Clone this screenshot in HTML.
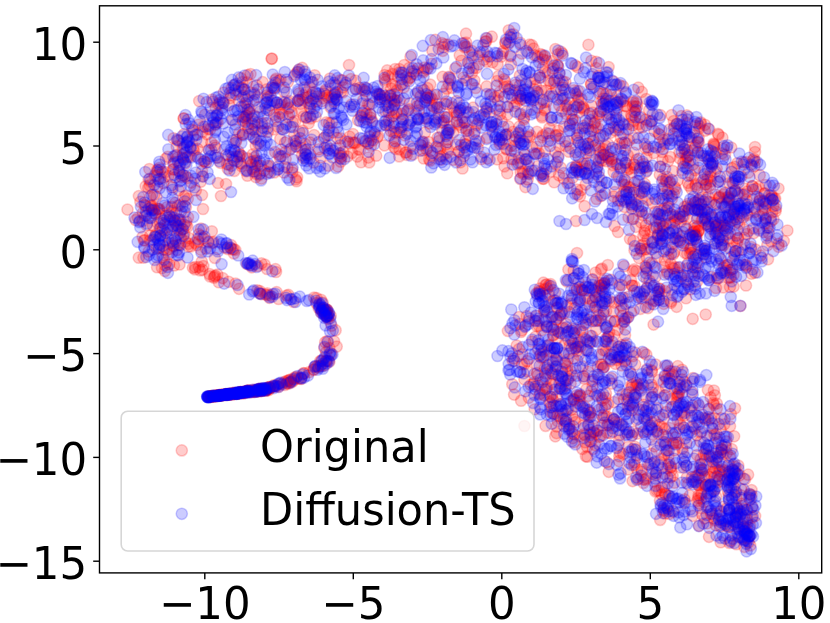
<!DOCTYPE html>
<html><head><meta charset="utf-8"><title>t-SNE</title><style>
html,body{margin:0;padding:0;background:#fff;overflow:hidden}
svg{display:block}
text{font-family:"DejaVu Sans","Liberation Sans",sans-serif;font-size:43.5px;fill:#000}
</style></head><body>
<svg width="830" height="623" viewBox="0 0 830 623">
<rect width="830" height="623" fill="#fff"/>
<g fill="#f00" fill-opacity=".2" stroke="#f00" stroke-opacity=".2" stroke-width="1.5"><circle cx="396.5" cy="111.9" r="5.6"/><circle cx="646.4" cy="278.5" r="5.6"/><circle cx="713.5" cy="143.6" r="5.6"/><circle cx="150.2" cy="235.6" r="5.6"/><circle cx="771.5" cy="195.2" r="5.6"/><circle cx="694.8" cy="170.1" r="5.6"/><circle cx="167.3" cy="207.0" r="5.6"/><circle cx="332.0" cy="122.5" r="5.6"/><circle cx="144.6" cy="205.0" r="5.6"/><circle cx="169.4" cy="249.1" r="5.6"/><circle cx="708.3" cy="196.8" r="5.6"/><circle cx="731.6" cy="449.1" r="5.6"/><circle cx="395.6" cy="148.9" r="5.6"/><circle cx="402.4" cy="119.2" r="5.6"/><circle cx="746.8" cy="213.6" r="5.6"/><circle cx="145.0" cy="215.7" r="5.6"/><circle cx="715.0" cy="489.3" r="5.6"/><circle cx="280.5" cy="79.5" r="5.6"/><circle cx="613.7" cy="127.0" r="5.6"/><circle cx="637.1" cy="106.6" r="5.6"/><circle cx="292.7" cy="122.3" r="5.6"/><circle cx="646.3" cy="268.2" r="5.6"/><circle cx="270.2" cy="166.2" r="5.6"/><circle cx="165.8" cy="158.8" r="5.6"/><circle cx="674.4" cy="126.6" r="5.6"/><circle cx="729.3" cy="542.9" r="5.6"/><circle cx="641.4" cy="469.6" r="5.6"/><circle cx="729.1" cy="227.2" r="5.6"/><circle cx="713.9" cy="390.5" r="5.6"/><circle cx="662.4" cy="194.2" r="5.6"/><circle cx="585.7" cy="286.5" r="5.6"/><circle cx="649.4" cy="280.5" r="5.6"/><circle cx="542.8" cy="67.7" r="5.6"/><circle cx="614.0" cy="302.6" r="5.6"/><circle cx="658.3" cy="233.7" r="5.6"/><circle cx="567.9" cy="359.4" r="5.6"/><circle cx="198.3" cy="124.9" r="5.6"/><circle cx="668.9" cy="206.4" r="5.6"/><circle cx="617.3" cy="96.4" r="5.6"/><circle cx="252.0" cy="168.8" r="5.6"/><circle cx="313.6" cy="162.5" r="5.6"/><circle cx="719.6" cy="196.5" r="5.6"/><circle cx="602.0" cy="354.4" r="5.6"/><circle cx="517.0" cy="164.3" r="5.6"/><circle cx="574.2" cy="419.6" r="5.6"/><circle cx="305.4" cy="97.8" r="5.6"/><circle cx="659.2" cy="291.3" r="5.6"/><circle cx="625.7" cy="162.6" r="5.6"/><circle cx="599.4" cy="295.8" r="5.6"/><circle cx="513.9" cy="159.4" r="5.6"/><circle cx="688.1" cy="484.1" r="5.6"/><circle cx="456.1" cy="144.5" r="5.6"/><circle cx="318.8" cy="149.3" r="5.6"/><circle cx="390.8" cy="131.0" r="5.6"/><circle cx="674.6" cy="388.3" r="5.6"/><circle cx="576.9" cy="288.4" r="5.6"/><circle cx="691.4" cy="137.6" r="5.6"/><circle cx="643.4" cy="432.2" r="5.6"/><circle cx="557.4" cy="65.0" r="5.6"/><circle cx="665.0" cy="429.0" r="5.6"/><circle cx="492.3" cy="125.1" r="5.6"/><circle cx="687.4" cy="150.2" r="5.6"/><circle cx="629.9" cy="199.8" r="5.6"/><circle cx="589.7" cy="342.1" r="5.6"/><circle cx="602.3" cy="425.5" r="5.6"/><circle cx="193.0" cy="148.5" r="5.6"/><circle cx="668.2" cy="161.1" r="5.6"/><circle cx="578.5" cy="281.7" r="5.6"/><circle cx="664.5" cy="474.1" r="5.6"/><circle cx="169.4" cy="213.3" r="5.6"/><circle cx="760.0" cy="200.1" r="5.6"/><circle cx="475.6" cy="88.0" r="5.6"/><circle cx="565.4" cy="363.7" r="5.6"/><circle cx="283.8" cy="172.5" r="5.6"/><circle cx="445.9" cy="144.5" r="5.6"/><circle cx="578.0" cy="343.0" r="5.6"/><circle cx="605.9" cy="393.4" r="5.6"/><circle cx="651.7" cy="370.3" r="5.6"/><circle cx="254.7" cy="125.4" r="5.6"/><circle cx="137.9" cy="217.8" r="5.6"/><circle cx="205.0" cy="114.7" r="5.6"/><circle cx="515.1" cy="85.2" r="5.6"/><circle cx="552.0" cy="382.2" r="5.6"/><circle cx="143.4" cy="257.7" r="5.6"/><circle cx="503.2" cy="51.2" r="5.6"/><circle cx="672.7" cy="443.0" r="5.6"/><circle cx="536.7" cy="326.1" r="5.6"/><circle cx="555.9" cy="136.1" r="5.6"/><circle cx="305.6" cy="153.6" r="5.6"/><circle cx="702.1" cy="514.5" r="5.6"/><circle cx="384.7" cy="75.0" r="5.6"/><circle cx="598.5" cy="128.3" r="5.6"/><circle cx="728.5" cy="527.2" r="5.6"/><circle cx="521.8" cy="53.6" r="5.6"/><circle cx="572.1" cy="375.3" r="5.6"/><circle cx="636.7" cy="159.6" r="5.6"/><circle cx="591.0" cy="437.1" r="5.6"/><circle cx="701.8" cy="220.2" r="5.6"/><circle cx="647.0" cy="408.6" r="5.6"/><circle cx="651.0" cy="304.1" r="5.6"/><circle cx="393.9" cy="147.0" r="5.6"/><circle cx="686.4" cy="219.1" r="5.6"/><circle cx="510.1" cy="89.5" r="5.6"/><circle cx="571.7" cy="298.2" r="5.6"/><circle cx="546.4" cy="133.2" r="5.6"/><circle cx="670.9" cy="301.2" r="5.6"/><circle cx="579.9" cy="196.3" r="5.6"/><circle cx="519.1" cy="317.1" r="5.6"/><circle cx="771.1" cy="221.3" r="5.6"/><circle cx="634.3" cy="286.1" r="5.6"/><circle cx="607.8" cy="265.0" r="5.6"/><circle cx="189.6" cy="141.7" r="5.6"/><circle cx="399.4" cy="149.4" r="5.6"/><circle cx="437.5" cy="137.8" r="5.6"/><circle cx="399.3" cy="69.0" r="5.6"/><circle cx="193.8" cy="150.4" r="5.6"/><circle cx="735.2" cy="180.5" r="5.6"/><circle cx="539.8" cy="292.0" r="5.6"/><circle cx="447.7" cy="139.6" r="5.6"/><circle cx="709.7" cy="455.4" r="5.6"/><circle cx="560.6" cy="167.5" r="5.6"/><circle cx="714.5" cy="418.3" r="5.6"/><circle cx="593.6" cy="418.6" r="5.6"/><circle cx="644.7" cy="143.9" r="5.6"/><circle cx="521.9" cy="99.1" r="5.6"/><circle cx="240.5" cy="154.9" r="5.6"/><circle cx="771.1" cy="241.5" r="5.6"/><circle cx="655.5" cy="277.1" r="5.6"/><circle cx="368.3" cy="157.6" r="5.6"/><circle cx="734.7" cy="166.9" r="5.6"/><circle cx="168.4" cy="254.5" r="5.6"/><circle cx="680.8" cy="221.5" r="5.6"/><circle cx="673.2" cy="215.0" r="5.6"/><circle cx="557.3" cy="307.4" r="5.6"/><circle cx="228.5" cy="164.5" r="5.6"/><circle cx="603.5" cy="103.7" r="5.6"/><circle cx="423.4" cy="70.7" r="5.6"/><circle cx="731.8" cy="168.2" r="5.6"/><circle cx="590.2" cy="412.8" r="5.6"/><circle cx="662.6" cy="159.7" r="5.6"/><circle cx="701.3" cy="492.6" r="5.6"/><circle cx="699.5" cy="209.9" r="5.6"/><circle cx="535.9" cy="85.6" r="5.6"/><circle cx="544.7" cy="151.6" r="5.6"/><circle cx="226.2" cy="154.8" r="5.6"/><circle cx="647.1" cy="369.1" r="5.6"/><circle cx="621.2" cy="200.9" r="5.6"/><circle cx="316.4" cy="101.2" r="5.6"/><circle cx="533.6" cy="48.6" r="5.6"/><circle cx="254.1" cy="157.6" r="5.6"/><circle cx="343.4" cy="152.2" r="5.6"/><circle cx="608.7" cy="158.2" r="5.6"/><circle cx="694.9" cy="228.2" r="5.6"/><circle cx="604.0" cy="283.9" r="5.6"/><circle cx="576.3" cy="127.9" r="5.6"/><circle cx="705.2" cy="459.8" r="5.6"/><circle cx="504.9" cy="81.0" r="5.6"/><circle cx="300.0" cy="141.8" r="5.6"/><circle cx="677.6" cy="272.7" r="5.6"/><circle cx="566.8" cy="281.4" r="5.6"/><circle cx="631.8" cy="204.9" r="5.6"/><circle cx="735.2" cy="190.1" r="5.6"/><circle cx="580.8" cy="107.7" r="5.6"/><circle cx="325.7" cy="89.8" r="5.6"/><circle cx="612.0" cy="354.8" r="5.6"/><circle cx="635.1" cy="352.5" r="5.6"/><circle cx="616.0" cy="119.4" r="5.6"/><circle cx="640.3" cy="308.9" r="5.6"/><circle cx="312.8" cy="82.2" r="5.6"/><circle cx="557.6" cy="78.0" r="5.6"/><circle cx="312.7" cy="92.7" r="5.6"/><circle cx="473.4" cy="68.0" r="5.6"/><circle cx="564.2" cy="126.6" r="5.6"/><circle cx="734.7" cy="191.5" r="5.6"/><circle cx="614.7" cy="192.2" r="5.6"/><circle cx="692.5" cy="232.6" r="5.6"/><circle cx="703.7" cy="454.4" r="5.6"/><circle cx="183.0" cy="229.3" r="5.6"/><circle cx="623.7" cy="101.1" r="5.6"/><circle cx="645.4" cy="167.5" r="5.6"/><circle cx="743.5" cy="162.4" r="5.6"/><circle cx="146.7" cy="225.2" r="5.6"/><circle cx="628.7" cy="187.3" r="5.6"/><circle cx="407.1" cy="111.3" r="5.6"/><circle cx="725.0" cy="154.8" r="5.6"/><circle cx="662.8" cy="226.7" r="5.6"/><circle cx="617.9" cy="356.9" r="5.6"/><circle cx="300.7" cy="103.9" r="5.6"/><circle cx="236.2" cy="139.9" r="5.6"/><circle cx="583.8" cy="108.3" r="5.6"/><circle cx="746.7" cy="234.1" r="5.6"/><circle cx="504.5" cy="166.4" r="5.6"/><circle cx="523.9" cy="119.6" r="5.6"/><circle cx="729.8" cy="248.3" r="5.6"/><circle cx="603.5" cy="313.9" r="5.6"/><circle cx="246.9" cy="99.7" r="5.6"/><circle cx="595.1" cy="445.1" r="5.6"/><circle cx="540.7" cy="354.1" r="5.6"/><circle cx="563.3" cy="327.5" r="5.6"/><circle cx="747.2" cy="522.9" r="5.6"/><circle cx="512.8" cy="360.9" r="5.6"/><circle cx="708.9" cy="201.8" r="5.6"/><circle cx="671.1" cy="470.7" r="5.6"/><circle cx="542.4" cy="356.9" r="5.6"/><circle cx="634.5" cy="462.2" r="5.6"/><circle cx="673.3" cy="511.8" r="5.6"/><circle cx="652.2" cy="203.0" r="5.6"/><circle cx="214.9" cy="257.9" r="5.6"/><circle cx="340.6" cy="80.0" r="5.6"/><circle cx="175.3" cy="202.9" r="5.6"/><circle cx="741.4" cy="176.4" r="5.6"/><circle cx="645.5" cy="479.7" r="5.6"/><circle cx="145.7" cy="186.3" r="5.6"/><circle cx="631.1" cy="312.4" r="5.6"/><circle cx="664.9" cy="493.3" r="5.6"/><circle cx="677.6" cy="419.8" r="5.6"/><circle cx="595.2" cy="296.5" r="5.6"/><circle cx="559.2" cy="332.7" r="5.6"/><circle cx="713.8" cy="467.6" r="5.6"/><circle cx="667.6" cy="207.4" r="5.6"/><circle cx="534.8" cy="55.3" r="5.6"/><circle cx="394.1" cy="101.4" r="5.6"/><circle cx="505.6" cy="43.3" r="5.6"/><circle cx="595.2" cy="321.0" r="5.6"/><circle cx="291.8" cy="112.4" r="5.6"/><circle cx="775.2" cy="198.4" r="5.6"/><circle cx="593.8" cy="431.9" r="5.6"/><circle cx="418.7" cy="110.4" r="5.6"/><circle cx="503.9" cy="79.3" r="5.6"/><circle cx="479.2" cy="141.3" r="5.6"/><circle cx="603.6" cy="84.0" r="5.6"/><circle cx="753.8" cy="233.1" r="5.6"/><circle cx="638.9" cy="211.2" r="5.6"/><circle cx="751.2" cy="247.0" r="5.6"/><circle cx="606.6" cy="416.3" r="5.6"/><circle cx="188.6" cy="243.8" r="5.6"/><circle cx="598.4" cy="75.9" r="5.6"/><circle cx="682.0" cy="369.8" r="5.6"/><circle cx="671.0" cy="407.7" r="5.6"/><circle cx="190.8" cy="246.4" r="5.6"/><circle cx="755.7" cy="249.6" r="5.6"/><circle cx="748.3" cy="172.7" r="5.6"/><circle cx="648.4" cy="150.0" r="5.6"/><circle cx="735.0" cy="208.8" r="5.6"/><circle cx="738.5" cy="528.1" r="5.6"/><circle cx="366.5" cy="113.9" r="5.6"/><circle cx="620.0" cy="452.8" r="5.6"/><circle cx="752.5" cy="186.2" r="5.6"/><circle cx="657.3" cy="408.0" r="5.6"/><circle cx="544.4" cy="309.9" r="5.6"/><circle cx="349.5" cy="136.6" r="5.6"/><circle cx="601.2" cy="320.6" r="5.6"/><circle cx="627.8" cy="155.3" r="5.6"/><circle cx="715.9" cy="525.4" r="5.6"/><circle cx="520.7" cy="172.3" r="5.6"/><circle cx="292.0" cy="169.2" r="5.6"/><circle cx="258.7" cy="107.3" r="5.6"/><circle cx="625.0" cy="335.2" r="5.6"/><circle cx="591.3" cy="441.3" r="5.6"/><circle cx="306.2" cy="117.7" r="5.6"/><circle cx="506.0" cy="148.9" r="5.6"/><circle cx="366.9" cy="119.4" r="5.6"/><circle cx="275.1" cy="152.1" r="5.6"/><circle cx="679.1" cy="241.5" r="5.6"/><circle cx="656.2" cy="472.7" r="5.6"/><circle cx="438.6" cy="141.2" r="5.6"/><circle cx="685.1" cy="153.2" r="5.6"/><circle cx="679.3" cy="140.4" r="5.6"/><circle cx="750.1" cy="525.9" r="5.6"/><circle cx="542.3" cy="137.1" r="5.6"/><circle cx="224.4" cy="247.4" r="5.6"/><circle cx="177.4" cy="157.8" r="5.6"/><circle cx="595.4" cy="306.3" r="5.6"/><circle cx="596.7" cy="430.4" r="5.6"/><circle cx="295.2" cy="121.2" r="5.6"/><circle cx="698.6" cy="495.3" r="5.6"/><circle cx="326.7" cy="145.8" r="5.6"/><circle cx="676.6" cy="306.8" r="5.6"/><circle cx="138.9" cy="196.1" r="5.6"/><circle cx="721.4" cy="418.3" r="5.6"/><circle cx="710.9" cy="181.2" r="5.6"/><circle cx="553.0" cy="374.3" r="5.6"/><circle cx="410.4" cy="146.9" r="5.6"/><circle cx="681.3" cy="116.2" r="5.6"/><circle cx="672.9" cy="374.8" r="5.6"/><circle cx="197.0" cy="245.1" r="5.6"/><circle cx="674.7" cy="187.0" r="5.6"/><circle cx="426.5" cy="149.4" r="5.6"/><circle cx="302.4" cy="99.6" r="5.6"/><circle cx="699.9" cy="470.3" r="5.6"/><circle cx="463.7" cy="156.2" r="5.6"/><circle cx="388.8" cy="120.5" r="5.6"/><circle cx="603.9" cy="280.5" r="5.6"/><circle cx="754.0" cy="158.8" r="5.6"/><circle cx="724.9" cy="470.8" r="5.6"/><circle cx="684.7" cy="145.6" r="5.6"/><circle cx="569.4" cy="424.7" r="5.6"/><circle cx="599.1" cy="285.8" r="5.6"/><circle cx="171.9" cy="211.1" r="5.6"/><circle cx="502.2" cy="53.5" r="5.6"/><circle cx="159.2" cy="247.9" r="5.6"/><circle cx="326.5" cy="122.3" r="5.6"/><circle cx="613.6" cy="311.9" r="5.6"/><circle cx="636.0" cy="226.8" r="5.6"/><circle cx="663.4" cy="267.0" r="5.6"/><circle cx="360.0" cy="149.9" r="5.6"/><circle cx="741.7" cy="503.8" r="5.6"/><circle cx="608.6" cy="67.1" r="5.6"/><circle cx="369.2" cy="162.4" r="5.6"/><circle cx="716.0" cy="513.6" r="5.6"/><circle cx="634.9" cy="446.8" r="5.6"/><circle cx="541.0" cy="357.6" r="5.6"/><circle cx="670.9" cy="263.7" r="5.6"/><circle cx="687.7" cy="156.5" r="5.6"/><circle cx="744.1" cy="229.4" r="5.6"/><circle cx="727.7" cy="199.9" r="5.6"/><circle cx="747.2" cy="191.7" r="5.6"/><circle cx="624.7" cy="361.6" r="5.6"/><circle cx="533.4" cy="384.0" r="5.6"/><circle cx="540.6" cy="296.3" r="5.6"/><circle cx="208.2" cy="129.0" r="5.6"/><circle cx="591.0" cy="84.5" r="5.6"/><circle cx="632.4" cy="218.9" r="5.6"/><circle cx="185.9" cy="207.2" r="5.6"/><circle cx="661.7" cy="458.9" r="5.6"/><circle cx="624.2" cy="322.1" r="5.6"/><circle cx="468.7" cy="135.1" r="5.6"/><circle cx="636.6" cy="382.8" r="5.6"/><circle cx="571.2" cy="409.9" r="5.6"/><circle cx="694.0" cy="231.9" r="5.6"/><circle cx="557.9" cy="135.1" r="5.6"/><circle cx="521.1" cy="332.0" r="5.6"/><circle cx="650.8" cy="463.1" r="5.6"/><circle cx="774.2" cy="199.0" r="5.6"/><circle cx="747.5" cy="509.9" r="5.6"/><circle cx="409.6" cy="103.4" r="5.6"/><circle cx="722.4" cy="137.7" r="5.6"/><circle cx="678.4" cy="395.3" r="5.6"/><circle cx="550.5" cy="171.7" r="5.6"/><circle cx="579.4" cy="112.4" r="5.6"/><circle cx="765.1" cy="207.1" r="5.6"/><circle cx="394.5" cy="143.0" r="5.6"/><circle cx="746.6" cy="266.6" r="5.6"/><circle cx="590.8" cy="433.2" r="5.6"/><circle cx="638.3" cy="87.7" r="5.6"/><circle cx="598.7" cy="162.2" r="5.6"/><circle cx="713.3" cy="403.1" r="5.6"/><circle cx="567.2" cy="366.3" r="5.6"/><circle cx="754.4" cy="166.3" r="5.6"/><circle cx="643.4" cy="482.9" r="5.6"/><circle cx="278.3" cy="104.5" r="5.6"/><circle cx="730.3" cy="540.7" r="5.6"/><circle cx="575.5" cy="422.2" r="5.6"/><circle cx="200.9" cy="235.9" r="5.6"/><circle cx="135.6" cy="220.1" r="5.6"/><circle cx="703.0" cy="249.2" r="5.6"/><circle cx="713.3" cy="471.9" r="5.6"/><circle cx="254.0" cy="138.2" r="5.6"/><circle cx="713.8" cy="144.6" r="5.6"/><circle cx="772.1" cy="212.2" r="5.6"/><circle cx="477.8" cy="148.3" r="5.6"/><circle cx="164.1" cy="177.4" r="5.6"/><circle cx="543.0" cy="135.3" r="5.6"/><circle cx="592.9" cy="449.0" r="5.6"/><circle cx="389.7" cy="95.6" r="5.6"/><circle cx="280.1" cy="113.2" r="5.6"/><circle cx="526.7" cy="316.2" r="5.6"/><circle cx="725.4" cy="479.8" r="5.6"/><circle cx="748.1" cy="474.7" r="5.6"/><circle cx="585.9" cy="456.3" r="5.6"/><circle cx="178.2" cy="230.0" r="5.6"/><circle cx="738.0" cy="250.2" r="5.6"/><circle cx="669.3" cy="462.7" r="5.6"/><circle cx="530.6" cy="135.4" r="5.6"/><circle cx="173.8" cy="246.3" r="5.6"/><circle cx="155.1" cy="236.1" r="5.6"/><circle cx="645.4" cy="266.2" r="5.6"/><circle cx="646.7" cy="417.6" r="5.6"/><circle cx="247.5" cy="75.2" r="5.6"/><circle cx="479.1" cy="116.8" r="5.6"/><circle cx="588.6" cy="424.6" r="5.6"/><circle cx="580.6" cy="346.5" r="5.6"/><circle cx="249.0" cy="112.6" r="5.6"/><circle cx="663.4" cy="226.4" r="5.6"/><circle cx="323.2" cy="98.1" r="5.6"/><circle cx="530.7" cy="384.9" r="5.6"/><circle cx="294.1" cy="135.4" r="5.6"/><circle cx="705.6" cy="224.7" r="5.6"/><circle cx="605.2" cy="145.5" r="5.6"/><circle cx="254.7" cy="171.5" r="5.6"/><circle cx="199.2" cy="101.1" r="5.6"/><circle cx="448.8" cy="83.9" r="5.6"/><circle cx="548.8" cy="80.7" r="5.6"/><circle cx="382.0" cy="97.1" r="5.6"/><circle cx="634.2" cy="465.0" r="5.6"/><circle cx="699.9" cy="197.9" r="5.6"/><circle cx="754.7" cy="212.0" r="5.6"/><circle cx="729.1" cy="474.3" r="5.6"/><circle cx="543.6" cy="173.8" r="5.6"/><circle cx="537.5" cy="107.6" r="5.6"/><circle cx="442.2" cy="130.1" r="5.6"/><circle cx="527.1" cy="136.8" r="5.6"/><circle cx="582.5" cy="290.0" r="5.6"/><circle cx="554.2" cy="182.2" r="5.6"/><circle cx="720.2" cy="526.5" r="5.6"/><circle cx="423.4" cy="72.2" r="5.6"/><circle cx="688.5" cy="210.0" r="5.6"/><circle cx="662.7" cy="231.1" r="5.6"/><circle cx="726.0" cy="525.3" r="5.6"/><circle cx="572.3" cy="415.8" r="5.6"/><circle cx="150.3" cy="196.8" r="5.6"/><circle cx="574.7" cy="349.0" r="5.6"/><circle cx="683.0" cy="453.1" r="5.6"/><circle cx="371.0" cy="145.7" r="5.6"/><circle cx="217.8" cy="157.5" r="5.6"/><circle cx="278.1" cy="126.8" r="5.6"/><circle cx="600.9" cy="269.6" r="5.6"/><circle cx="259.2" cy="174.9" r="5.6"/><circle cx="697.8" cy="217.1" r="5.6"/><circle cx="609.3" cy="425.7" r="5.6"/><circle cx="755.1" cy="516.0" r="5.6"/><circle cx="679.0" cy="392.8" r="5.6"/><circle cx="474.7" cy="131.7" r="5.6"/><circle cx="537.0" cy="131.8" r="5.6"/><circle cx="641.8" cy="91.9" r="5.6"/><circle cx="571.0" cy="371.1" r="5.6"/><circle cx="604.8" cy="155.0" r="5.6"/><circle cx="436.4" cy="103.6" r="5.6"/><circle cx="347.5" cy="156.5" r="5.6"/><circle cx="240.3" cy="162.8" r="5.6"/><circle cx="185.2" cy="163.4" r="5.6"/><circle cx="772.2" cy="196.9" r="5.6"/><circle cx="453.1" cy="159.8" r="5.6"/><circle cx="622.4" cy="142.9" r="5.6"/><circle cx="370.0" cy="114.2" r="5.6"/><circle cx="328.5" cy="165.7" r="5.6"/><circle cx="511.6" cy="98.1" r="5.6"/><circle cx="573.2" cy="358.5" r="5.6"/><circle cx="651.6" cy="219.4" r="5.6"/><circle cx="661.0" cy="294.1" r="5.6"/><circle cx="233.0" cy="159.4" r="5.6"/><circle cx="273.3" cy="88.0" r="5.6"/><circle cx="250.5" cy="74.1" r="5.6"/><circle cx="684.7" cy="226.2" r="5.6"/><circle cx="672.0" cy="198.8" r="5.6"/><circle cx="643.4" cy="479.6" r="5.6"/><circle cx="626.7" cy="143.5" r="5.6"/><circle cx="702.6" cy="194.6" r="5.6"/><circle cx="519.8" cy="114.7" r="5.6"/><circle cx="672.6" cy="476.0" r="5.6"/><circle cx="726.1" cy="447.4" r="5.6"/><circle cx="719.3" cy="212.0" r="5.6"/><circle cx="680.4" cy="240.3" r="5.6"/><circle cx="689.9" cy="495.6" r="5.6"/><circle cx="686.0" cy="298.2" r="5.6"/><circle cx="652.0" cy="263.4" r="5.6"/><circle cx="643.6" cy="187.1" r="5.6"/><circle cx="285.5" cy="151.9" r="5.6"/><circle cx="711.4" cy="202.5" r="5.6"/><circle cx="631.5" cy="435.7" r="5.6"/><circle cx="724.7" cy="206.4" r="5.6"/><circle cx="710.5" cy="435.3" r="5.6"/><circle cx="446.8" cy="104.5" r="5.6"/><circle cx="550.6" cy="284.2" r="5.6"/><circle cx="582.7" cy="366.4" r="5.6"/><circle cx="716.1" cy="496.6" r="5.6"/><circle cx="582.3" cy="290.3" r="5.6"/><circle cx="633.4" cy="240.8" r="5.6"/><circle cx="698.3" cy="498.0" r="5.6"/><circle cx="668.5" cy="138.5" r="5.6"/><circle cx="647.1" cy="420.5" r="5.6"/><circle cx="657.7" cy="235.1" r="5.6"/><circle cx="715.5" cy="171.5" r="5.6"/><circle cx="747.3" cy="215.1" r="5.6"/><circle cx="767.3" cy="245.2" r="5.6"/><circle cx="355.6" cy="142.7" r="5.6"/><circle cx="566.6" cy="426.0" r="5.6"/><circle cx="710.6" cy="492.7" r="5.6"/><circle cx="578.0" cy="97.2" r="5.6"/><circle cx="241.8" cy="87.6" r="5.6"/><circle cx="703.8" cy="502.0" r="5.6"/><circle cx="555.4" cy="49.2" r="5.6"/><circle cx="573.3" cy="399.1" r="5.6"/><circle cx="570.6" cy="383.4" r="5.6"/><circle cx="526.3" cy="111.7" r="5.6"/><circle cx="529.4" cy="174.1" r="5.6"/><circle cx="541.1" cy="172.6" r="5.6"/><circle cx="184.2" cy="234.1" r="5.6"/><circle cx="671.5" cy="376.4" r="5.6"/><circle cx="560.7" cy="404.4" r="5.6"/><circle cx="714.8" cy="395.3" r="5.6"/><circle cx="588.1" cy="371.8" r="5.6"/><circle cx="671.0" cy="399.0" r="5.6"/><circle cx="562.4" cy="53.7" r="5.6"/><circle cx="672.7" cy="268.2" r="5.6"/><circle cx="553.3" cy="68.6" r="5.6"/><circle cx="700.0" cy="464.7" r="5.6"/><circle cx="677.1" cy="394.1" r="5.6"/><circle cx="653.9" cy="481.6" r="5.6"/><circle cx="150.7" cy="205.6" r="5.6"/><circle cx="559.0" cy="175.3" r="5.6"/><circle cx="602.8" cy="155.0" r="5.6"/><circle cx="598.9" cy="116.4" r="5.6"/><circle cx="585.8" cy="149.0" r="5.6"/><circle cx="692.1" cy="477.2" r="5.6"/><circle cx="682.4" cy="448.5" r="5.6"/><circle cx="625.7" cy="185.2" r="5.6"/><circle cx="586.4" cy="168.9" r="5.6"/><circle cx="673.4" cy="254.0" r="5.6"/><circle cx="715.3" cy="231.9" r="5.6"/><circle cx="684.4" cy="381.9" r="5.6"/><circle cx="717.8" cy="482.4" r="5.6"/><circle cx="622.6" cy="394.2" r="5.6"/><circle cx="692.9" cy="426.7" r="5.6"/><circle cx="718.6" cy="134.9" r="5.6"/><circle cx="674.9" cy="267.0" r="5.6"/><circle cx="702.7" cy="218.4" r="5.6"/><circle cx="674.4" cy="482.7" r="5.6"/><circle cx="364.5" cy="111.2" r="5.6"/><circle cx="601.4" cy="285.3" r="5.6"/><circle cx="720.6" cy="429.3" r="5.6"/><circle cx="683.5" cy="243.2" r="5.6"/><circle cx="600.4" cy="288.4" r="5.6"/><circle cx="669.5" cy="513.9" r="5.6"/><circle cx="519.9" cy="85.3" r="5.6"/><circle cx="605.4" cy="397.5" r="5.6"/><circle cx="576.7" cy="290.0" r="5.6"/><circle cx="539.8" cy="77.3" r="5.6"/><circle cx="204.7" cy="161.3" r="5.6"/><circle cx="487.4" cy="158.6" r="5.6"/><circle cx="247.0" cy="104.1" r="5.6"/><circle cx="637.5" cy="433.6" r="5.6"/><circle cx="698.3" cy="273.1" r="5.6"/><circle cx="701.3" cy="182.6" r="5.6"/><circle cx="405.1" cy="135.5" r="5.6"/><circle cx="722.4" cy="222.7" r="5.6"/><circle cx="174.0" cy="265.5" r="5.6"/><circle cx="168.4" cy="226.5" r="5.6"/><circle cx="627.0" cy="432.5" r="5.6"/><circle cx="693.0" cy="164.6" r="5.6"/><circle cx="575.3" cy="65.4" r="5.6"/><circle cx="342.7" cy="92.5" r="5.6"/><circle cx="255.8" cy="177.1" r="5.6"/><circle cx="743.0" cy="217.5" r="5.6"/><circle cx="771.7" cy="198.1" r="5.6"/><circle cx="358.3" cy="149.4" r="5.6"/><circle cx="635.3" cy="449.2" r="5.6"/><circle cx="161.2" cy="218.9" r="5.6"/><circle cx="576.5" cy="346.8" r="5.6"/><circle cx="559.8" cy="416.1" r="5.6"/><circle cx="591.4" cy="60.8" r="5.6"/><circle cx="364.3" cy="141.1" r="5.6"/><circle cx="701.1" cy="155.5" r="5.6"/><circle cx="310.8" cy="103.9" r="5.6"/><circle cx="541.7" cy="330.1" r="5.6"/><circle cx="626.2" cy="129.5" r="5.6"/><circle cx="682.1" cy="379.3" r="5.6"/><circle cx="592.6" cy="300.6" r="5.6"/><circle cx="764.8" cy="193.3" r="5.6"/><circle cx="534.5" cy="382.0" r="5.6"/><circle cx="455.2" cy="68.4" r="5.6"/><circle cx="573.7" cy="442.4" r="5.6"/><circle cx="296.6" cy="181.2" r="5.6"/><circle cx="654.9" cy="421.1" r="5.6"/><circle cx="341.4" cy="156.2" r="5.6"/><circle cx="667.1" cy="271.5" r="5.6"/><circle cx="497.9" cy="100.6" r="5.6"/><circle cx="591.2" cy="84.1" r="5.6"/><circle cx="603.0" cy="417.8" r="5.6"/><circle cx="519.9" cy="75.6" r="5.6"/><circle cx="406.4" cy="152.4" r="5.6"/><circle cx="577.8" cy="194.6" r="5.6"/><circle cx="583.2" cy="376.2" r="5.6"/><circle cx="736.3" cy="505.9" r="5.6"/><circle cx="427.5" cy="88.2" r="5.6"/><circle cx="698.8" cy="142.4" r="5.6"/><circle cx="251.9" cy="164.7" r="5.6"/><circle cx="451.7" cy="87.9" r="5.6"/><circle cx="592.6" cy="279.0" r="5.6"/><circle cx="665.9" cy="387.3" r="5.6"/><circle cx="592.8" cy="141.3" r="5.6"/><circle cx="576.7" cy="351.1" r="5.6"/><circle cx="462.4" cy="122.1" r="5.6"/><circle cx="522.7" cy="171.5" r="5.6"/><circle cx="561.2" cy="51.9" r="5.6"/><circle cx="743.6" cy="526.9" r="5.6"/><circle cx="665.9" cy="412.2" r="5.6"/><circle cx="695.9" cy="145.6" r="5.6"/><circle cx="732.8" cy="220.5" r="5.6"/><circle cx="491.8" cy="36.7" r="5.6"/><circle cx="545.9" cy="379.2" r="5.6"/><circle cx="562.7" cy="95.6" r="5.6"/><circle cx="765.7" cy="218.2" r="5.6"/><circle cx="648.2" cy="429.5" r="5.6"/><circle cx="618.7" cy="423.1" r="5.6"/><circle cx="659.8" cy="214.8" r="5.6"/><circle cx="697.5" cy="475.5" r="5.6"/><circle cx="583.8" cy="109.8" r="5.6"/><circle cx="765.8" cy="185.1" r="5.6"/><circle cx="248.2" cy="128.3" r="5.6"/><circle cx="581.4" cy="99.1" r="5.6"/><circle cx="674.3" cy="450.4" r="5.6"/><circle cx="153.7" cy="208.9" r="5.6"/><circle cx="713.6" cy="518.5" r="5.6"/><circle cx="486.8" cy="61.7" r="5.6"/><circle cx="249.4" cy="109.2" r="5.6"/><circle cx="644.7" cy="233.1" r="5.6"/><circle cx="656.8" cy="490.6" r="5.6"/><circle cx="698.7" cy="231.1" r="5.6"/><circle cx="639.0" cy="258.1" r="5.6"/><circle cx="530.1" cy="82.6" r="5.6"/><circle cx="700.6" cy="204.8" r="5.6"/><circle cx="595.9" cy="127.5" r="5.6"/><circle cx="730.8" cy="414.0" r="5.6"/><circle cx="584.9" cy="416.0" r="5.6"/><circle cx="552.0" cy="120.4" r="5.6"/><circle cx="280.6" cy="104.5" r="5.6"/><circle cx="409.2" cy="109.1" r="5.6"/><circle cx="578.4" cy="100.2" r="5.6"/><circle cx="644.7" cy="291.6" r="5.6"/><circle cx="619.6" cy="435.1" r="5.6"/><circle cx="145.5" cy="205.9" r="5.6"/><circle cx="600.9" cy="435.9" r="5.6"/><circle cx="526.9" cy="361.1" r="5.6"/><circle cx="738.0" cy="238.4" r="5.6"/><circle cx="727.8" cy="491.3" r="5.6"/><circle cx="310.9" cy="118.4" r="5.6"/><circle cx="627.3" cy="169.9" r="5.6"/><circle cx="511.5" cy="159.0" r="5.6"/><circle cx="684.1" cy="502.7" r="5.6"/><circle cx="737.9" cy="238.2" r="5.6"/><circle cx="391.6" cy="98.7" r="5.6"/><circle cx="200.7" cy="181.7" r="5.6"/><circle cx="720.0" cy="511.7" r="5.6"/><circle cx="391.7" cy="116.6" r="5.6"/><circle cx="649.1" cy="464.7" r="5.6"/><circle cx="715.5" cy="194.6" r="5.6"/><circle cx="365.4" cy="91.3" r="5.6"/><circle cx="725.4" cy="225.6" r="5.6"/><circle cx="396.5" cy="113.3" r="5.6"/><circle cx="442.6" cy="155.6" r="5.6"/><circle cx="424.4" cy="67.7" r="5.6"/><circle cx="461.5" cy="60.8" r="5.6"/><circle cx="717.8" cy="456.8" r="5.6"/><circle cx="561.9" cy="389.1" r="5.6"/><circle cx="223.4" cy="103.1" r="5.6"/><circle cx="601.1" cy="364.5" r="5.6"/><circle cx="738.3" cy="465.6" r="5.6"/><circle cx="374.8" cy="134.1" r="5.6"/><circle cx="151.3" cy="207.2" r="5.6"/><circle cx="716.7" cy="168.6" r="5.6"/><circle cx="280.0" cy="158.2" r="5.6"/><circle cx="234.4" cy="170.9" r="5.6"/><circle cx="643.7" cy="404.8" r="5.6"/><circle cx="200.2" cy="270.4" r="5.6"/><circle cx="536.9" cy="373.2" r="5.6"/><circle cx="734.5" cy="255.7" r="5.6"/><circle cx="730.5" cy="526.8" r="5.6"/><circle cx="586.1" cy="324.1" r="5.6"/><circle cx="646.8" cy="249.1" r="5.6"/><circle cx="681.6" cy="412.1" r="5.6"/><circle cx="334.1" cy="101.6" r="5.6"/><circle cx="401.4" cy="132.2" r="5.6"/><circle cx="573.7" cy="270.5" r="5.6"/><circle cx="736.6" cy="498.5" r="5.6"/><circle cx="763.5" cy="232.1" r="5.6"/><circle cx="622.2" cy="424.6" r="5.6"/><circle cx="354.2" cy="142.9" r="5.6"/><circle cx="728.2" cy="277.8" r="5.6"/><circle cx="417.9" cy="68.3" r="5.6"/><circle cx="157.2" cy="169.9" r="5.6"/><circle cx="203.4" cy="126.6" r="5.6"/><circle cx="714.3" cy="477.3" r="5.6"/><circle cx="179.8" cy="205.1" r="5.6"/><circle cx="745.1" cy="479.2" r="5.6"/><circle cx="698.2" cy="200.4" r="5.6"/><circle cx="159.2" cy="210.7" r="5.6"/><circle cx="677.7" cy="396.5" r="5.6"/><circle cx="624.4" cy="206.8" r="5.6"/><circle cx="707.4" cy="158.7" r="5.6"/><circle cx="558.0" cy="54.3" r="5.6"/><circle cx="334.8" cy="94.9" r="5.6"/><circle cx="758.7" cy="186.9" r="5.6"/><circle cx="667.1" cy="273.4" r="5.6"/><circle cx="690.1" cy="253.1" r="5.6"/><circle cx="388.2" cy="76.2" r="5.6"/><circle cx="579.5" cy="133.0" r="5.6"/><circle cx="703.9" cy="470.2" r="5.6"/><circle cx="623.4" cy="116.1" r="5.6"/><circle cx="565.4" cy="82.2" r="5.6"/><circle cx="681.4" cy="276.2" r="5.6"/><circle cx="487.0" cy="137.8" r="5.6"/><circle cx="603.1" cy="93.0" r="5.6"/><circle cx="368.0" cy="104.1" r="5.6"/><circle cx="701.4" cy="494.5" r="5.6"/><circle cx="778.5" cy="188.5" r="5.6"/><circle cx="177.1" cy="235.1" r="5.6"/><circle cx="727.1" cy="264.8" r="5.6"/><circle cx="592.5" cy="386.4" r="5.6"/><circle cx="778.6" cy="243.8" r="5.6"/><circle cx="394.2" cy="138.4" r="5.6"/><circle cx="598.9" cy="176.5" r="5.6"/><circle cx="562.5" cy="369.0" r="5.6"/><circle cx="142.4" cy="221.1" r="5.6"/><circle cx="718.0" cy="181.8" r="5.6"/><circle cx="567.6" cy="183.4" r="5.6"/><circle cx="301.1" cy="147.9" r="5.6"/><circle cx="712.4" cy="217.5" r="5.6"/><circle cx="238.5" cy="151.7" r="5.6"/><circle cx="512.3" cy="384.3" r="5.6"/><circle cx="565.2" cy="421.6" r="5.6"/><circle cx="709.0" cy="536.8" r="5.6"/><circle cx="563.7" cy="381.6" r="5.6"/><circle cx="298.6" cy="69.9" r="5.6"/><circle cx="667.9" cy="505.7" r="5.6"/><circle cx="154.6" cy="175.6" r="5.6"/><circle cx="672.7" cy="216.9" r="5.6"/><circle cx="607.3" cy="425.1" r="5.6"/><circle cx="668.4" cy="257.0" r="5.6"/><circle cx="629.2" cy="140.4" r="5.6"/><circle cx="242.7" cy="134.2" r="5.6"/><circle cx="698.3" cy="230.8" r="5.6"/><circle cx="545.6" cy="425.9" r="5.6"/><circle cx="550.7" cy="83.5" r="5.6"/><circle cx="568.0" cy="409.2" r="5.6"/><circle cx="722.0" cy="224.1" r="5.6"/><circle cx="618.7" cy="176.9" r="5.6"/><circle cx="728.1" cy="218.4" r="5.6"/><circle cx="215.5" cy="147.5" r="5.6"/><circle cx="710.2" cy="511.0" r="5.6"/><circle cx="369.5" cy="136.4" r="5.6"/><circle cx="501.5" cy="56.6" r="5.6"/><circle cx="528.3" cy="165.9" r="5.6"/><circle cx="169.2" cy="264.3" r="5.6"/><circle cx="531.8" cy="45.2" r="5.6"/><circle cx="219.8" cy="102.8" r="5.6"/><circle cx="424.2" cy="118.1" r="5.6"/><circle cx="399.2" cy="156.4" r="5.6"/><circle cx="231.8" cy="87.9" r="5.6"/><circle cx="432.1" cy="105.7" r="5.6"/><circle cx="735.6" cy="491.9" r="5.6"/><circle cx="285.7" cy="158.8" r="5.6"/><circle cx="552.3" cy="326.6" r="5.6"/><circle cx="650.2" cy="299.4" r="5.6"/><circle cx="582.3" cy="448.9" r="5.6"/><circle cx="159.8" cy="222.0" r="5.6"/><circle cx="685.9" cy="280.5" r="5.6"/><circle cx="574.4" cy="106.1" r="5.6"/><circle cx="625.8" cy="167.6" r="5.6"/><circle cx="644.3" cy="243.4" r="5.6"/><circle cx="351.9" cy="152.9" r="5.6"/><circle cx="538.8" cy="153.3" r="5.6"/><circle cx="563.6" cy="178.6" r="5.6"/><circle cx="601.1" cy="101.6" r="5.6"/><circle cx="507.4" cy="106.5" r="5.6"/><circle cx="725.9" cy="270.6" r="5.6"/><circle cx="164.5" cy="231.5" r="5.6"/><circle cx="156.5" cy="248.6" r="5.6"/><circle cx="695.0" cy="178.3" r="5.6"/><circle cx="556.5" cy="433.1" r="5.6"/><circle cx="584.0" cy="378.5" r="5.6"/><circle cx="592.7" cy="290.0" r="5.6"/><circle cx="714.8" cy="520.4" r="5.6"/><circle cx="706.9" cy="180.1" r="5.6"/><circle cx="591.9" cy="336.0" r="5.6"/><circle cx="664.4" cy="208.4" r="5.6"/><circle cx="202.1" cy="141.8" r="5.6"/><circle cx="525.4" cy="187.1" r="5.6"/><circle cx="696.8" cy="435.3" r="5.6"/><circle cx="175.1" cy="221.4" r="5.6"/><circle cx="662.1" cy="200.7" r="5.6"/><circle cx="597.8" cy="366.6" r="5.6"/><circle cx="568.9" cy="151.7" r="5.6"/><circle cx="396.4" cy="100.8" r="5.6"/><circle cx="194.8" cy="242.8" r="5.6"/><circle cx="341.0" cy="91.7" r="5.6"/><circle cx="700.4" cy="441.6" r="5.6"/><circle cx="443.4" cy="47.2" r="5.6"/><circle cx="697.8" cy="152.8" r="5.6"/><circle cx="719.1" cy="197.6" r="5.6"/><circle cx="266.7" cy="89.3" r="5.6"/><circle cx="778.6" cy="246.8" r="5.6"/><circle cx="729.3" cy="198.7" r="5.6"/><circle cx="534.7" cy="409.3" r="5.6"/><circle cx="188.9" cy="238.1" r="5.6"/><circle cx="653.5" cy="300.8" r="5.6"/><circle cx="498.5" cy="95.8" r="5.6"/><circle cx="615.3" cy="363.8" r="5.6"/><circle cx="585.0" cy="442.2" r="5.6"/><circle cx="560.6" cy="380.0" r="5.6"/><circle cx="262.7" cy="82.2" r="5.6"/><circle cx="675.7" cy="437.4" r="5.6"/><circle cx="626.4" cy="394.6" r="5.6"/><circle cx="634.3" cy="112.1" r="5.6"/><circle cx="744.7" cy="194.4" r="5.6"/><circle cx="694.3" cy="225.9" r="5.6"/><circle cx="775.9" cy="208.5" r="5.6"/><circle cx="441.0" cy="159.6" r="5.6"/><circle cx="629.8" cy="187.1" r="5.6"/><circle cx="391.1" cy="88.7" r="5.6"/><circle cx="302.0" cy="155.4" r="5.6"/><circle cx="643.6" cy="164.0" r="5.6"/><circle cx="628.2" cy="469.4" r="5.6"/><circle cx="546.5" cy="284.4" r="5.6"/><circle cx="472.0" cy="51.0" r="5.6"/><circle cx="246.9" cy="115.8" r="5.6"/><circle cx="633.4" cy="101.3" r="5.6"/><circle cx="241.3" cy="163.7" r="5.6"/><circle cx="700.6" cy="507.9" r="5.6"/><circle cx="173.6" cy="138.3" r="5.6"/><circle cx="426.8" cy="69.2" r="5.6"/><circle cx="607.9" cy="343.8" r="5.6"/><circle cx="699.1" cy="525.8" r="5.6"/><circle cx="669.6" cy="371.0" r="5.6"/><circle cx="548.1" cy="345.2" r="5.6"/><circle cx="579.6" cy="395.6" r="5.6"/><circle cx="707.9" cy="390.0" r="5.6"/><circle cx="242.8" cy="134.3" r="5.6"/><circle cx="611.2" cy="378.2" r="5.6"/><circle cx="304.4" cy="87.3" r="5.6"/><circle cx="752.1" cy="517.7" r="5.6"/><circle cx="596.6" cy="199.0" r="5.6"/><circle cx="710.6" cy="474.3" r="5.6"/><circle cx="697.1" cy="262.8" r="5.6"/><circle cx="699.4" cy="126.3" r="5.6"/><circle cx="223.7" cy="92.7" r="5.6"/><circle cx="719.5" cy="197.8" r="5.6"/><circle cx="220.4" cy="162.8" r="5.6"/><circle cx="574.8" cy="308.1" r="5.6"/><circle cx="638.9" cy="194.1" r="5.6"/><circle cx="739.2" cy="193.3" r="5.6"/><circle cx="337.2" cy="138.1" r="5.6"/><circle cx="385.3" cy="81.9" r="5.6"/><circle cx="558.0" cy="156.5" r="5.6"/><circle cx="314.6" cy="75.3" r="5.6"/><circle cx="610.5" cy="132.8" r="5.6"/><circle cx="239.0" cy="100.7" r="5.6"/><circle cx="683.7" cy="216.5" r="5.6"/><circle cx="664.3" cy="395.6" r="5.6"/><circle cx="165.3" cy="172.1" r="5.6"/><circle cx="573.9" cy="400.4" r="5.6"/><circle cx="601.4" cy="285.5" r="5.6"/><circle cx="619.1" cy="346.6" r="5.6"/><circle cx="181.5" cy="177.1" r="5.6"/><circle cx="573.9" cy="343.5" r="5.6"/><circle cx="598.7" cy="150.4" r="5.6"/><circle cx="330.0" cy="78.5" r="5.6"/><circle cx="429.1" cy="159.4" r="5.6"/><circle cx="653.9" cy="227.7" r="5.6"/><circle cx="437.6" cy="147.9" r="5.6"/><circle cx="695.2" cy="202.4" r="5.6"/><circle cx="587.4" cy="456.7" r="5.6"/><circle cx="596.2" cy="68.1" r="5.6"/><circle cx="444.8" cy="103.6" r="5.6"/><circle cx="639.2" cy="388.1" r="5.6"/><circle cx="714.6" cy="146.4" r="5.6"/><circle cx="532.1" cy="341.7" r="5.6"/><circle cx="611.5" cy="345.9" r="5.6"/><circle cx="621.8" cy="285.1" r="5.6"/><circle cx="660.4" cy="115.2" r="5.6"/><circle cx="556.3" cy="366.1" r="5.6"/><circle cx="456.6" cy="101.2" r="5.6"/><circle cx="150.0" cy="240.4" r="5.6"/><circle cx="588.2" cy="143.9" r="5.6"/><circle cx="176.7" cy="146.4" r="5.6"/><circle cx="476.7" cy="125.3" r="5.6"/><circle cx="175.1" cy="222.9" r="5.6"/><circle cx="729.5" cy="238.4" r="5.6"/><circle cx="156.3" cy="196.9" r="5.6"/><circle cx="751.4" cy="273.7" r="5.6"/><circle cx="603.5" cy="367.2" r="5.6"/><circle cx="687.2" cy="123.0" r="5.6"/><circle cx="585.0" cy="435.4" r="5.6"/><circle cx="695.6" cy="476.4" r="5.6"/><circle cx="583.8" cy="317.5" r="5.6"/><circle cx="640.3" cy="191.1" r="5.6"/><circle cx="508.8" cy="30.3" r="5.6"/><circle cx="444.6" cy="44.3" r="5.6"/><circle cx="421.6" cy="145.3" r="5.6"/><circle cx="457.1" cy="122.7" r="5.6"/><circle cx="217.6" cy="122.5" r="5.6"/><circle cx="640.5" cy="296.3" r="5.6"/><circle cx="193.6" cy="130.6" r="5.6"/><circle cx="764.9" cy="223.4" r="5.6"/><circle cx="628.7" cy="296.7" r="5.6"/><circle cx="552.2" cy="316.4" r="5.6"/><circle cx="177.0" cy="250.0" r="5.6"/><circle cx="227.0" cy="164.3" r="5.6"/><circle cx="646.4" cy="478.3" r="5.6"/><circle cx="728.7" cy="495.0" r="5.6"/><circle cx="414.2" cy="71.1" r="5.6"/><circle cx="295.6" cy="143.8" r="5.6"/><circle cx="644.6" cy="230.8" r="5.6"/><circle cx="561.9" cy="111.1" r="5.6"/><circle cx="554.7" cy="352.7" r="5.6"/><circle cx="529.6" cy="44.7" r="5.6"/><circle cx="549.2" cy="401.6" r="5.6"/><circle cx="472.0" cy="55.3" r="5.6"/><circle cx="613.6" cy="172.0" r="5.6"/><circle cx="701.1" cy="498.6" r="5.6"/><circle cx="660.1" cy="240.1" r="5.6"/><circle cx="434.5" cy="95.0" r="5.6"/><circle cx="546.7" cy="388.7" r="5.6"/><circle cx="544.8" cy="368.1" r="5.6"/><circle cx="703.5" cy="253.6" r="5.6"/><circle cx="159.1" cy="168.0" r="5.6"/><circle cx="760.6" cy="255.6" r="5.6"/><circle cx="632.8" cy="271.0" r="5.6"/><circle cx="584.7" cy="298.6" r="5.6"/><circle cx="619.0" cy="461.1" r="5.6"/><circle cx="722.9" cy="454.3" r="5.6"/><circle cx="619.4" cy="300.9" r="5.6"/><circle cx="682.2" cy="236.2" r="5.6"/><circle cx="634.4" cy="189.3" r="5.6"/><circle cx="702.2" cy="211.9" r="5.6"/><circle cx="233.6" cy="85.2" r="5.6"/><circle cx="521.1" cy="400.7" r="5.6"/><circle cx="576.1" cy="167.5" r="5.6"/><circle cx="568.3" cy="141.4" r="5.6"/><circle cx="545.2" cy="108.9" r="5.6"/><circle cx="697.8" cy="209.5" r="5.6"/><circle cx="734.5" cy="470.5" r="5.6"/><circle cx="634.0" cy="138.0" r="5.6"/><circle cx="202.4" cy="269.8" r="5.6"/><circle cx="579.8" cy="401.0" r="5.6"/><circle cx="663.3" cy="139.9" r="5.6"/><circle cx="754.7" cy="208.6" r="5.6"/><circle cx="555.6" cy="135.2" r="5.6"/><circle cx="395.6" cy="86.0" r="5.6"/><circle cx="701.2" cy="483.6" r="5.6"/><circle cx="301.3" cy="110.9" r="5.6"/><circle cx="373.1" cy="140.5" r="5.6"/><circle cx="735.5" cy="467.0" r="5.6"/><circle cx="647.6" cy="239.3" r="5.6"/><circle cx="423.0" cy="150.3" r="5.6"/><circle cx="388.8" cy="112.6" r="5.6"/><circle cx="608.9" cy="155.7" r="5.6"/><circle cx="723.9" cy="506.5" r="5.6"/><circle cx="255.0" cy="167.0" r="5.6"/><circle cx="431.7" cy="63.8" r="5.6"/><circle cx="716.5" cy="433.8" r="5.6"/><circle cx="468.5" cy="130.4" r="5.6"/><circle cx="724.9" cy="266.1" r="5.6"/><circle cx="664.2" cy="454.9" r="5.6"/><circle cx="611.3" cy="159.9" r="5.6"/><circle cx="183.7" cy="118.5" r="5.6"/><circle cx="528.9" cy="321.3" r="5.6"/><circle cx="527.7" cy="172.2" r="5.6"/><circle cx="484.0" cy="59.8" r="5.6"/><circle cx="182.5" cy="157.5" r="5.6"/><circle cx="660.5" cy="462.0" r="5.6"/><circle cx="619.8" cy="284.8" r="5.6"/><circle cx="661.3" cy="221.3" r="5.6"/><circle cx="682.4" cy="169.8" r="5.6"/><circle cx="650.4" cy="231.2" r="5.6"/><circle cx="690.9" cy="175.4" r="5.6"/><circle cx="618.3" cy="127.1" r="5.6"/><circle cx="158.7" cy="209.1" r="5.6"/><circle cx="295.0" cy="74.7" r="5.6"/><circle cx="659.8" cy="174.8" r="5.6"/><circle cx="673.4" cy="231.7" r="5.6"/><circle cx="684.0" cy="406.7" r="5.6"/><circle cx="759.2" cy="216.0" r="5.6"/><circle cx="575.9" cy="166.9" r="5.6"/><circle cx="587.1" cy="447.0" r="5.6"/><circle cx="666.1" cy="450.7" r="5.6"/><circle cx="314.1" cy="135.1" r="5.6"/><circle cx="246.8" cy="82.3" r="5.6"/><circle cx="211.8" cy="231.3" r="5.6"/><circle cx="711.8" cy="216.3" r="5.6"/><circle cx="514.1" cy="394.6" r="5.6"/><circle cx="290.3" cy="107.3" r="5.6"/><circle cx="428.0" cy="147.9" r="5.6"/><circle cx="666.5" cy="181.8" r="5.6"/><circle cx="176.5" cy="155.2" r="5.6"/><circle cx="198.6" cy="241.6" r="5.6"/><circle cx="720.0" cy="258.5" r="5.6"/><circle cx="670.5" cy="157.0" r="5.6"/><circle cx="718.0" cy="133.8" r="5.6"/><circle cx="294.0" cy="141.1" r="5.6"/><circle cx="338.0" cy="166.5" r="5.6"/><circle cx="659.0" cy="490.6" r="5.6"/><circle cx="254.3" cy="115.8" r="5.6"/><circle cx="579.8" cy="340.7" r="5.6"/><circle cx="309.6" cy="107.1" r="5.6"/><circle cx="592.4" cy="112.6" r="5.6"/><circle cx="632.9" cy="106.3" r="5.6"/><circle cx="535.2" cy="79.1" r="5.6"/><circle cx="497.5" cy="64.2" r="5.6"/><circle cx="628.0" cy="447.2" r="5.6"/><circle cx="635.4" cy="106.4" r="5.6"/><circle cx="152.9" cy="225.8" r="5.6"/><circle cx="669.4" cy="182.6" r="5.6"/><circle cx="501.7" cy="137.5" r="5.6"/><circle cx="399.6" cy="100.5" r="5.6"/><circle cx="600.2" cy="283.1" r="5.6"/><circle cx="138.8" cy="257.7" r="5.6"/><circle cx="316.4" cy="96.5" r="5.6"/><circle cx="733.8" cy="486.7" r="5.6"/><circle cx="486.3" cy="107.2" r="5.6"/><circle cx="156.2" cy="234.1" r="5.6"/><circle cx="572.9" cy="438.1" r="5.6"/><circle cx="714.4" cy="434.8" r="5.6"/><circle cx="572.0" cy="330.8" r="5.6"/><circle cx="214.6" cy="145.5" r="5.6"/><circle cx="485.4" cy="41.5" r="5.6"/><circle cx="694.3" cy="231.0" r="5.6"/><circle cx="617.3" cy="108.0" r="5.6"/><circle cx="669.9" cy="223.2" r="5.6"/><circle cx="720.4" cy="226.0" r="5.6"/><circle cx="731.2" cy="147.5" r="5.6"/><circle cx="658.6" cy="218.8" r="5.6"/><circle cx="397.2" cy="90.3" r="5.6"/><circle cx="677.8" cy="366.2" r="5.6"/><circle cx="659.1" cy="424.9" r="5.6"/><circle cx="763.4" cy="200.9" r="5.6"/><circle cx="674.1" cy="268.5" r="5.6"/><circle cx="683.7" cy="427.3" r="5.6"/><circle cx="283.9" cy="91.2" r="5.6"/><circle cx="504.5" cy="87.1" r="5.6"/><circle cx="335.3" cy="85.0" r="5.6"/><circle cx="651.9" cy="371.7" r="5.6"/><circle cx="731.1" cy="209.3" r="5.6"/><circle cx="699.2" cy="203.9" r="5.6"/><circle cx="596.2" cy="329.8" r="5.6"/><circle cx="764.3" cy="193.7" r="5.6"/><circle cx="179.2" cy="244.9" r="5.6"/><circle cx="183.8" cy="118.4" r="5.6"/><circle cx="464.7" cy="47.2" r="5.6"/><circle cx="688.1" cy="162.8" r="5.6"/><circle cx="278.9" cy="80.8" r="5.6"/><circle cx="235.9" cy="142.1" r="5.6"/><circle cx="691.2" cy="410.2" r="5.6"/><circle cx="640.7" cy="116.9" r="5.6"/><circle cx="661.7" cy="487.5" r="5.6"/><circle cx="687.4" cy="157.1" r="5.6"/><circle cx="764.9" cy="202.9" r="5.6"/><circle cx="565.7" cy="146.0" r="5.6"/><circle cx="685.0" cy="252.9" r="5.6"/><circle cx="310.4" cy="108.3" r="5.6"/><circle cx="663.7" cy="303.8" r="5.6"/><circle cx="700.7" cy="122.3" r="5.6"/><circle cx="256.6" cy="85.3" r="5.6"/><circle cx="729.3" cy="183.2" r="5.6"/><circle cx="618.2" cy="200.5" r="5.6"/><circle cx="600.9" cy="112.1" r="5.6"/><circle cx="297.1" cy="177.3" r="5.6"/><circle cx="159.7" cy="228.5" r="5.6"/><circle cx="658.9" cy="380.2" r="5.6"/><circle cx="399.5" cy="132.3" r="5.6"/><circle cx="574.2" cy="90.3" r="5.6"/><circle cx="432.4" cy="50.8" r="5.6"/><circle cx="280.3" cy="139.0" r="5.6"/><circle cx="142.8" cy="212.9" r="5.6"/><circle cx="287.4" cy="167.8" r="5.6"/><circle cx="707.6" cy="176.5" r="5.6"/><circle cx="668.5" cy="495.6" r="5.6"/><circle cx="323.6" cy="138.4" r="5.6"/><circle cx="679.9" cy="158.6" r="5.6"/><circle cx="335.4" cy="92.6" r="5.6"/><circle cx="369.4" cy="105.0" r="5.6"/><circle cx="720.5" cy="239.4" r="5.6"/><circle cx="448.6" cy="76.9" r="5.6"/><circle cx="152.8" cy="209.3" r="5.6"/><circle cx="453.1" cy="107.4" r="5.6"/><circle cx="622.7" cy="297.5" r="5.6"/><circle cx="689.1" cy="185.7" r="5.6"/><circle cx="617.6" cy="164.2" r="5.6"/><circle cx="376.2" cy="155.7" r="5.6"/><circle cx="594.3" cy="123.4" r="5.6"/><circle cx="329.1" cy="123.2" r="5.6"/><circle cx="673.7" cy="443.8" r="5.6"/><circle cx="676.9" cy="397.0" r="5.6"/><circle cx="633.9" cy="120.9" r="5.6"/><circle cx="460.5" cy="162.3" r="5.6"/><circle cx="409.9" cy="122.8" r="5.6"/><circle cx="705.4" cy="485.0" r="5.6"/><circle cx="600.8" cy="196.1" r="5.6"/><circle cx="172.7" cy="219.4" r="5.6"/><circle cx="450.4" cy="78.3" r="5.6"/><circle cx="361.0" cy="115.9" r="5.6"/><circle cx="568.4" cy="269.6" r="5.6"/><circle cx="432.2" cy="99.0" r="5.6"/><circle cx="427.4" cy="97.7" r="5.6"/><circle cx="678.0" cy="131.2" r="5.6"/><circle cx="561.0" cy="418.8" r="5.6"/><circle cx="299.2" cy="131.8" r="5.6"/><circle cx="547.8" cy="141.4" r="5.6"/><circle cx="492.4" cy="62.2" r="5.6"/><circle cx="182.9" cy="154.5" r="5.6"/><circle cx="299.1" cy="99.5" r="5.6"/><circle cx="672.9" cy="171.0" r="5.6"/><circle cx="706.2" cy="187.5" r="5.6"/><circle cx="658.3" cy="433.9" r="5.6"/><circle cx="605.4" cy="325.0" r="5.6"/><circle cx="732.4" cy="469.8" r="5.6"/><circle cx="247.4" cy="175.7" r="5.6"/><circle cx="511.0" cy="64.3" r="5.6"/><circle cx="266.4" cy="95.7" r="5.6"/><circle cx="749.9" cy="499.8" r="5.6"/><circle cx="578.9" cy="396.7" r="5.6"/><circle cx="438.7" cy="114.5" r="5.6"/><circle cx="614.8" cy="321.4" r="5.6"/><circle cx="568.5" cy="340.2" r="5.6"/><circle cx="688.1" cy="203.8" r="5.6"/><circle cx="676.4" cy="402.3" r="5.6"/><circle cx="599.3" cy="146.9" r="5.6"/><circle cx="379.7" cy="94.8" r="5.6"/><circle cx="285.0" cy="142.7" r="5.6"/><circle cx="359.4" cy="87.9" r="5.6"/><circle cx="723.4" cy="267.8" r="5.6"/><circle cx="561.2" cy="99.0" r="5.6"/><circle cx="214.8" cy="124.9" r="5.6"/><circle cx="232.2" cy="157.0" r="5.6"/><circle cx="466.2" cy="80.4" r="5.6"/><circle cx="203.4" cy="266.1" r="5.6"/><circle cx="704.9" cy="486.6" r="5.6"/><circle cx="665.4" cy="494.5" r="5.6"/><circle cx="211.3" cy="142.8" r="5.6"/><circle cx="783.8" cy="241.1" r="5.6"/><circle cx="580.6" cy="395.9" r="5.6"/><circle cx="632.8" cy="125.3" r="5.6"/><circle cx="647.0" cy="269.8" r="5.6"/><circle cx="299.1" cy="93.3" r="5.6"/><circle cx="659.0" cy="299.8" r="5.6"/><circle cx="592.2" cy="116.5" r="5.6"/><circle cx="230.2" cy="98.1" r="5.6"/><circle cx="144.7" cy="240.3" r="5.6"/><circle cx="247.3" cy="158.3" r="5.6"/><circle cx="754.9" cy="161.0" r="5.6"/><circle cx="646.8" cy="257.6" r="5.6"/><circle cx="698.9" cy="485.5" r="5.6"/><circle cx="654.3" cy="446.3" r="5.6"/><circle cx="628.5" cy="217.4" r="5.6"/><circle cx="625.6" cy="360.1" r="5.6"/><circle cx="418.0" cy="92.8" r="5.6"/><circle cx="619.4" cy="143.9" r="5.6"/><circle cx="588.3" cy="128.8" r="5.6"/><circle cx="706.2" cy="448.5" r="5.6"/><circle cx="574.8" cy="328.5" r="5.6"/><circle cx="572.8" cy="119.5" r="5.6"/><circle cx="431.4" cy="155.8" r="5.6"/><circle cx="572.6" cy="177.7" r="5.6"/><circle cx="624.4" cy="181.6" r="5.6"/><circle cx="556.2" cy="319.7" r="5.6"/><circle cx="362.1" cy="89.6" r="5.6"/><circle cx="630.8" cy="373.5" r="5.6"/><circle cx="514.9" cy="139.8" r="5.6"/><circle cx="213.5" cy="241.9" r="5.6"/><circle cx="683.4" cy="211.3" r="5.6"/><circle cx="627.3" cy="400.7" r="5.6"/><circle cx="665.3" cy="513.5" r="5.6"/><circle cx="254.3" cy="93.2" r="5.6"/><circle cx="713.1" cy="462.7" r="5.6"/><circle cx="669.7" cy="428.2" r="5.6"/><circle cx="666.9" cy="436.7" r="5.6"/><circle cx="243.9" cy="106.3" r="5.6"/><circle cx="636.2" cy="385.9" r="5.6"/><circle cx="447.9" cy="149.3" r="5.6"/><circle cx="556.5" cy="396.7" r="5.6"/><circle cx="626.3" cy="106.2" r="5.6"/><circle cx="448.3" cy="44.6" r="5.6"/><circle cx="606.7" cy="462.2" r="5.6"/><circle cx="173.1" cy="245.5" r="5.6"/><circle cx="429.5" cy="123.4" r="5.6"/><circle cx="565.8" cy="106.2" r="5.6"/><circle cx="686.2" cy="465.6" r="5.6"/><circle cx="633.5" cy="396.4" r="5.6"/><circle cx="335.7" cy="148.6" r="5.6"/><circle cx="671.6" cy="115.2" r="5.6"/><circle cx="666.4" cy="379.0" r="5.6"/><circle cx="737.0" cy="514.2" r="5.6"/><circle cx="477.4" cy="123.5" r="5.6"/><circle cx="349.1" cy="143.3" r="5.6"/><circle cx="168.7" cy="243.2" r="5.6"/><circle cx="643.4" cy="236.0" r="5.6"/><circle cx="576.1" cy="94.4" r="5.6"/><circle cx="398.9" cy="72.7" r="5.6"/><circle cx="281.6" cy="102.2" r="5.6"/><circle cx="664.5" cy="143.7" r="5.6"/><circle cx="681.2" cy="415.6" r="5.6"/><circle cx="561.1" cy="386.4" r="5.6"/><circle cx="572.4" cy="119.3" r="5.6"/><circle cx="159.3" cy="209.0" r="5.6"/><circle cx="528.8" cy="397.8" r="5.6"/><circle cx="562.9" cy="81.7" r="5.6"/><circle cx="539.6" cy="288.6" r="5.6"/><circle cx="577.3" cy="140.5" r="5.6"/><circle cx="295.8" cy="179.5" r="5.6"/><circle cx="703.8" cy="209.2" r="5.6"/><circle cx="692.7" cy="515.8" r="5.6"/><circle cx="481.3" cy="159.1" r="5.6"/><circle cx="718.0" cy="450.6" r="5.6"/><circle cx="680.4" cy="389.2" r="5.6"/><circle cx="519.1" cy="133.7" r="5.6"/><circle cx="171.6" cy="206.8" r="5.6"/><circle cx="628.1" cy="406.8" r="5.6"/><circle cx="676.7" cy="124.0" r="5.6"/><circle cx="642.5" cy="127.2" r="5.6"/><circle cx="606.1" cy="301.5" r="5.6"/><circle cx="591.5" cy="105.8" r="5.6"/><circle cx="751.4" cy="495.0" r="5.6"/><circle cx="718.4" cy="442.2" r="5.6"/><circle cx="368.3" cy="143.2" r="5.6"/><circle cx="705.7" cy="454.2" r="5.6"/><circle cx="678.6" cy="442.7" r="5.6"/><circle cx="610.7" cy="360.9" r="5.6"/><circle cx="499.4" cy="141.1" r="5.6"/><circle cx="547.7" cy="72.7" r="5.6"/><circle cx="230.9" cy="95.2" r="5.6"/><circle cx="678.1" cy="218.7" r="5.6"/><circle cx="459.8" cy="55.3" r="5.6"/><circle cx="604.1" cy="103.4" r="5.6"/><circle cx="610.4" cy="433.2" r="5.6"/><circle cx="274.4" cy="172.4" r="5.6"/><circle cx="538.1" cy="385.5" r="5.6"/><circle cx="497.1" cy="81.0" r="5.6"/><circle cx="606.1" cy="311.3" r="5.6"/><circle cx="212.7" cy="101.7" r="5.6"/><circle cx="728.4" cy="198.0" r="5.6"/><circle cx="674.2" cy="238.0" r="5.6"/><circle cx="617.2" cy="359.9" r="5.6"/><circle cx="646.3" cy="99.0" r="5.6"/><circle cx="466.0" cy="33.7" r="5.6"/><circle cx="599.6" cy="302.1" r="5.6"/><circle cx="154.2" cy="194.9" r="5.6"/><circle cx="590.5" cy="412.5" r="5.6"/><circle cx="513.7" cy="358.5" r="5.6"/><circle cx="156.4" cy="176.0" r="5.6"/><circle cx="620.8" cy="137.2" r="5.6"/><circle cx="601.9" cy="398.3" r="5.6"/><circle cx="511.2" cy="145.8" r="5.6"/><circle cx="252.9" cy="154.3" r="5.6"/><circle cx="723.9" cy="194.4" r="5.6"/><circle cx="653.8" cy="153.1" r="5.6"/><circle cx="588.8" cy="319.7" r="5.6"/><circle cx="565.2" cy="343.6" r="5.6"/><circle cx="513.4" cy="34.3" r="5.6"/><circle cx="278.6" cy="154.4" r="5.6"/><circle cx="709.2" cy="129.2" r="5.6"/><circle cx="514.8" cy="145.9" r="5.6"/><circle cx="594.9" cy="122.2" r="5.6"/><circle cx="663.9" cy="510.9" r="5.6"/><circle cx="557.2" cy="338.3" r="5.6"/><circle cx="197.4" cy="148.8" r="5.6"/><circle cx="404.3" cy="65.0" r="5.6"/><circle cx="403.8" cy="87.4" r="5.6"/><circle cx="604.2" cy="283.7" r="5.6"/><circle cx="621.4" cy="305.6" r="5.6"/><circle cx="232.6" cy="120.3" r="5.6"/><circle cx="646.3" cy="354.6" r="5.6"/><circle cx="648.0" cy="199.9" r="5.6"/><circle cx="593.3" cy="432.5" r="5.6"/><circle cx="168.4" cy="176.2" r="5.6"/><circle cx="612.4" cy="418.1" r="5.6"/><circle cx="683.3" cy="162.7" r="5.6"/><circle cx="645.0" cy="249.3" r="5.6"/><circle cx="684.4" cy="499.3" r="5.6"/><circle cx="179.5" cy="264.5" r="5.6"/><circle cx="424.9" cy="132.7" r="5.6"/><circle cx="261.4" cy="178.6" r="5.6"/><circle cx="626.1" cy="191.9" r="5.6"/><circle cx="195.1" cy="267.1" r="5.6"/><circle cx="632.3" cy="410.0" r="5.6"/><circle cx="719.3" cy="470.7" r="5.6"/><circle cx="327.7" cy="97.3" r="5.6"/><circle cx="198.7" cy="234.2" r="5.6"/><circle cx="410.2" cy="77.6" r="5.6"/><circle cx="652.9" cy="387.5" r="5.6"/><circle cx="574.0" cy="333.5" r="5.6"/><circle cx="733.2" cy="214.9" r="5.6"/><circle cx="553.8" cy="329.2" r="5.6"/><circle cx="717.4" cy="278.8" r="5.6"/><circle cx="157.3" cy="186.5" r="5.6"/><circle cx="508.1" cy="44.3" r="5.6"/><circle cx="324.3" cy="93.5" r="5.6"/><circle cx="710.4" cy="163.1" r="5.6"/><circle cx="734.5" cy="478.8" r="5.6"/><circle cx="716.0" cy="288.0" r="5.6"/><circle cx="710.6" cy="397.4" r="5.6"/><circle cx="716.7" cy="277.7" r="5.6"/><circle cx="458.6" cy="151.4" r="5.6"/><circle cx="721.4" cy="448.8" r="5.6"/><circle cx="366.3" cy="88.2" r="5.6"/><circle cx="678.3" cy="267.5" r="5.6"/><circle cx="667.3" cy="468.3" r="5.6"/><circle cx="720.8" cy="453.1" r="5.6"/><circle cx="520.4" cy="95.7" r="5.6"/><circle cx="382.4" cy="93.6" r="5.6"/><circle cx="577.1" cy="189.5" r="5.6"/><circle cx="624.1" cy="266.2" r="5.6"/><circle cx="157.5" cy="208.7" r="5.6"/><circle cx="614.1" cy="419.8" r="5.6"/><circle cx="250.6" cy="92.5" r="5.6"/><circle cx="556.8" cy="426.6" r="5.6"/><circle cx="472.0" cy="72.9" r="5.6"/><circle cx="623.0" cy="86.4" r="5.6"/><circle cx="729.7" cy="277.5" r="5.6"/><circle cx="368.2" cy="143.7" r="5.6"/><circle cx="641.7" cy="198.8" r="5.6"/><circle cx="320.6" cy="157.5" r="5.6"/><circle cx="215.6" cy="107.9" r="5.6"/><circle cx="395.2" cy="69.0" r="5.6"/><circle cx="440.5" cy="156.4" r="5.6"/><circle cx="216.1" cy="122.5" r="5.6"/><circle cx="626.0" cy="318.5" r="5.6"/><circle cx="723.0" cy="520.5" r="5.6"/><circle cx="555.3" cy="436.3" r="5.6"/><circle cx="189.4" cy="156.7" r="5.6"/><circle cx="262.8" cy="131.3" r="5.6"/><circle cx="734.4" cy="254.0" r="5.6"/><circle cx="555.1" cy="292.9" r="5.6"/><circle cx="486.8" cy="38.4" r="5.6"/><circle cx="768.0" cy="259.3" r="5.6"/><circle cx="490.9" cy="94.1" r="5.6"/><circle cx="203.0" cy="238.2" r="5.6"/><circle cx="742.5" cy="249.6" r="5.6"/><circle cx="645.9" cy="225.5" r="5.6"/><circle cx="163.4" cy="183.2" r="5.6"/><circle cx="545.0" cy="56.7" r="5.6"/><circle cx="542.7" cy="178.7" r="5.6"/><circle cx="177.6" cy="245.0" r="5.6"/><circle cx="532.2" cy="147.1" r="5.6"/><circle cx="698.6" cy="231.2" r="5.6"/><circle cx="660.1" cy="166.6" r="5.6"/><circle cx="393.8" cy="115.8" r="5.6"/><circle cx="460.6" cy="110.0" r="5.6"/><circle cx="735.5" cy="517.3" r="5.6"/><circle cx="275.3" cy="80.0" r="5.6"/><circle cx="705.6" cy="485.4" r="5.6"/><circle cx="466.1" cy="42.5" r="5.6"/><circle cx="622.0" cy="323.8" r="5.6"/><circle cx="361.0" cy="162.2" r="5.6"/><circle cx="303.5" cy="116.4" r="5.6"/><circle cx="505.3" cy="42.6" r="5.6"/><circle cx="659.4" cy="228.3" r="5.6"/><circle cx="442.0" cy="43.2" r="5.6"/><circle cx="459.0" cy="151.6" r="5.6"/><circle cx="604.9" cy="408.3" r="5.6"/><circle cx="513.0" cy="131.9" r="5.6"/><circle cx="752.6" cy="199.2" r="5.6"/><circle cx="508.3" cy="126.3" r="5.6"/><circle cx="654.5" cy="131.1" r="5.6"/><circle cx="608.4" cy="336.7" r="5.6"/><circle cx="541.9" cy="115.9" r="5.6"/><circle cx="358.1" cy="120.2" r="5.6"/><circle cx="595.6" cy="272.5" r="5.6"/><circle cx="162.7" cy="229.6" r="5.6"/><circle cx="634.7" cy="394.2" r="5.6"/><circle cx="623.4" cy="184.7" r="5.6"/><circle cx="579.0" cy="355.0" r="5.6"/><circle cx="177.8" cy="205.7" r="5.6"/><circle cx="542.4" cy="55.1" r="5.6"/><circle cx="267.8" cy="131.9" r="5.6"/><circle cx="549.6" cy="345.4" r="5.6"/><circle cx="592.9" cy="130.1" r="5.6"/><circle cx="507.2" cy="173.2" r="5.6"/><circle cx="722.6" cy="481.4" r="5.6"/><circle cx="641.2" cy="211.3" r="5.6"/><circle cx="701.5" cy="470.7" r="5.6"/><circle cx="521.8" cy="330.3" r="5.6"/><circle cx="207.1" cy="134.3" r="5.6"/><circle cx="666.0" cy="443.6" r="5.6"/><circle cx="548.9" cy="294.8" r="5.6"/><circle cx="543.4" cy="351.6" r="5.6"/><circle cx="393.8" cy="132.2" r="5.6"/><circle cx="551.7" cy="397.4" r="5.6"/><circle cx="706.5" cy="212.3" r="5.6"/><circle cx="556.5" cy="374.7" r="5.6"/><circle cx="544.4" cy="319.5" r="5.6"/><circle cx="775.6" cy="211.3" r="5.6"/><circle cx="630.9" cy="280.1" r="5.6"/><circle cx="705.6" cy="184.5" r="5.6"/><circle cx="292.4" cy="172.5" r="5.6"/><circle cx="565.9" cy="113.9" r="5.6"/><circle cx="689.2" cy="207.6" r="5.6"/><circle cx="787.4" cy="230.5" r="5.6"/><circle cx="372.2" cy="121.1" r="5.6"/><circle cx="550.1" cy="351.2" r="5.6"/><circle cx="634.3" cy="164.8" r="5.6"/><circle cx="668.5" cy="456.0" r="5.6"/><circle cx="641.8" cy="471.5" r="5.6"/><circle cx="465.7" cy="121.8" r="5.6"/><circle cx="430.2" cy="84.6" r="5.6"/><circle cx="538.2" cy="349.4" r="5.6"/><circle cx="413.3" cy="73.6" r="5.6"/><circle cx="603.3" cy="98.6" r="5.6"/><circle cx="696.6" cy="234.8" r="5.6"/><circle cx="730.0" cy="426.3" r="5.6"/><circle cx="713.9" cy="404.8" r="5.6"/><circle cx="554.0" cy="82.5" r="5.6"/><circle cx="311.2" cy="95.4" r="5.6"/><circle cx="377.2" cy="137.3" r="5.6"/><circle cx="600.3" cy="135.1" r="5.6"/><circle cx="326.9" cy="134.7" r="5.6"/><circle cx="705.6" cy="420.1" r="5.6"/><circle cx="602.1" cy="364.9" r="5.6"/><circle cx="737.7" cy="222.1" r="5.6"/><circle cx="645.6" cy="119.5" r="5.6"/><circle cx="603.2" cy="350.1" r="5.6"/><circle cx="273.7" cy="129.4" r="5.6"/><circle cx="589.8" cy="306.1" r="5.6"/><circle cx="524.4" cy="379.4" r="5.6"/><circle cx="538.3" cy="166.0" r="5.6"/><circle cx="478.5" cy="56.4" r="5.6"/><circle cx="342.9" cy="87.3" r="5.6"/><circle cx="588.9" cy="173.7" r="5.6"/><circle cx="546.2" cy="90.6" r="5.6"/><circle cx="699.0" cy="503.3" r="5.6"/><circle cx="633.8" cy="152.6" r="5.6"/><circle cx="699.0" cy="128.6" r="5.6"/><circle cx="143.9" cy="240.4" r="5.6"/><circle cx="548.1" cy="365.1" r="5.6"/><circle cx="636.6" cy="103.2" r="5.6"/><circle cx="536.4" cy="293.3" r="5.6"/><circle cx="459.2" cy="124.6" r="5.6"/><circle cx="587.9" cy="143.5" r="5.6"/><circle cx="499.7" cy="143.9" r="5.6"/><circle cx="716.7" cy="225.0" r="5.6"/><circle cx="466.5" cy="46.9" r="5.6"/><circle cx="378.9" cy="93.9" r="5.6"/><circle cx="651.2" cy="121.6" r="5.6"/><circle cx="446.6" cy="134.2" r="5.6"/><circle cx="357.3" cy="156.6" r="5.6"/><circle cx="537.9" cy="92.8" r="5.6"/><circle cx="228.8" cy="105.2" r="5.6"/><circle cx="555.6" cy="164.0" r="5.6"/><circle cx="706.8" cy="223.8" r="5.6"/><circle cx="447.2" cy="152.8" r="5.6"/><circle cx="705.5" cy="257.5" r="5.6"/><circle cx="726.8" cy="197.5" r="5.6"/><circle cx="598.5" cy="378.6" r="5.6"/><circle cx="637.2" cy="469.5" r="5.6"/><circle cx="256.3" cy="162.8" r="5.6"/><circle cx="505.9" cy="134.9" r="5.6"/><circle cx="550.6" cy="412.0" r="5.6"/><circle cx="302.7" cy="130.7" r="5.6"/><circle cx="644.7" cy="183.9" r="5.6"/><circle cx="739.6" cy="475.3" r="5.6"/><circle cx="241.4" cy="166.0" r="5.6"/><circle cx="255.8" cy="146.0" r="5.6"/><circle cx="409.6" cy="78.0" r="5.6"/><circle cx="546.3" cy="327.0" r="5.6"/><circle cx="671.9" cy="289.5" r="5.6"/><circle cx="378.2" cy="136.1" r="5.6"/><circle cx="270.0" cy="105.4" r="5.6"/><circle cx="597.0" cy="309.6" r="5.6"/><circle cx="185.4" cy="176.2" r="5.6"/><circle cx="675.2" cy="216.6" r="5.6"/><circle cx="651.7" cy="453.8" r="5.6"/><circle cx="632.6" cy="481.1" r="5.6"/><circle cx="166.0" cy="216.0" r="5.6"/><circle cx="744.4" cy="546.9" r="5.6"/><circle cx="544.1" cy="395.3" r="5.6"/><circle cx="677.6" cy="180.6" r="5.6"/><circle cx="695.0" cy="202.5" r="5.6"/><circle cx="500.2" cy="114.4" r="5.6"/><circle cx="752.3" cy="506.8" r="5.6"/><circle cx="387.2" cy="70.4" r="5.6"/><circle cx="543.1" cy="59.5" r="5.6"/><circle cx="410.5" cy="56.7" r="5.6"/><circle cx="447.4" cy="117.0" r="5.6"/><circle cx="169.3" cy="219.9" r="5.6"/><circle cx="540.4" cy="54.0" r="5.6"/><circle cx="166.3" cy="250.2" r="5.6"/><circle cx="326.5" cy="95.5" r="5.6"/><circle cx="648.0" cy="308.1" r="5.6"/><circle cx="694.8" cy="428.6" r="5.6"/><circle cx="201.8" cy="261.5" r="5.6"/><circle cx="241.0" cy="78.2" r="5.6"/><circle cx="148.6" cy="251.5" r="5.6"/><circle cx="267.9" cy="165.9" r="5.6"/><circle cx="746.1" cy="264.9" r="5.6"/><circle cx="608.0" cy="403.9" r="5.6"/><circle cx="578.6" cy="172.1" r="5.6"/><circle cx="426.7" cy="97.5" r="5.6"/><circle cx="486.2" cy="41.3" r="5.6"/><circle cx="753.0" cy="160.2" r="5.6"/><circle cx="686.9" cy="206.0" r="5.6"/><circle cx="195.6" cy="156.1" r="5.6"/><circle cx="507.4" cy="134.0" r="5.6"/><circle cx="716.1" cy="226.0" r="5.6"/><circle cx="564.0" cy="355.1" r="5.6"/><circle cx="544.4" cy="289.3" r="5.6"/><circle cx="340.7" cy="161.7" r="5.6"/><circle cx="663.7" cy="418.3" r="5.6"/><circle cx="245.8" cy="171.1" r="5.6"/><circle cx="142.6" cy="236.9" r="5.6"/><circle cx="718.6" cy="234.3" r="5.6"/><circle cx="558.1" cy="130.8" r="5.6"/><circle cx="686.8" cy="115.4" r="5.6"/><circle cx="288.1" cy="116.8" r="5.6"/><circle cx="434.1" cy="107.4" r="5.6"/><circle cx="377.5" cy="94.7" r="5.6"/><circle cx="553.3" cy="334.7" r="5.6"/><circle cx="202.5" cy="131.9" r="5.6"/><circle cx="519.4" cy="91.3" r="5.6"/><circle cx="422.3" cy="141.7" r="5.6"/><circle cx="549.0" cy="285.5" r="5.6"/><circle cx="727.2" cy="265.3" r="5.6"/><circle cx="248.0" cy="124.0" r="5.6"/><circle cx="723.4" cy="149.2" r="5.6"/><circle cx="182.8" cy="175.4" r="5.6"/><circle cx="507.0" cy="149.4" r="5.6"/><circle cx="165.0" cy="265.3" r="5.6"/><circle cx="173.0" cy="169.5" r="5.6"/><circle cx="604.1" cy="366.9" r="5.6"/><circle cx="456.6" cy="112.5" r="5.6"/><circle cx="162.6" cy="257.1" r="5.6"/><circle cx="166.7" cy="262.3" r="5.6"/><circle cx="615.2" cy="101.0" r="5.6"/><circle cx="632.2" cy="285.6" r="5.6"/><circle cx="172.4" cy="187.3" r="5.6"/><circle cx="612.4" cy="158.7" r="5.6"/><circle cx="205.9" cy="248.6" r="5.6"/><circle cx="628.3" cy="411.0" r="5.6"/><circle cx="261.8" cy="123.5" r="5.6"/><circle cx="698.6" cy="137.6" r="5.6"/><circle cx="590.0" cy="152.7" r="5.6"/><circle cx="691.4" cy="246.9" r="5.6"/><circle cx="204.0" cy="161.3" r="5.6"/><circle cx="466.7" cy="112.1" r="5.6"/><circle cx="345.2" cy="141.4" r="5.6"/><circle cx="573.9" cy="399.3" r="5.6"/><circle cx="692.4" cy="405.6" r="5.6"/><circle cx="698.7" cy="474.9" r="5.6"/><circle cx="645.1" cy="148.0" r="5.6"/><circle cx="695.7" cy="235.3" r="5.6"/><circle cx="604.2" cy="415.5" r="5.6"/><circle cx="487.8" cy="56.4" r="5.6"/><circle cx="716.3" cy="463.4" r="5.6"/><circle cx="730.2" cy="270.1" r="5.6"/><circle cx="184.1" cy="134.2" r="5.6"/><circle cx="735.0" cy="408.3" r="5.6"/><circle cx="732.6" cy="241.8" r="5.6"/><circle cx="185.5" cy="241.4" r="5.6"/><circle cx="662.9" cy="223.7" r="5.6"/><circle cx="388.0" cy="101.3" r="5.6"/><circle cx="569.8" cy="345.6" r="5.6"/><circle cx="275.8" cy="117.5" r="5.6"/><circle cx="545.2" cy="71.8" r="5.6"/><circle cx="631.2" cy="385.3" r="5.6"/><circle cx="254.6" cy="121.8" r="5.6"/><circle cx="356.2" cy="89.3" r="5.6"/><circle cx="536.6" cy="146.8" r="5.6"/><circle cx="715.4" cy="226.8" r="5.6"/><circle cx="691.4" cy="189.1" r="5.6"/><circle cx="729.8" cy="457.3" r="5.6"/><circle cx="657.4" cy="257.0" r="5.6"/><circle cx="636.4" cy="420.1" r="5.6"/><circle cx="238.5" cy="91.5" r="5.6"/><circle cx="449.9" cy="126.6" r="5.6"/><circle cx="386.8" cy="104.8" r="5.6"/><circle cx="582.5" cy="331.7" r="5.6"/><circle cx="617.7" cy="329.8" r="5.6"/><circle cx="497.1" cy="159.3" r="5.6"/><circle cx="473.0" cy="107.7" r="5.6"/><circle cx="584.1" cy="434.2" r="5.6"/><circle cx="687.9" cy="182.9" r="5.6"/><circle cx="428.7" cy="142.0" r="5.6"/><circle cx="308.7" cy="123.2" r="5.6"/><circle cx="446.9" cy="88.7" r="5.6"/><circle cx="593.0" cy="341.6" r="5.6"/><circle cx="585.7" cy="166.1" r="5.6"/><circle cx="140.4" cy="201.9" r="5.6"/><circle cx="584.5" cy="406.7" r="5.6"/><circle cx="549.5" cy="128.1" r="5.6"/><circle cx="340.0" cy="157.8" r="5.6"/><circle cx="543.7" cy="178.8" r="5.6"/><circle cx="716.8" cy="408.6" r="5.6"/><circle cx="492.8" cy="126.8" r="5.6"/><circle cx="423.9" cy="90.0" r="5.6"/><circle cx="310.1" cy="154.4" r="5.6"/><circle cx="651.4" cy="384.5" r="5.6"/><circle cx="577.9" cy="90.9" r="5.6"/><circle cx="483.4" cy="51.9" r="5.6"/><circle cx="270.6" cy="95.7" r="5.6"/><circle cx="553.8" cy="300.4" r="5.6"/><circle cx="299.6" cy="100.1" r="5.6"/><circle cx="551.4" cy="301.5" r="5.6"/><circle cx="622.3" cy="315.9" r="5.6"/><circle cx="727.1" cy="176.7" r="5.6"/><circle cx="601.7" cy="290.0" r="5.6"/><circle cx="611.0" cy="279.9" r="5.6"/><circle cx="567.2" cy="105.2" r="5.6"/><circle cx="521.9" cy="364.5" r="5.6"/><circle cx="584.4" cy="163.4" r="5.6"/><circle cx="449.9" cy="129.6" r="5.6"/><circle cx="402.8" cy="125.2" r="5.6"/><circle cx="514.3" cy="105.9" r="5.6"/><circle cx="596.0" cy="433.8" r="5.6"/><circle cx="288.5" cy="102.5" r="5.6"/><circle cx="711.1" cy="514.1" r="5.6"/><circle cx="208.9" cy="149.5" r="5.6"/><circle cx="603.5" cy="149.2" r="5.6"/><circle cx="592.4" cy="381.3" r="5.6"/><circle cx="541.3" cy="90.6" r="5.6"/><circle cx="598.7" cy="315.0" r="5.6"/><circle cx="707.6" cy="221.4" r="5.6"/><circle cx="636.4" cy="271.0" r="5.6"/><circle cx="187.5" cy="226.8" r="5.6"/><circle cx="660.5" cy="238.7" r="5.6"/><circle cx="551.0" cy="383.7" r="5.6"/><circle cx="580.0" cy="299.9" r="5.6"/><circle cx="527.0" cy="158.8" r="5.6"/><circle cx="519.0" cy="349.1" r="5.6"/><circle cx="585.6" cy="184.6" r="5.6"/><circle cx="655.4" cy="491.4" r="5.6"/><circle cx="538.0" cy="375.3" r="5.6"/><circle cx="583.7" cy="125.9" r="5.6"/><circle cx="601.0" cy="186.8" r="5.6"/><circle cx="465.4" cy="141.2" r="5.6"/><circle cx="676.7" cy="442.7" r="5.6"/><circle cx="524.6" cy="364.1" r="5.6"/><circle cx="420.6" cy="96.2" r="5.6"/><circle cx="642.8" cy="215.0" r="5.6"/><circle cx="274.3" cy="114.9" r="5.6"/><circle cx="659.3" cy="288.5" r="5.6"/><circle cx="704.4" cy="248.6" r="5.6"/><circle cx="468.9" cy="63.6" r="5.6"/><circle cx="157.1" cy="267.2" r="5.6"/><circle cx="462.5" cy="168.5" r="5.6"/><circle cx="686.9" cy="477.4" r="5.6"/><circle cx="652.5" cy="243.1" r="5.6"/><circle cx="564.0" cy="313.3" r="5.6"/><circle cx="489.3" cy="112.8" r="5.6"/><circle cx="686.5" cy="157.2" r="5.6"/><circle cx="187.6" cy="177.9" r="5.6"/><circle cx="669.6" cy="129.6" r="5.6"/><circle cx="406.1" cy="76.9" r="5.6"/><circle cx="442.7" cy="76.9" r="5.6"/><circle cx="692.1" cy="392.4" r="5.6"/><circle cx="563.0" cy="328.6" r="5.6"/><circle cx="733.6" cy="274.8" r="5.6"/><circle cx="665.0" cy="376.5" r="5.6"/><circle cx="307.6" cy="97.3" r="5.6"/><circle cx="710.5" cy="172.4" r="5.6"/><circle cx="529.1" cy="98.0" r="5.6"/><circle cx="576.1" cy="165.6" r="5.6"/><circle cx="691.8" cy="252.9" r="5.6"/><circle cx="315.6" cy="116.5" r="5.6"/><circle cx="524.9" cy="154.8" r="5.6"/><circle cx="621.6" cy="365.5" r="5.6"/><circle cx="717.7" cy="228.7" r="5.6"/><circle cx="640.8" cy="248.9" r="5.6"/><circle cx="609.3" cy="332.6" r="5.6"/><circle cx="706.4" cy="184.1" r="5.6"/><circle cx="557.5" cy="415.4" r="5.6"/><circle cx="544.2" cy="311.4" r="5.6"/><circle cx="582.8" cy="106.8" r="5.6"/><circle cx="576.8" cy="395.3" r="5.6"/><circle cx="709.9" cy="185.0" r="5.6"/><circle cx="734.1" cy="436.3" r="5.6"/><circle cx="264.3" cy="170.5" r="5.6"/><circle cx="741.6" cy="203.2" r="5.6"/><circle cx="501.7" cy="121.2" r="5.6"/><circle cx="561.8" cy="313.0" r="5.6"/><circle cx="239.5" cy="154.6" r="5.6"/><circle cx="623.3" cy="308.4" r="5.6"/><circle cx="641.8" cy="245.3" r="5.6"/><circle cx="184.1" cy="196.7" r="5.6"/><circle cx="206.0" cy="162.7" r="5.6"/><circle cx="724.3" cy="424.3" r="5.6"/><circle cx="178.4" cy="170.8" r="5.6"/><circle cx="339.1" cy="155.2" r="5.6"/><circle cx="684.6" cy="148.6" r="5.6"/><circle cx="746.2" cy="200.1" r="5.6"/><circle cx="302.2" cy="67.9" r="5.6"/><circle cx="446.5" cy="117.5" r="5.6"/><circle cx="486.3" cy="111.1" r="5.6"/><circle cx="499.4" cy="110.4" r="5.6"/><circle cx="192.9" cy="267.8" r="5.6"/><circle cx="188.4" cy="246.5" r="5.6"/><circle cx="563.4" cy="87.7" r="5.6"/><circle cx="574.3" cy="434.5" r="5.6"/><circle cx="441.5" cy="122.6" r="5.6"/><circle cx="423.8" cy="158.5" r="5.6"/><circle cx="149.3" cy="169.0" r="5.6"/><circle cx="179.2" cy="165.6" r="5.6"/><circle cx="340.5" cy="153.0" r="5.6"/><circle cx="665.7" cy="180.0" r="5.6"/><circle cx="579.3" cy="170.2" r="5.6"/><circle cx="389.4" cy="125.4" r="5.6"/><circle cx="663.3" cy="235.5" r="5.6"/><circle cx="519.2" cy="142.1" r="5.6"/><circle cx="756.0" cy="188.7" r="5.6"/><circle cx="192.2" cy="129.8" r="5.6"/><circle cx="596.3" cy="61.8" r="5.6"/><circle cx="253.3" cy="129.7" r="5.6"/><circle cx="310.2" cy="142.7" r="5.6"/><circle cx="418.7" cy="119.2" r="5.6"/><circle cx="385.5" cy="111.6" r="5.6"/><circle cx="245.2" cy="118.1" r="5.6"/><circle cx="709.1" cy="408.9" r="5.6"/><circle cx="614.8" cy="321.1" r="5.6"/><circle cx="726.3" cy="441.3" r="5.6"/><circle cx="598.7" cy="160.4" r="5.6"/><circle cx="700.6" cy="123.5" r="5.6"/><circle cx="202.6" cy="176.1" r="5.6"/><circle cx="641.5" cy="298.4" r="5.6"/><circle cx="438.7" cy="118.5" r="5.6"/><circle cx="620.4" cy="148.5" r="5.6"/><circle cx="149.7" cy="185.4" r="5.6"/><circle cx="463.5" cy="43.3" r="5.6"/><circle cx="711.2" cy="277.2" r="5.6"/><circle cx="180.9" cy="230.5" r="5.6"/><circle cx="201.0" cy="228.7" r="5.6"/><circle cx="351.3" cy="104.7" r="5.6"/><circle cx="384.5" cy="145.4" r="5.6"/><circle cx="684.4" cy="415.6" r="5.6"/><circle cx="634.0" cy="164.4" r="5.6"/><circle cx="710.7" cy="418.4" r="5.6"/><circle cx="692.0" cy="417.5" r="5.6"/><circle cx="566.8" cy="305.8" r="5.6"/><circle cx="738.2" cy="536.4" r="5.6"/><circle cx="577.0" cy="138.0" r="5.6"/><circle cx="668.3" cy="373.6" r="5.6"/><circle cx="715.9" cy="152.9" r="5.6"/><circle cx="725.0" cy="472.4" r="5.6"/><circle cx="710.8" cy="176.6" r="5.6"/><circle cx="613.1" cy="165.4" r="5.6"/><circle cx="688.0" cy="263.4" r="5.6"/><circle cx="268.0" cy="97.1" r="5.6"/><circle cx="624.1" cy="399.4" r="5.6"/><circle cx="453.3" cy="132.6" r="5.6"/><circle cx="243.1" cy="121.5" r="5.6"/><circle cx="695.8" cy="184.3" r="5.6"/><circle cx="555.5" cy="152.3" r="5.6"/><circle cx="616.7" cy="164.7" r="5.6"/><circle cx="442.8" cy="50.8" r="5.6"/><circle cx="417.4" cy="106.0" r="5.6"/><circle cx="571.2" cy="303.9" r="5.6"/><circle cx="596.3" cy="320.5" r="5.6"/><circle cx="750.3" cy="545.4" r="5.6"/><circle cx="257.6" cy="97.0" r="5.6"/><circle cx="392.3" cy="84.4" r="5.6"/><circle cx="435.3" cy="39.9" r="5.6"/><circle cx="527.7" cy="179.5" r="5.6"/><circle cx="639.1" cy="127.9" r="5.6"/><circle cx="239.2" cy="156.4" r="5.6"/><circle cx="671.8" cy="371.5" r="5.6"/><circle cx="668.5" cy="250.1" r="5.6"/><circle cx="662.9" cy="178.9" r="5.6"/><circle cx="167.8" cy="156.8" r="5.6"/><circle cx="152.0" cy="205.7" r="5.6"/><circle cx="522.4" cy="354.3" r="5.6"/><circle cx="695.4" cy="185.9" r="5.6"/><circle cx="695.3" cy="267.6" r="5.6"/><circle cx="664.9" cy="260.5" r="5.6"/><circle cx="621.2" cy="345.2" r="5.6"/><circle cx="588.4" cy="395.8" r="5.6"/><circle cx="390.6" cy="94.8" r="5.6"/><circle cx="463.4" cy="77.7" r="5.6"/><circle cx="720.3" cy="471.0" r="5.6"/><circle cx="679.5" cy="428.3" r="5.6"/><circle cx="641.3" cy="250.8" r="5.6"/><circle cx="629.5" cy="168.7" r="5.6"/><circle cx="690.1" cy="235.5" r="5.6"/><circle cx="507.9" cy="330.9" r="5.6"/><circle cx="739.5" cy="223.9" r="5.6"/><circle cx="734.2" cy="212.5" r="5.6"/><circle cx="218.3" cy="104.3" r="5.6"/><circle cx="498.5" cy="76.2" r="5.6"/><circle cx="613.7" cy="196.6" r="5.6"/><circle cx="287.8" cy="82.0" r="5.6"/><circle cx="519.7" cy="324.0" r="5.6"/><circle cx="674.9" cy="220.6" r="5.6"/><circle cx="644.0" cy="352.9" r="5.6"/><circle cx="400.6" cy="85.2" r="5.6"/><circle cx="607.2" cy="432.7" r="5.6"/><circle cx="631.8" cy="117.1" r="5.6"/><circle cx="202.0" cy="170.9" r="5.6"/><circle cx="461.8" cy="127.6" r="5.6"/><circle cx="239.3" cy="132.7" r="5.6"/><circle cx="535.0" cy="320.5" r="5.6"/><circle cx="553.5" cy="361.0" r="5.6"/><circle cx="597.2" cy="167.9" r="5.6"/><circle cx="745.9" cy="528.6" r="5.6"/><circle cx="297.1" cy="72.4" r="5.6"/><circle cx="646.4" cy="157.3" r="5.6"/><circle cx="210.1" cy="129.4" r="5.6"/><circle cx="634.5" cy="167.9" r="5.6"/><circle cx="582.3" cy="163.7" r="5.6"/><circle cx="653.0" cy="434.6" r="5.6"/><circle cx="669.6" cy="193.5" r="5.6"/><circle cx="619.7" cy="357.9" r="5.6"/><circle cx="499.9" cy="92.0" r="5.6"/><circle cx="623.2" cy="453.8" r="5.6"/><circle cx="208.2" cy="241.5" r="5.6"/><circle cx="557.6" cy="65.6" r="5.6"/><circle cx="737.3" cy="163.3" r="5.6"/><circle cx="303.8" cy="158.1" r="5.6"/><circle cx="722.0" cy="153.4" r="5.6"/><circle cx="773.2" cy="206.3" r="5.6"/><circle cx="751.5" cy="490.1" r="5.6"/><circle cx="601.9" cy="407.7" r="5.6"/><circle cx="744.0" cy="508.8" r="5.6"/><circle cx="276.3" cy="78.5" r="5.6"/><circle cx="163.9" cy="249.6" r="5.6"/><circle cx="285.0" cy="127.8" r="5.6"/><circle cx="731.6" cy="480.4" r="5.6"/><circle cx="607.0" cy="115.4" r="5.6"/><circle cx="253.0" cy="161.3" r="5.6"/><circle cx="581.5" cy="289.0" r="5.6"/><circle cx="664.1" cy="186.0" r="5.6"/><circle cx="246.1" cy="115.8" r="5.6"/><circle cx="697.7" cy="209.5" r="5.6"/><circle cx="560.0" cy="315.7" r="5.6"/><circle cx="736.9" cy="243.0" r="5.6"/><circle cx="162.3" cy="172.1" r="5.6"/><circle cx="721.5" cy="449.8" r="5.6"/><circle cx="242.9" cy="120.2" r="5.6"/><circle cx="188.0" cy="217.3" r="5.6"/><circle cx="619.3" cy="85.0" r="5.6"/><circle cx="148.3" cy="188.0" r="5.6"/><circle cx="264.5" cy="122.9" r="5.6"/><circle cx="420.9" cy="103.5" r="5.6"/><circle cx="657.6" cy="246.7" r="5.6"/><circle cx="715.6" cy="468.4" r="5.6"/><circle cx="663.6" cy="509.6" r="5.6"/><circle cx="361.7" cy="115.0" r="5.6"/><circle cx="733.3" cy="183.5" r="5.6"/><circle cx="695.0" cy="147.7" r="5.6"/><circle cx="330.6" cy="107.6" r="5.6"/><circle cx="611.9" cy="383.6" r="5.6"/><circle cx="242.5" cy="82.0" r="5.6"/><circle cx="673.8" cy="121.0" r="5.6"/><circle cx="168.2" cy="237.8" r="5.6"/><circle cx="162.1" cy="236.9" r="5.6"/><circle cx="289.5" cy="101.0" r="5.6"/><circle cx="542.2" cy="390.1" r="5.6"/><circle cx="695.5" cy="254.6" r="5.6"/><circle cx="659.6" cy="288.8" r="5.6"/><circle cx="665.0" cy="291.2" r="5.6"/><circle cx="711.5" cy="157.0" r="5.6"/><circle cx="581.3" cy="190.1" r="5.6"/><circle cx="520.0" cy="99.9" r="5.6"/><circle cx="355.4" cy="80.6" r="5.6"/><circle cx="714.0" cy="145.2" r="5.6"/><circle cx="178.7" cy="190.3" r="5.6"/><circle cx="454.5" cy="112.1" r="5.6"/><circle cx="529.4" cy="137.2" r="5.6"/><circle cx="380.2" cy="99.1" r="5.6"/><circle cx="668.0" cy="189.7" r="5.6"/><circle cx="195.8" cy="190.5" r="5.6"/><circle cx="687.2" cy="253.8" r="5.6"/><circle cx="193.0" cy="136.6" r="5.6"/><circle cx="605.8" cy="338.7" r="5.6"/><circle cx="680.4" cy="467.3" r="5.6"/><circle cx="186.3" cy="221.6" r="5.6"/><circle cx="593.6" cy="140.0" r="5.6"/><circle cx="633.2" cy="431.7" r="5.6"/><circle cx="295.9" cy="146.7" r="5.6"/><circle cx="633.1" cy="402.4" r="5.6"/><circle cx="569.8" cy="429.1" r="5.6"/><circle cx="580.2" cy="405.0" r="5.6"/><circle cx="686.3" cy="443.2" r="5.6"/><circle cx="328.0" cy="150.3" r="5.6"/><circle cx="631.7" cy="172.4" r="5.6"/><circle cx="521.1" cy="163.4" r="5.6"/><circle cx="429.5" cy="98.4" r="5.6"/><circle cx="692.9" cy="378.1" r="5.6"/><circle cx="244.3" cy="117.1" r="5.6"/><circle cx="176.2" cy="213.3" r="5.6"/><circle cx="546.6" cy="101.9" r="5.6"/><circle cx="586.4" cy="389.3" r="5.6"/><circle cx="702.8" cy="417.9" r="5.6"/><circle cx="688.8" cy="136.6" r="5.6"/><circle cx="288.6" cy="108.5" r="5.6"/><circle cx="536.4" cy="316.0" r="5.6"/><circle cx="395.9" cy="132.5" r="5.6"/><circle cx="657.2" cy="430.7" r="5.6"/><circle cx="722.7" cy="236.7" r="5.6"/><circle cx="700.6" cy="459.1" r="5.6"/><circle cx="635.0" cy="112.4" r="5.6"/><circle cx="212.1" cy="99.6" r="5.6"/><circle cx="673.8" cy="221.9" r="5.6"/><circle cx="609.7" cy="301.0" r="5.6"/><circle cx="556.1" cy="88.8" r="5.6"/><circle cx="350.9" cy="79.1" r="5.6"/><circle cx="660.0" cy="500.5" r="5.6"/><circle cx="340.7" cy="138.3" r="5.6"/><circle cx="716.3" cy="203.4" r="5.6"/><circle cx="385.1" cy="124.7" r="5.6"/><circle cx="542.1" cy="117.5" r="5.6"/><circle cx="523.4" cy="173.8" r="5.6"/><circle cx="588.9" cy="298.4" r="5.6"/><circle cx="666.9" cy="176.8" r="5.6"/><circle cx="680.4" cy="214.5" r="5.6"/><circle cx="212.8" cy="243.0" r="5.6"/><circle cx="704.9" cy="124.8" r="5.6"/><circle cx="608.8" cy="471.8" r="5.6"/><circle cx="552.7" cy="413.3" r="5.6"/><circle cx="700.5" cy="432.4" r="5.6"/><circle cx="607.7" cy="157.0" r="5.6"/><circle cx="670.4" cy="477.5" r="5.6"/><circle cx="227.7" cy="168.8" r="5.6"/><circle cx="476.1" cy="68.0" r="5.6"/><circle cx="256.2" cy="173.9" r="5.6"/><circle cx="557.1" cy="308.1" r="5.6"/><circle cx="536.9" cy="364.4" r="5.6"/><circle cx="596.4" cy="291.7" r="5.6"/><circle cx="397.8" cy="76.6" r="5.6"/><circle cx="637.8" cy="384.8" r="5.6"/><circle cx="509.8" cy="36.3" r="5.6"/><circle cx="631.3" cy="115.0" r="5.6"/><circle cx="394.7" cy="100.0" r="5.6"/><circle cx="737.6" cy="474.1" r="5.6"/><circle cx="595.1" cy="394.4" r="5.6"/><circle cx="602.4" cy="160.5" r="5.6"/><circle cx="744.7" cy="264.8" r="5.6"/><circle cx="562.9" cy="413.5" r="5.6"/><circle cx="714.8" cy="233.6" r="5.6"/><circle cx="699.0" cy="405.4" r="5.6"/><circle cx="718.5" cy="223.8" r="5.6"/><circle cx="683.9" cy="128.8" r="5.6"/><circle cx="282.7" cy="115.1" r="5.6"/><circle cx="715.5" cy="243.6" r="5.6"/><circle cx="649.8" cy="121.4" r="5.6"/><circle cx="550.6" cy="403.3" r="5.6"/><circle cx="486.7" cy="86.4" r="5.6"/><circle cx="200.9" cy="249.7" r="5.6"/><circle cx="443.5" cy="122.4" r="5.6"/><circle cx="465.2" cy="144.6" r="5.6"/><circle cx="635.2" cy="364.5" r="5.6"/><circle cx="759.7" cy="175.2" r="5.6"/><circle cx="363.1" cy="100.4" r="5.6"/><circle cx="407.3" cy="80.6" r="5.6"/><circle cx="164.9" cy="271.0" r="5.6"/><circle cx="704.7" cy="476.6" r="5.6"/><circle cx="739.7" cy="211.2" r="5.6"/><circle cx="556.7" cy="356.7" r="5.6"/><circle cx="391.4" cy="102.0" r="5.6"/><circle cx="614.0" cy="335.4" r="5.6"/><circle cx="639.1" cy="409.4" r="5.6"/><circle cx="507.4" cy="86.4" r="5.6"/><circle cx="178.7" cy="220.2" r="5.6"/><circle cx="507.3" cy="114.5" r="5.6"/><circle cx="565.7" cy="385.7" r="5.6"/><circle cx="686.0" cy="282.3" r="5.6"/><circle cx="638.2" cy="478.9" r="5.6"/><circle cx="704.6" cy="518.3" r="5.6"/><circle cx="217.5" cy="113.7" r="5.6"/><circle cx="413.0" cy="154.4" r="5.6"/><circle cx="659.5" cy="134.7" r="5.6"/><circle cx="510.5" cy="56.5" r="5.6"/><circle cx="662.1" cy="152.0" r="5.6"/><circle cx="494.6" cy="97.0" r="5.6"/><circle cx="180.3" cy="224.1" r="5.6"/><circle cx="697.6" cy="142.3" r="5.6"/><circle cx="602.5" cy="400.3" r="5.6"/><circle cx="601.9" cy="268.5" r="5.6"/><circle cx="709.4" cy="477.2" r="5.6"/><circle cx="608.3" cy="336.6" r="5.6"/><circle cx="674.1" cy="252.2" r="5.6"/><circle cx="723.5" cy="245.1" r="5.6"/><circle cx="609.3" cy="114.1" r="5.6"/><circle cx="730.6" cy="277.5" r="5.6"/><circle cx="540.1" cy="393.4" r="5.6"/><circle cx="247.0" cy="109.6" r="5.6"/><circle cx="173.5" cy="169.2" r="5.6"/><circle cx="723.5" cy="225.7" r="5.6"/><circle cx="613.7" cy="81.7" r="5.6"/><circle cx="538.8" cy="325.8" r="5.6"/><circle cx="334.5" cy="98.1" r="5.6"/><circle cx="725.2" cy="192.5" r="5.6"/><circle cx="533.5" cy="100.6" r="5.6"/><circle cx="759.5" cy="201.0" r="5.6"/><circle cx="624.8" cy="105.9" r="5.6"/><circle cx="672.2" cy="243.8" r="5.6"/><circle cx="552.2" cy="394.5" r="5.6"/><circle cx="649.2" cy="110.2" r="5.6"/><circle cx="734.4" cy="217.4" r="5.6"/><circle cx="693.4" cy="240.0" r="5.6"/><circle cx="537.3" cy="56.4" r="5.6"/><circle cx="633.0" cy="356.1" r="5.6"/><circle cx="157.7" cy="170.4" r="5.6"/><circle cx="728.4" cy="196.4" r="5.6"/><circle cx="406.8" cy="154.9" r="5.6"/><circle cx="571.4" cy="113.8" r="5.6"/><circle cx="690.6" cy="248.4" r="5.6"/><circle cx="536.8" cy="153.7" r="5.6"/><circle cx="520.2" cy="178.9" r="5.6"/><circle cx="185.8" cy="195.5" r="5.6"/><circle cx="768.7" cy="233.3" r="5.6"/><circle cx="661.9" cy="426.8" r="5.6"/><circle cx="321.6" cy="101.2" r="5.6"/><circle cx="331.7" cy="96.9" r="5.6"/><circle cx="353.0" cy="142.5" r="5.6"/><circle cx="174.2" cy="162.2" r="5.6"/><circle cx="733.7" cy="204.3" r="5.6"/><circle cx="763.3" cy="214.6" r="5.6"/><circle cx="267.0" cy="109.8" r="5.6"/><circle cx="519.4" cy="126.7" r="5.6"/><circle cx="191.4" cy="182.6" r="5.6"/><circle cx="588.8" cy="415.3" r="5.6"/><circle cx="605.9" cy="350.9" r="5.6"/><circle cx="258.4" cy="143.7" r="5.6"/><circle cx="243.5" cy="95.9" r="5.6"/><circle cx="551.4" cy="93.8" r="5.6"/><circle cx="746.3" cy="162.0" r="5.6"/><circle cx="440.2" cy="148.5" r="5.6"/><circle cx="645.8" cy="397.0" r="5.6"/><circle cx="584.2" cy="338.0" r="5.6"/><circle cx="333.3" cy="132.5" r="5.6"/><circle cx="148.6" cy="179.5" r="5.6"/><circle cx="547.3" cy="288.4" r="5.6"/><circle cx="675.6" cy="189.1" r="5.6"/><circle cx="655.8" cy="474.8" r="5.6"/><circle cx="187.5" cy="156.9" r="5.6"/><circle cx="342.4" cy="80.3" r="5.6"/><circle cx="736.4" cy="544.2" r="5.6"/><circle cx="256.3" cy="160.5" r="5.6"/><circle cx="152.4" cy="213.1" r="5.6"/><circle cx="631.7" cy="387.5" r="5.6"/><circle cx="569.8" cy="124.1" r="5.6"/><circle cx="690.4" cy="289.2" r="5.6"/><circle cx="176.2" cy="227.4" r="5.6"/><circle cx="606.5" cy="161.2" r="5.6"/><circle cx="551.9" cy="61.0" r="5.6"/><circle cx="704.1" cy="171.1" r="5.6"/><circle cx="704.9" cy="130.7" r="5.6"/><circle cx="726.6" cy="508.5" r="5.6"/><circle cx="705.0" cy="418.5" r="5.6"/><circle cx="721.6" cy="244.9" r="5.6"/><circle cx="430.2" cy="160.7" r="5.6"/><circle cx="632.6" cy="206.3" r="5.6"/><circle cx="732.7" cy="268.9" r="5.6"/><circle cx="430.7" cy="96.3" r="5.6"/><circle cx="586.4" cy="153.2" r="5.6"/><circle cx="753.0" cy="228.4" r="5.6"/><circle cx="544.6" cy="110.3" r="5.6"/><circle cx="606.4" cy="94.0" r="5.6"/><circle cx="660.1" cy="146.9" r="5.6"/><circle cx="712.4" cy="428.0" r="5.6"/><circle cx="642.1" cy="383.9" r="5.6"/><circle cx="722.8" cy="469.6" r="5.6"/><circle cx="754.9" cy="272.7" r="5.6"/><circle cx="647.0" cy="287.8" r="5.6"/><circle cx="693.2" cy="271.6" r="5.6"/><circle cx="409.2" cy="68.0" r="5.6"/><circle cx="645.9" cy="172.1" r="5.6"/><circle cx="634.6" cy="182.4" r="5.6"/><circle cx="465.5" cy="144.1" r="5.6"/><circle cx="568.4" cy="378.5" r="5.6"/><circle cx="726.8" cy="452.9" r="5.6"/><circle cx="679.4" cy="152.6" r="5.6"/><circle cx="289.6" cy="149.7" r="5.6"/><circle cx="255.3" cy="131.8" r="5.6"/><circle cx="632.9" cy="102.6" r="5.6"/><circle cx="575.5" cy="152.3" r="5.6"/><circle cx="709.2" cy="226.2" r="5.6"/><circle cx="677.6" cy="381.5" r="5.6"/><circle cx="600.5" cy="151.8" r="5.6"/><circle cx="628.2" cy="124.1" r="5.6"/><circle cx="764.8" cy="208.9" r="5.6"/><circle cx="545.5" cy="285.0" r="5.6"/><circle cx="305.3" cy="144.2" r="5.6"/><circle cx="599.3" cy="93.6" r="5.6"/><circle cx="185.9" cy="225.5" r="5.6"/><circle cx="456.9" cy="115.4" r="5.6"/><circle cx="559.4" cy="146.3" r="5.6"/><circle cx="309.9" cy="86.6" r="5.6"/><circle cx="721.4" cy="475.2" r="5.6"/><circle cx="588.8" cy="410.2" r="5.6"/><circle cx="634.5" cy="250.2" r="5.6"/><circle cx="608.0" cy="144.1" r="5.6"/><circle cx="516.7" cy="345.6" r="5.6"/><circle cx="673.8" cy="193.8" r="5.6"/><circle cx="741.2" cy="489.2" r="5.6"/><circle cx="620.6" cy="102.0" r="5.6"/><circle cx="690.1" cy="249.1" r="5.6"/><circle cx="658.8" cy="392.0" r="5.6"/><circle cx="273.4" cy="87.8" r="5.6"/><circle cx="616.1" cy="422.2" r="5.6"/><circle cx="658.5" cy="291.9" r="5.6"/><circle cx="670.7" cy="467.5" r="5.6"/><circle cx="261.0" cy="165.8" r="5.6"/><circle cx="503.2" cy="158.2" r="5.6"/><circle cx="720.7" cy="542.2" r="5.6"/><circle cx="520.2" cy="42.8" r="5.6"/><circle cx="666.9" cy="366.0" r="5.6"/><circle cx="652.4" cy="396.5" r="5.6"/><circle cx="466.1" cy="128.7" r="5.6"/><circle cx="685.7" cy="160.3" r="5.6"/><circle cx="443.5" cy="93.9" r="5.6"/><circle cx="613.8" cy="402.1" r="5.6"/><circle cx="157.4" cy="222.8" r="5.6"/><circle cx="680.2" cy="424.2" r="5.6"/><circle cx="436.7" cy="107.7" r="5.6"/><circle cx="599.3" cy="437.0" r="5.6"/><circle cx="697.9" cy="226.3" r="5.6"/><circle cx="566.0" cy="323.8" r="5.6"/><circle cx="527.3" cy="371.2" r="5.6"/><circle cx="744.8" cy="188.7" r="5.6"/><circle cx="730.2" cy="233.1" r="5.6"/><circle cx="182.8" cy="148.1" r="5.6"/><circle cx="545.1" cy="373.3" r="5.6"/><circle cx="687.7" cy="268.4" r="5.6"/><circle cx="619.1" cy="440.7" r="5.6"/><circle cx="658.7" cy="133.9" r="5.6"/><circle cx="749.7" cy="494.3" r="5.6"/><circle cx="627.8" cy="317.5" r="5.6"/><circle cx="569.8" cy="102.8" r="5.6"/><circle cx="539.6" cy="394.6" r="5.6"/><circle cx="716.8" cy="403.5" r="5.6"/><circle cx="710.3" cy="457.2" r="5.6"/><circle cx="671.0" cy="302.8" r="5.6"/><circle cx="697.3" cy="500.9" r="5.6"/><circle cx="664.1" cy="486.7" r="5.6"/><circle cx="752.3" cy="186.2" r="5.6"/><circle cx="187.8" cy="198.9" r="5.6"/><circle cx="303.1" cy="95.4" r="5.6"/><circle cx="597.9" cy="113.8" r="5.6"/><circle cx="655.7" cy="364.6" r="5.6"/><circle cx="268.8" cy="172.3" r="5.6"/><circle cx="584.6" cy="206.2" r="5.6"/><circle cx="180.9" cy="238.2" r="5.6"/><circle cx="178.8" cy="219.0" r="5.6"/><circle cx="625.4" cy="345.1" r="5.6"/><circle cx="631.9" cy="285.5" r="5.6"/><circle cx="519.0" cy="157.7" r="5.6"/><circle cx="695.3" cy="125.7" r="5.6"/><circle cx="325.3" cy="91.3" r="5.6"/><circle cx="634.1" cy="269.4" r="5.6"/><circle cx="735.7" cy="514.7" r="5.6"/><circle cx="696.6" cy="237.8" r="5.6"/><circle cx="643.0" cy="168.1" r="5.6"/><circle cx="182.9" cy="143.3" r="5.6"/><circle cx="546.7" cy="387.0" r="5.6"/><circle cx="543.4" cy="282.7" r="5.6"/><circle cx="559.4" cy="72.9" r="5.6"/><circle cx="524.0" cy="117.8" r="5.6"/><circle cx="553.1" cy="335.4" r="5.6"/><circle cx="580.0" cy="329.7" r="5.6"/><circle cx="697.0" cy="281.7" r="5.6"/><circle cx="557.6" cy="421.1" r="5.6"/><circle cx="661.9" cy="210.2" r="5.6"/><circle cx="624.1" cy="191.7" r="5.6"/><circle cx="671.1" cy="466.7" r="5.6"/><circle cx="744.5" cy="237.8" r="5.6"/><circle cx="534.7" cy="89.4" r="5.6"/><circle cx="611.1" cy="94.8" r="5.6"/><circle cx="587.1" cy="350.0" r="5.6"/><circle cx="474.4" cy="80.5" r="5.6"/><circle cx="707.2" cy="523.3" r="5.6"/><circle cx="543.7" cy="102.3" r="5.6"/><circle cx="579.9" cy="436.4" r="5.6"/><circle cx="572.7" cy="433.6" r="5.6"/><circle cx="517.7" cy="98.1" r="5.6"/><circle cx="661.7" cy="494.6" r="5.6"/><circle cx="550.4" cy="370.7" r="5.6"/><circle cx="712.9" cy="163.4" r="5.6"/><circle cx="401.7" cy="113.7" r="5.6"/><circle cx="279.4" cy="108.9" r="5.6"/><circle cx="353.0" cy="134.2" r="5.6"/><circle cx="733.6" cy="286.6" r="5.6"/><circle cx="773.4" cy="219.3" r="5.6"/><circle cx="577.8" cy="67.2" r="5.6"/><circle cx="405.3" cy="152.5" r="5.6"/><circle cx="768.3" cy="227.7" r="5.6"/><circle cx="175.1" cy="177.5" r="5.6"/><circle cx="546.3" cy="60.5" r="5.6"/><circle cx="559.2" cy="105.2" r="5.6"/><circle cx="392.5" cy="74.1" r="5.6"/><circle cx="370.6" cy="117.6" r="5.6"/><circle cx="635.9" cy="200.1" r="5.6"/><circle cx="556.1" cy="319.2" r="5.6"/><circle cx="583.7" cy="425.2" r="5.6"/><circle cx="535.5" cy="336.8" r="5.6"/><circle cx="684.6" cy="206.9" r="5.6"/><circle cx="539.2" cy="291.2" r="5.6"/><circle cx="150.3" cy="181.4" r="5.6"/><circle cx="697.9" cy="484.6" r="5.6"/><circle cx="723.3" cy="287.4" r="5.6"/><circle cx="155.2" cy="213.2" r="5.6"/><circle cx="177.6" cy="140.4" r="5.6"/><circle cx="242.8" cy="89.2" r="5.6"/><circle cx="641.2" cy="222.5" r="5.6"/><circle cx="161.9" cy="268.1" r="5.6"/><circle cx="553.0" cy="400.1" r="5.6"/><circle cx="516.7" cy="103.3" r="5.6"/><circle cx="655.3" cy="211.9" r="5.6"/><circle cx="663.5" cy="441.5" r="5.6"/><circle cx="519.8" cy="137.5" r="5.6"/><circle cx="632.6" cy="384.4" r="5.6"/><circle cx="652.0" cy="422.1" r="5.6"/><circle cx="676.3" cy="232.7" r="5.6"/><circle cx="716.1" cy="480.4" r="5.6"/><circle cx="697.0" cy="455.0" r="5.6"/><circle cx="636.8" cy="455.2" r="5.6"/><circle cx="551.8" cy="407.3" r="5.6"/><circle cx="619.3" cy="456.3" r="5.6"/><circle cx="384.7" cy="79.7" r="5.6"/><circle cx="638.5" cy="124.0" r="5.6"/><circle cx="567.3" cy="370.8" r="5.6"/><circle cx="686.2" cy="385.6" r="5.6"/><circle cx="587.6" cy="123.3" r="5.6"/><circle cx="615.5" cy="130.6" r="5.6"/><circle cx="660.2" cy="519.9" r="5.6"/><circle cx="224.8" cy="394.6" r="5.6"/><circle cx="228.7" cy="281.8" r="5.6"/><circle cx="225.4" cy="394.8" r="5.6"/><circle cx="234.2" cy="392.8" r="5.6"/><circle cx="239.0" cy="288.8" r="5.6"/><circle cx="336.7" cy="346.6" r="5.6"/><circle cx="238.9" cy="393.2" r="5.6"/><circle cx="288.1" cy="380.7" r="5.6"/><circle cx="326.2" cy="311.2" r="5.6"/><circle cx="267.5" cy="388.9" r="5.6"/><circle cx="325.2" cy="342.2" r="5.6"/><circle cx="262.6" cy="390.6" r="5.6"/><circle cx="323.2" cy="313.7" r="5.6"/><circle cx="274.1" cy="385.0" r="5.6"/><circle cx="244.9" cy="392.1" r="5.6"/><circle cx="316.1" cy="303.0" r="5.6"/><circle cx="261.1" cy="388.6" r="5.6"/><circle cx="266.1" cy="389.6" r="5.6"/><circle cx="276.1" cy="385.7" r="5.6"/><circle cx="217.4" cy="274.7" r="5.6"/><circle cx="316.5" cy="298.1" r="5.6"/><circle cx="267.1" cy="389.5" r="5.6"/><circle cx="327.5" cy="317.2" r="5.6"/><circle cx="210.8" cy="396.9" r="5.6"/><circle cx="242.3" cy="392.3" r="5.6"/><circle cx="265.5" cy="294.5" r="5.6"/><circle cx="222.0" cy="395.4" r="5.6"/><circle cx="237.1" cy="393.7" r="5.6"/><circle cx="320.3" cy="361.1" r="5.6"/><circle cx="327.2" cy="310.0" r="5.6"/><circle cx="255.7" cy="391.7" r="5.6"/><circle cx="258.2" cy="389.1" r="5.6"/><circle cx="228.8" cy="393.8" r="5.6"/><circle cx="289.0" cy="380.2" r="5.6"/><circle cx="296.2" cy="376.8" r="5.6"/><circle cx="248.2" cy="390.6" r="5.6"/><circle cx="293.4" cy="380.7" r="5.6"/><circle cx="211.2" cy="396.2" r="5.6"/><circle cx="324.5" cy="365.4" r="5.6"/><circle cx="298.8" cy="378.2" r="5.6"/><circle cx="300.2" cy="378.4" r="5.6"/><circle cx="313.6" cy="369.9" r="5.6"/><circle cx="286.7" cy="382.8" r="5.6"/><circle cx="212.4" cy="396.5" r="5.6"/><circle cx="314.7" cy="366.9" r="5.6"/><circle cx="269.8" cy="295.4" r="5.6"/><circle cx="259.2" cy="391.5" r="5.6"/><circle cx="234.6" cy="393.2" r="5.6"/><circle cx="227.3" cy="394.8" r="5.6"/><circle cx="328.2" cy="314.5" r="5.6"/><circle cx="285.0" cy="384.9" r="5.6"/><circle cx="328.2" cy="319.0" r="5.6"/><circle cx="243.4" cy="393.2" r="5.6"/><circle cx="327.3" cy="341.1" r="5.6"/><circle cx="313.7" cy="369.5" r="5.6"/><circle cx="260.3" cy="389.4" r="5.6"/><circle cx="239.9" cy="392.2" r="5.6"/><circle cx="247.2" cy="392.2" r="5.6"/><circle cx="234.7" cy="393.8" r="5.6"/><circle cx="261.3" cy="389.3" r="5.6"/><circle cx="214.5" cy="276.4" r="5.6"/><circle cx="214.4" cy="396.5" r="5.6"/><circle cx="231.9" cy="393.9" r="5.6"/><circle cx="259.2" cy="390.0" r="5.6"/><circle cx="321.0" cy="312.2" r="5.6"/><circle cx="268.9" cy="390.1" r="5.6"/><circle cx="226.4" cy="394.2" r="5.6"/><circle cx="257.5" cy="390.4" r="5.6"/><circle cx="303.6" cy="373.2" r="5.6"/><circle cx="294.6" cy="377.5" r="5.6"/><circle cx="220.9" cy="395.1" r="5.6"/><circle cx="322.6" cy="302.5" r="5.6"/><circle cx="211.7" cy="396.0" r="5.6"/><circle cx="241.6" cy="393.4" r="5.6"/><circle cx="324.6" cy="310.2" r="5.6"/><circle cx="269.4" cy="297.8" r="5.6"/><circle cx="288.7" cy="383.4" r="5.6"/><circle cx="267.2" cy="295.1" r="5.6"/><circle cx="278.6" cy="299.0" r="5.6"/><circle cx="280.5" cy="383.6" r="5.6"/><circle cx="321.7" cy="360.3" r="5.6"/><circle cx="258.4" cy="389.7" r="5.6"/><circle cx="267.1" cy="388.1" r="5.6"/><circle cx="268.6" cy="387.1" r="5.6"/><circle cx="270.3" cy="388.2" r="5.6"/><circle cx="328.9" cy="315.6" r="5.6"/><circle cx="247.0" cy="391.1" r="5.6"/><circle cx="247.1" cy="390.9" r="5.6"/><circle cx="247.7" cy="391.8" r="5.6"/><circle cx="232.3" cy="394.2" r="5.6"/><circle cx="218.8" cy="282.2" r="5.6"/><circle cx="286.6" cy="295.6" r="5.6"/><circle cx="214.7" cy="395.7" r="5.6"/><circle cx="273.4" cy="386.6" r="5.6"/><circle cx="329.4" cy="348.0" r="5.6"/><circle cx="331.4" cy="353.8" r="5.6"/><circle cx="335.6" cy="330.2" r="5.6"/><circle cx="259.9" cy="390.7" r="5.6"/><circle cx="269.6" cy="388.3" r="5.6"/><circle cx="215.5" cy="396.3" r="5.6"/><circle cx="254.9" cy="390.9" r="5.6"/><circle cx="210.7" cy="396.8" r="5.6"/><circle cx="287.1" cy="383.6" r="5.6"/><circle cx="229.5" cy="394.0" r="5.6"/><circle cx="218.9" cy="395.7" r="5.6"/><circle cx="327.1" cy="310.1" r="5.6"/><circle cx="267.2" cy="389.2" r="5.6"/><circle cx="253.3" cy="389.8" r="5.6"/><circle cx="326.8" cy="315.8" r="5.6"/><circle cx="321.0" cy="299.8" r="5.6"/><circle cx="267.2" cy="293.3" r="5.6"/><circle cx="309.4" cy="372.1" r="5.6"/><circle cx="257.4" cy="290.3" r="5.6"/><circle cx="286.3" cy="381.0" r="5.6"/><circle cx="276.6" cy="292.2" r="5.6"/><circle cx="222.6" cy="278.1" r="5.6"/><circle cx="290.0" cy="382.1" r="5.6"/><circle cx="229.5" cy="394.2" r="5.6"/><circle cx="278.8" cy="386.8" r="5.6"/><circle cx="261.3" cy="294.1" r="5.6"/><circle cx="318.1" cy="366.4" r="5.6"/><circle cx="325.6" cy="310.5" r="5.6"/><circle cx="277.1" cy="386.0" r="5.6"/><circle cx="195.1" cy="269.4" r="5.6"/><circle cx="325.9" cy="361.1" r="5.6"/><circle cx="259.1" cy="390.0" r="5.6"/><circle cx="218.2" cy="395.6" r="5.6"/><circle cx="328.4" cy="360.5" r="5.6"/><circle cx="209.5" cy="274.0" r="5.6"/><circle cx="326.2" cy="352.2" r="5.6"/><circle cx="221.4" cy="394.9" r="5.6"/><circle cx="245.4" cy="391.2" r="5.6"/><circle cx="324.3" cy="348.0" r="5.6"/><circle cx="209.0" cy="396.5" r="5.6"/><circle cx="261.7" cy="390.1" r="5.6"/><circle cx="326.5" cy="360.6" r="5.6"/><circle cx="246.2" cy="392.2" r="5.6"/><circle cx="301.1" cy="379.0" r="5.6"/><circle cx="314.1" cy="297.6" r="5.6"/><circle cx="229.7" cy="394.3" r="5.6"/><circle cx="330.7" cy="315.7" r="5.6"/><circle cx="322.1" cy="309.5" r="5.6"/><circle cx="261.0" cy="389.3" r="5.6"/><circle cx="325.7" cy="308.7" r="5.6"/><circle cx="226.3" cy="394.4" r="5.6"/><circle cx="242.1" cy="392.5" r="5.6"/><circle cx="295.5" cy="378.4" r="5.6"/><circle cx="326.8" cy="316.5" r="5.6"/><circle cx="331.6" cy="325.7" r="5.6"/><circle cx="320.6" cy="366.2" r="5.6"/><circle cx="322.6" cy="309.0" r="5.6"/><circle cx="214.0" cy="277.7" r="5.6"/><circle cx="259.3" cy="293.1" r="5.6"/><circle cx="260.8" cy="390.6" r="5.6"/><circle cx="254.0" cy="390.9" r="5.6"/><circle cx="198.8" cy="267.1" r="5.6"/><circle cx="235.6" cy="283.5" r="5.6"/><circle cx="221.3" cy="395.6" r="5.6"/><circle cx="252.2" cy="391.4" r="5.6"/><circle cx="263.9" cy="389.2" r="5.6"/><circle cx="334.0" cy="341.3" r="5.6"/><circle cx="262.4" cy="390.7" r="5.6"/><circle cx="293.6" cy="301.9" r="5.6"/><circle cx="232.6" cy="394.3" r="5.6"/><circle cx="258.1" cy="390.8" r="5.6"/><circle cx="215.2" cy="395.9" r="5.6"/><circle cx="325.1" cy="312.9" r="5.6"/><circle cx="229.0" cy="394.5" r="5.6"/><circle cx="224.2" cy="394.3" r="5.6"/><circle cx="219.0" cy="395.0" r="5.6"/><circle cx="208.9" cy="396.4" r="5.6"/><circle cx="236.4" cy="393.7" r="5.6"/><circle cx="318.6" cy="308.1" r="5.6"/><circle cx="221.5" cy="394.8" r="5.6"/><circle cx="217.4" cy="395.3" r="5.6"/><circle cx="329.4" cy="361.7" r="5.6"/><circle cx="235.7" cy="393.4" r="5.6"/><circle cx="269.7" cy="387.4" r="5.6"/><circle cx="240.4" cy="392.1" r="5.6"/><circle cx="288.4" cy="294.9" r="5.6"/><circle cx="240.5" cy="392.1" r="5.6"/><circle cx="259.8" cy="291.0" r="5.6"/><circle cx="243.8" cy="392.2" r="5.6"/><circle cx="291.7" cy="382.2" r="5.6"/><circle cx="219.4" cy="395.1" r="5.6"/><circle cx="210.0" cy="276.4" r="5.6"/><circle cx="316.8" cy="366.5" r="5.6"/><circle cx="215.3" cy="275.7" r="5.6"/><circle cx="232.6" cy="393.2" r="5.6"/><circle cx="304.2" cy="373.4" r="5.6"/><circle cx="266.4" cy="390.4" r="5.6"/><circle cx="228.9" cy="394.2" r="5.6"/><circle cx="258.9" cy="389.5" r="5.6"/><circle cx="320.5" cy="365.5" r="5.6"/><circle cx="249.4" cy="390.4" r="5.6"/><circle cx="321.2" cy="309.7" r="5.6"/><circle cx="265.8" cy="390.7" r="5.6"/><circle cx="290.8" cy="379.6" r="5.6"/><circle cx="243.4" cy="392.7" r="5.6"/><circle cx="252.3" cy="391.7" r="5.6"/><circle cx="230.9" cy="394.1" r="5.6"/><circle cx="210.9" cy="396.2" r="5.6"/><circle cx="237.3" cy="393.7" r="5.6"/><circle cx="216.3" cy="395.5" r="5.6"/><circle cx="226.7" cy="394.4" r="5.6"/><circle cx="284.2" cy="382.2" r="5.6"/><circle cx="270.0" cy="387.0" r="5.6"/><circle cx="255.4" cy="391.7" r="5.6"/><circle cx="251.2" cy="392.3" r="5.6"/><circle cx="254.4" cy="390.6" r="5.6"/><circle cx="251.8" cy="267.3" r="5.6"/><circle cx="227.6" cy="249.1" r="5.6"/><circle cx="230.2" cy="247.3" r="5.6"/><circle cx="275.5" cy="269.2" r="5.6"/><circle cx="264.7" cy="264.6" r="5.6"/><circle cx="261.4" cy="263.4" r="5.6"/><circle cx="235.3" cy="249.9" r="5.6"/><circle cx="233.7" cy="249.3" r="5.6"/><circle cx="233.9" cy="253.4" r="5.6"/><circle cx="232.3" cy="249.3" r="5.6"/><circle cx="231.0" cy="245.1" r="5.6"/><circle cx="271.6" cy="58.8" r="5.6"/><circle cx="271.9" cy="58.6" r="5.6"/><circle cx="349.0" cy="65.0" r="5.6"/><circle cx="588.4" cy="44.8" r="5.6"/><circle cx="755.0" cy="147.0" r="5.6"/><circle cx="755.0" cy="152.0" r="5.6"/><circle cx="524.4" cy="426.0" r="5.6"/><circle cx="127.5" cy="209.6" r="5.6"/><circle cx="218.0" cy="183.0" r="5.6"/><circle cx="226.0" cy="184.0" r="5.6"/><circle cx="221.0" cy="196.0" r="5.6"/><circle cx="202.0" cy="195.0" r="5.6"/><circle cx="203.0" cy="209.0" r="5.6"/><circle cx="576.0" cy="221.0" r="5.6"/><circle cx="614.5" cy="226.0" r="5.6"/><circle cx="618.0" cy="232.0" r="5.6"/><circle cx="630.0" cy="239.0" r="5.6"/><circle cx="577.0" cy="253.0" r="5.6"/><circle cx="267.0" cy="269.0" r="5.6"/><circle cx="276.0" cy="272.0" r="5.6"/><circle cx="258.0" cy="266.0" r="5.6"/><circle cx="251.0" cy="265.0" r="5.6"/><circle cx="247.0" cy="264.0" r="5.6"/><circle cx="740.4" cy="306.0" r="5.6"/><circle cx="705.7" cy="314.5" r="5.6"/><circle cx="692.7" cy="318.8" r="5.6"/><circle cx="653.6" cy="324.6" r="5.6"/><circle cx="746.0" cy="285.5" r="5.6"/><circle cx="730.0" cy="287.0" r="5.6"/><circle cx="742.3" cy="538.9" r="5.6"/><circle cx="749.6" cy="535.5" r="5.6"/><circle cx="748.7" cy="542.2" r="5.6"/><circle cx="745.0" cy="532.9" r="5.6"/><circle cx="747.7" cy="538.2" r="5.6"/><circle cx="737.2" cy="508.4" r="5.6"/><circle cx="747.2" cy="519.7" r="5.6"/><circle cx="741.2" cy="513.8" r="5.6"/><circle cx="728.9" cy="464.4" r="5.6"/><circle cx="743.3" cy="525.9" r="5.6"/><circle cx="735.7" cy="523.8" r="5.6"/><circle cx="741.0" cy="495.4" r="5.6"/><circle cx="737.4" cy="516.1" r="5.6"/></g>
<g fill="#00f" fill-opacity=".2" stroke="#00f" stroke-opacity=".2" stroke-width="1.5"><circle cx="677.7" cy="240.8" r="5.6"/><circle cx="422.2" cy="143.3" r="5.6"/><circle cx="578.1" cy="346.8" r="5.6"/><circle cx="215.6" cy="124.2" r="5.6"/><circle cx="618.6" cy="273.4" r="5.6"/><circle cx="417.8" cy="119.6" r="5.6"/><circle cx="662.5" cy="503.0" r="5.6"/><circle cx="505.8" cy="134.8" r="5.6"/><circle cx="305.4" cy="80.4" r="5.6"/><circle cx="641.8" cy="374.0" r="5.6"/><circle cx="706.9" cy="507.3" r="5.6"/><circle cx="673.6" cy="434.7" r="5.6"/><circle cx="621.6" cy="409.0" r="5.6"/><circle cx="636.1" cy="397.5" r="5.6"/><circle cx="708.5" cy="160.6" r="5.6"/><circle cx="558.1" cy="317.7" r="5.6"/><circle cx="644.1" cy="454.2" r="5.6"/><circle cx="721.8" cy="445.5" r="5.6"/><circle cx="648.0" cy="385.1" r="5.6"/><circle cx="168.4" cy="149.3" r="5.6"/><circle cx="485.7" cy="125.2" r="5.6"/><circle cx="537.0" cy="294.1" r="5.6"/><circle cx="520.7" cy="178.4" r="5.6"/><circle cx="674.7" cy="209.7" r="5.6"/><circle cx="706.7" cy="515.0" r="5.6"/><circle cx="335.6" cy="96.9" r="5.6"/><circle cx="689.9" cy="234.5" r="5.6"/><circle cx="693.0" cy="267.3" r="5.6"/><circle cx="605.9" cy="101.1" r="5.6"/><circle cx="708.5" cy="445.6" r="5.6"/><circle cx="677.1" cy="123.8" r="5.6"/><circle cx="584.4" cy="376.4" r="5.6"/><circle cx="693.2" cy="201.2" r="5.6"/><circle cx="526.2" cy="159.6" r="5.6"/><circle cx="697.3" cy="209.3" r="5.6"/><circle cx="773.9" cy="185.7" r="5.6"/><circle cx="704.1" cy="442.9" r="5.6"/><circle cx="334.8" cy="113.6" r="5.6"/><circle cx="659.0" cy="128.6" r="5.6"/><circle cx="267.5" cy="123.0" r="5.6"/><circle cx="559.5" cy="388.4" r="5.6"/><circle cx="712.4" cy="513.7" r="5.6"/><circle cx="634.6" cy="398.1" r="5.6"/><circle cx="728.4" cy="518.6" r="5.6"/><circle cx="608.8" cy="213.9" r="5.6"/><circle cx="762.4" cy="210.1" r="5.6"/><circle cx="617.1" cy="105.2" r="5.6"/><circle cx="641.3" cy="453.4" r="5.6"/><circle cx="700.8" cy="467.8" r="5.6"/><circle cx="644.3" cy="188.2" r="5.6"/><circle cx="606.7" cy="182.8" r="5.6"/><circle cx="692.3" cy="511.4" r="5.6"/><circle cx="695.8" cy="239.4" r="5.6"/><circle cx="585.5" cy="68.2" r="5.6"/><circle cx="172.2" cy="240.8" r="5.6"/><circle cx="447.2" cy="130.1" r="5.6"/><circle cx="486.6" cy="139.1" r="5.6"/><circle cx="728.7" cy="498.1" r="5.6"/><circle cx="220.9" cy="118.9" r="5.6"/><circle cx="253.3" cy="171.5" r="5.6"/><circle cx="557.4" cy="348.2" r="5.6"/><circle cx="737.6" cy="208.8" r="5.6"/><circle cx="236.7" cy="156.6" r="5.6"/><circle cx="223.6" cy="103.1" r="5.6"/><circle cx="693.3" cy="484.3" r="5.6"/><circle cx="625.9" cy="413.8" r="5.6"/><circle cx="675.4" cy="276.7" r="5.6"/><circle cx="574.6" cy="169.7" r="5.6"/><circle cx="247.1" cy="171.1" r="5.6"/><circle cx="304.7" cy="79.3" r="5.6"/><circle cx="582.5" cy="128.5" r="5.6"/><circle cx="595.2" cy="290.6" r="5.6"/><circle cx="667.3" cy="450.3" r="5.6"/><circle cx="672.5" cy="406.8" r="5.6"/><circle cx="611.3" cy="446.1" r="5.6"/><circle cx="589.3" cy="401.4" r="5.6"/><circle cx="293.1" cy="159.8" r="5.6"/><circle cx="530.1" cy="354.4" r="5.6"/><circle cx="208.5" cy="162.0" r="5.6"/><circle cx="652.4" cy="165.7" r="5.6"/><circle cx="710.5" cy="484.7" r="5.6"/><circle cx="534.3" cy="394.9" r="5.6"/><circle cx="287.0" cy="141.2" r="5.6"/><circle cx="708.1" cy="128.5" r="5.6"/><circle cx="683.2" cy="402.5" r="5.6"/><circle cx="720.0" cy="217.3" r="5.6"/><circle cx="672.0" cy="180.1" r="5.6"/><circle cx="563.8" cy="419.7" r="5.6"/><circle cx="737.2" cy="264.2" r="5.6"/><circle cx="364.3" cy="89.9" r="5.6"/><circle cx="694.1" cy="458.7" r="5.6"/><circle cx="629.3" cy="392.3" r="5.6"/><circle cx="306.4" cy="165.5" r="5.6"/><circle cx="561.4" cy="376.4" r="5.6"/><circle cx="697.2" cy="422.0" r="5.6"/><circle cx="735.0" cy="178.3" r="5.6"/><circle cx="447.6" cy="132.9" r="5.6"/><circle cx="598.7" cy="374.9" r="5.6"/><circle cx="456.2" cy="162.4" r="5.6"/><circle cx="676.4" cy="499.0" r="5.6"/><circle cx="212.7" cy="117.5" r="5.6"/><circle cx="612.1" cy="283.4" r="5.6"/><circle cx="582.5" cy="406.7" r="5.6"/><circle cx="424.3" cy="111.9" r="5.6"/><circle cx="708.0" cy="213.2" r="5.6"/><circle cx="669.6" cy="496.2" r="5.6"/><circle cx="539.5" cy="356.0" r="5.6"/><circle cx="207.6" cy="172.5" r="5.6"/><circle cx="559.2" cy="293.8" r="5.6"/><circle cx="607.9" cy="129.8" r="5.6"/><circle cx="511.3" cy="309.5" r="5.6"/><circle cx="588.7" cy="287.2" r="5.6"/><circle cx="663.1" cy="435.0" r="5.6"/><circle cx="721.7" cy="191.9" r="5.6"/><circle cx="572.6" cy="110.2" r="5.6"/><circle cx="476.8" cy="92.6" r="5.6"/><circle cx="415.8" cy="93.9" r="5.6"/><circle cx="652.0" cy="396.9" r="5.6"/><circle cx="261.5" cy="131.2" r="5.6"/><circle cx="148.7" cy="208.9" r="5.6"/><circle cx="725.3" cy="207.1" r="5.6"/><circle cx="761.6" cy="257.9" r="5.6"/><circle cx="252.1" cy="118.3" r="5.6"/><circle cx="180.9" cy="186.4" r="5.6"/><circle cx="330.6" cy="85.4" r="5.6"/><circle cx="759.1" cy="230.4" r="5.6"/><circle cx="458.7" cy="92.6" r="5.6"/><circle cx="366.3" cy="95.6" r="5.6"/><circle cx="470.4" cy="159.4" r="5.6"/><circle cx="661.7" cy="241.3" r="5.6"/><circle cx="555.4" cy="369.1" r="5.6"/><circle cx="641.1" cy="475.6" r="5.6"/><circle cx="352.5" cy="110.7" r="5.6"/><circle cx="178.1" cy="226.2" r="5.6"/><circle cx="626.3" cy="365.2" r="5.6"/><circle cx="644.1" cy="166.5" r="5.6"/><circle cx="515.4" cy="325.4" r="5.6"/><circle cx="298.3" cy="101.1" r="5.6"/><circle cx="703.3" cy="523.6" r="5.6"/><circle cx="636.0" cy="110.1" r="5.6"/><circle cx="496.6" cy="121.0" r="5.6"/><circle cx="632.0" cy="405.6" r="5.6"/><circle cx="653.3" cy="242.2" r="5.6"/><circle cx="626.3" cy="198.7" r="5.6"/><circle cx="716.2" cy="259.9" r="5.6"/><circle cx="722.5" cy="166.3" r="5.6"/><circle cx="652.9" cy="275.4" r="5.6"/><circle cx="338.4" cy="132.4" r="5.6"/><circle cx="621.5" cy="357.4" r="5.6"/><circle cx="561.0" cy="118.6" r="5.6"/><circle cx="346.2" cy="101.2" r="5.6"/><circle cx="134.5" cy="217.7" r="5.6"/><circle cx="735.0" cy="190.7" r="5.6"/><circle cx="651.1" cy="413.1" r="5.6"/><circle cx="636.2" cy="477.4" r="5.6"/><circle cx="420.1" cy="80.5" r="5.6"/><circle cx="221.6" cy="264.1" r="5.6"/><circle cx="697.5" cy="267.3" r="5.6"/><circle cx="557.1" cy="117.6" r="5.6"/><circle cx="207.5" cy="158.8" r="5.6"/><circle cx="578.4" cy="270.5" r="5.6"/><circle cx="708.5" cy="449.2" r="5.6"/><circle cx="309.2" cy="168.4" r="5.6"/><circle cx="698.8" cy="477.9" r="5.6"/><circle cx="629.1" cy="418.4" r="5.6"/><circle cx="741.7" cy="161.6" r="5.6"/><circle cx="558.4" cy="157.2" r="5.6"/><circle cx="708.3" cy="417.0" r="5.6"/><circle cx="579.8" cy="91.0" r="5.6"/><circle cx="601.7" cy="415.0" r="5.6"/><circle cx="620.6" cy="473.2" r="5.6"/><circle cx="742.5" cy="264.4" r="5.6"/><circle cx="443.3" cy="57.5" r="5.6"/><circle cx="186.6" cy="152.0" r="5.6"/><circle cx="647.5" cy="457.2" r="5.6"/><circle cx="232.8" cy="140.3" r="5.6"/><circle cx="162.8" cy="203.1" r="5.6"/><circle cx="673.3" cy="423.3" r="5.6"/><circle cx="737.4" cy="513.2" r="5.6"/><circle cx="560.4" cy="388.6" r="5.6"/><circle cx="624.1" cy="321.4" r="5.6"/><circle cx="708.8" cy="420.1" r="5.6"/><circle cx="620.0" cy="478.4" r="5.6"/><circle cx="682.0" cy="394.0" r="5.6"/><circle cx="577.4" cy="300.1" r="5.6"/><circle cx="686.1" cy="168.0" r="5.6"/><circle cx="736.4" cy="219.2" r="5.6"/><circle cx="526.3" cy="97.5" r="5.6"/><circle cx="692.4" cy="389.7" r="5.6"/><circle cx="563.1" cy="98.9" r="5.6"/><circle cx="603.6" cy="109.9" r="5.6"/><circle cx="309.4" cy="158.9" r="5.6"/><circle cx="253.4" cy="101.2" r="5.6"/><circle cx="772.6" cy="200.0" r="5.6"/><circle cx="717.4" cy="486.1" r="5.6"/><circle cx="165.9" cy="192.3" r="5.6"/><circle cx="602.3" cy="302.7" r="5.6"/><circle cx="687.4" cy="168.8" r="5.6"/><circle cx="722.3" cy="272.2" r="5.6"/><circle cx="664.7" cy="375.6" r="5.6"/><circle cx="638.2" cy="206.2" r="5.6"/><circle cx="619.7" cy="356.4" r="5.6"/><circle cx="287.2" cy="103.9" r="5.6"/><circle cx="737.9" cy="176.4" r="5.6"/><circle cx="341.9" cy="117.7" r="5.6"/><circle cx="234.9" cy="151.1" r="5.6"/><circle cx="593.7" cy="87.1" r="5.6"/><circle cx="572.2" cy="261.2" r="5.6"/><circle cx="219.4" cy="161.3" r="5.6"/><circle cx="680.3" cy="527.4" r="5.6"/><circle cx="669.2" cy="232.8" r="5.6"/><circle cx="738.4" cy="176.6" r="5.6"/><circle cx="236.0" cy="94.3" r="5.6"/><circle cx="663.5" cy="381.8" r="5.6"/><circle cx="730.0" cy="406.2" r="5.6"/><circle cx="692.8" cy="150.3" r="5.6"/><circle cx="160.7" cy="169.5" r="5.6"/><circle cx="683.9" cy="149.1" r="5.6"/><circle cx="485.3" cy="103.7" r="5.6"/><circle cx="710.2" cy="258.2" r="5.6"/><circle cx="685.0" cy="457.0" r="5.6"/><circle cx="459.7" cy="110.3" r="5.6"/><circle cx="430.5" cy="68.5" r="5.6"/><circle cx="669.7" cy="144.1" r="5.6"/><circle cx="727.4" cy="145.3" r="5.6"/><circle cx="153.9" cy="245.0" r="5.6"/><circle cx="722.1" cy="466.8" r="5.6"/><circle cx="186.8" cy="145.5" r="5.6"/><circle cx="589.1" cy="290.7" r="5.6"/><circle cx="512.2" cy="95.1" r="5.6"/><circle cx="377.5" cy="86.2" r="5.6"/><circle cx="575.1" cy="193.9" r="5.6"/><circle cx="756.0" cy="260.0" r="5.6"/><circle cx="412.9" cy="68.1" r="5.6"/><circle cx="584.5" cy="310.2" r="5.6"/><circle cx="276.6" cy="102.6" r="5.6"/><circle cx="648.9" cy="405.8" r="5.6"/><circle cx="740.7" cy="252.6" r="5.6"/><circle cx="689.2" cy="155.4" r="5.6"/><circle cx="376.8" cy="126.2" r="5.6"/><circle cx="680.2" cy="242.2" r="5.6"/><circle cx="677.1" cy="388.5" r="5.6"/><circle cx="770.9" cy="217.9" r="5.6"/><circle cx="651.7" cy="427.7" r="5.6"/><circle cx="631.8" cy="361.5" r="5.6"/><circle cx="197.4" cy="134.7" r="5.6"/><circle cx="274.5" cy="89.4" r="5.6"/><circle cx="617.9" cy="385.6" r="5.6"/><circle cx="593.1" cy="177.4" r="5.6"/><circle cx="590.9" cy="287.9" r="5.6"/><circle cx="271.9" cy="100.7" r="5.6"/><circle cx="575.5" cy="368.5" r="5.6"/><circle cx="631.5" cy="202.5" r="5.6"/><circle cx="503.4" cy="126.8" r="5.6"/><circle cx="565.6" cy="410.5" r="5.6"/><circle cx="638.0" cy="138.0" r="5.6"/><circle cx="205.0" cy="126.7" r="5.6"/><circle cx="633.4" cy="407.8" r="5.6"/><circle cx="403.9" cy="139.8" r="5.6"/><circle cx="609.0" cy="358.3" r="5.6"/><circle cx="654.8" cy="461.7" r="5.6"/><circle cx="237.4" cy="110.0" r="5.6"/><circle cx="554.0" cy="107.6" r="5.6"/><circle cx="490.0" cy="56.5" r="5.6"/><circle cx="557.2" cy="303.1" r="5.6"/><circle cx="554.4" cy="348.3" r="5.6"/><circle cx="572.1" cy="328.3" r="5.6"/><circle cx="665.3" cy="365.5" r="5.6"/><circle cx="260.5" cy="145.3" r="5.6"/><circle cx="747.7" cy="204.5" r="5.6"/><circle cx="356.4" cy="99.0" r="5.6"/><circle cx="598.0" cy="77.8" r="5.6"/><circle cx="681.8" cy="141.7" r="5.6"/><circle cx="695.8" cy="482.1" r="5.6"/><circle cx="572.2" cy="198.3" r="5.6"/><circle cx="758.3" cy="204.3" r="5.6"/><circle cx="602.2" cy="195.3" r="5.6"/><circle cx="565.4" cy="393.3" r="5.6"/><circle cx="547.3" cy="346.2" r="5.6"/><circle cx="766.5" cy="238.0" r="5.6"/><circle cx="460.2" cy="160.2" r="5.6"/><circle cx="568.3" cy="295.8" r="5.6"/><circle cx="762.9" cy="251.5" r="5.6"/><circle cx="531.2" cy="101.2" r="5.6"/><circle cx="596.2" cy="174.0" r="5.6"/><circle cx="573.6" cy="278.4" r="5.6"/><circle cx="663.0" cy="513.1" r="5.6"/><circle cx="481.5" cy="127.7" r="5.6"/><circle cx="748.7" cy="231.0" r="5.6"/><circle cx="617.0" cy="176.5" r="5.6"/><circle cx="707.7" cy="149.4" r="5.6"/><circle cx="559.7" cy="138.5" r="5.6"/><circle cx="542.6" cy="293.7" r="5.6"/><circle cx="365.9" cy="122.7" r="5.6"/><circle cx="637.1" cy="458.1" r="5.6"/><circle cx="510.2" cy="374.5" r="5.6"/><circle cx="502.0" cy="139.7" r="5.6"/><circle cx="479.9" cy="52.2" r="5.6"/><circle cx="715.6" cy="501.0" r="5.6"/><circle cx="751.1" cy="164.6" r="5.6"/><circle cx="337.2" cy="91.9" r="5.6"/><circle cx="214.9" cy="139.4" r="5.6"/><circle cx="160.5" cy="235.4" r="5.6"/><circle cx="684.6" cy="511.6" r="5.6"/><circle cx="657.6" cy="291.9" r="5.6"/><circle cx="702.4" cy="469.1" r="5.6"/><circle cx="678.0" cy="498.7" r="5.6"/><circle cx="363.8" cy="122.2" r="5.6"/><circle cx="610.3" cy="321.2" r="5.6"/><circle cx="667.3" cy="215.3" r="5.6"/><circle cx="176.2" cy="225.1" r="5.6"/><circle cx="730.1" cy="517.8" r="5.6"/><circle cx="625.8" cy="92.2" r="5.6"/><circle cx="617.8" cy="206.4" r="5.6"/><circle cx="553.1" cy="290.1" r="5.6"/><circle cx="152.1" cy="194.9" r="5.6"/><circle cx="708.7" cy="224.9" r="5.6"/><circle cx="671.2" cy="254.1" r="5.6"/><circle cx="622.0" cy="99.3" r="5.6"/><circle cx="579.9" cy="394.3" r="5.6"/><circle cx="538.5" cy="344.2" r="5.6"/><circle cx="228.4" cy="87.8" r="5.6"/><circle cx="730.8" cy="455.7" r="5.6"/><circle cx="632.2" cy="376.9" r="5.6"/><circle cx="511.2" cy="34.5" r="5.6"/><circle cx="608.5" cy="280.3" r="5.6"/><circle cx="539.3" cy="294.1" r="5.6"/><circle cx="660.2" cy="166.5" r="5.6"/><circle cx="587.3" cy="410.0" r="5.6"/><circle cx="158.7" cy="248.7" r="5.6"/><circle cx="190.2" cy="185.9" r="5.6"/><circle cx="522.5" cy="69.0" r="5.6"/><circle cx="178.3" cy="255.3" r="5.6"/><circle cx="731.6" cy="281.4" r="5.6"/><circle cx="656.3" cy="295.5" r="5.6"/><circle cx="569.9" cy="125.4" r="5.6"/><circle cx="626.5" cy="343.3" r="5.6"/><circle cx="727.2" cy="485.7" r="5.6"/><circle cx="628.5" cy="129.0" r="5.6"/><circle cx="441.9" cy="162.1" r="5.6"/><circle cx="680.9" cy="403.8" r="5.6"/><circle cx="667.7" cy="483.5" r="5.6"/><circle cx="638.1" cy="418.8" r="5.6"/><circle cx="722.2" cy="215.4" r="5.6"/><circle cx="559.4" cy="80.2" r="5.6"/><circle cx="619.4" cy="125.3" r="5.6"/><circle cx="586.1" cy="57.6" r="5.6"/><circle cx="683.8" cy="166.6" r="5.6"/><circle cx="628.4" cy="398.2" r="5.6"/><circle cx="738.6" cy="182.5" r="5.6"/><circle cx="448.5" cy="132.8" r="5.6"/><circle cx="545.5" cy="389.6" r="5.6"/><circle cx="561.8" cy="371.6" r="5.6"/><circle cx="776.2" cy="205.4" r="5.6"/><circle cx="477.5" cy="45.6" r="5.6"/><circle cx="732.7" cy="453.8" r="5.6"/><circle cx="653.4" cy="146.5" r="5.6"/><circle cx="415.3" cy="136.2" r="5.6"/><circle cx="712.5" cy="485.9" r="5.6"/><circle cx="603.6" cy="311.3" r="5.6"/><circle cx="144.7" cy="202.5" r="5.6"/><circle cx="534.4" cy="373.9" r="5.6"/><circle cx="624.1" cy="318.9" r="5.6"/><circle cx="384.9" cy="99.3" r="5.6"/><circle cx="584.8" cy="146.8" r="5.6"/><circle cx="663.5" cy="198.6" r="5.6"/><circle cx="572.3" cy="431.4" r="5.6"/><circle cx="589.5" cy="150.6" r="5.6"/><circle cx="573.4" cy="426.4" r="5.6"/><circle cx="705.9" cy="293.4" r="5.6"/><circle cx="749.7" cy="494.0" r="5.6"/><circle cx="734.4" cy="543.0" r="5.6"/><circle cx="711.0" cy="150.7" r="5.6"/><circle cx="684.4" cy="289.4" r="5.6"/><circle cx="716.2" cy="438.5" r="5.6"/><circle cx="290.6" cy="126.9" r="5.6"/><circle cx="535.6" cy="65.6" r="5.6"/><circle cx="700.0" cy="381.8" r="5.6"/><circle cx="561.2" cy="90.3" r="5.6"/><circle cx="628.9" cy="198.2" r="5.6"/><circle cx="533.2" cy="403.0" r="5.6"/><circle cx="271.8" cy="87.3" r="5.6"/><circle cx="422.8" cy="45.9" r="5.6"/><circle cx="459.4" cy="140.1" r="5.6"/><circle cx="221.4" cy="239.5" r="5.6"/><circle cx="765.8" cy="219.0" r="5.6"/><circle cx="720.3" cy="180.8" r="5.6"/><circle cx="690.2" cy="199.4" r="5.6"/><circle cx="592.6" cy="321.2" r="5.6"/><circle cx="692.6" cy="274.0" r="5.6"/><circle cx="727.3" cy="465.9" r="5.6"/><circle cx="711.4" cy="166.6" r="5.6"/><circle cx="657.6" cy="213.9" r="5.6"/><circle cx="417.8" cy="91.4" r="5.6"/><circle cx="496.5" cy="85.6" r="5.6"/><circle cx="630.2" cy="372.1" r="5.6"/><circle cx="547.7" cy="312.4" r="5.6"/><circle cx="540.8" cy="103.7" r="5.6"/><circle cx="668.0" cy="140.1" r="5.6"/><circle cx="616.3" cy="102.9" r="5.6"/><circle cx="234.4" cy="85.2" r="5.6"/><circle cx="649.2" cy="425.6" r="5.6"/><circle cx="416.9" cy="133.1" r="5.6"/><circle cx="557.2" cy="348.1" r="5.6"/><circle cx="371.3" cy="140.0" r="5.6"/><circle cx="241.3" cy="143.0" r="5.6"/><circle cx="344.9" cy="85.0" r="5.6"/><circle cx="687.2" cy="452.2" r="5.6"/><circle cx="202.1" cy="113.1" r="5.6"/><circle cx="298.1" cy="89.6" r="5.6"/><circle cx="656.1" cy="513.8" r="5.6"/><circle cx="640.1" cy="167.9" r="5.6"/><circle cx="156.9" cy="172.3" r="5.6"/><circle cx="461.1" cy="145.0" r="5.6"/><circle cx="685.6" cy="430.4" r="5.6"/><circle cx="578.3" cy="302.7" r="5.6"/><circle cx="659.8" cy="223.0" r="5.6"/><circle cx="710.9" cy="484.4" r="5.6"/><circle cx="411.2" cy="120.7" r="5.6"/><circle cx="590.8" cy="190.4" r="5.6"/><circle cx="558.3" cy="66.8" r="5.6"/><circle cx="725.7" cy="217.4" r="5.6"/><circle cx="633.8" cy="89.8" r="5.6"/><circle cx="609.2" cy="380.2" r="5.6"/><circle cx="514.3" cy="334.5" r="5.6"/><circle cx="765.4" cy="220.6" r="5.6"/><circle cx="462.2" cy="84.1" r="5.6"/><circle cx="564.8" cy="389.6" r="5.6"/><circle cx="669.6" cy="378.7" r="5.6"/><circle cx="732.3" cy="182.8" r="5.6"/><circle cx="187.6" cy="141.8" r="5.6"/><circle cx="544.6" cy="163.8" r="5.6"/><circle cx="644.7" cy="297.4" r="5.6"/><circle cx="179.8" cy="233.3" r="5.6"/><circle cx="614.5" cy="184.3" r="5.6"/><circle cx="636.6" cy="144.6" r="5.6"/><circle cx="431.0" cy="40.0" r="5.6"/><circle cx="532.8" cy="188.8" r="5.6"/><circle cx="267.5" cy="128.4" r="5.6"/><circle cx="444.6" cy="164.8" r="5.6"/><circle cx="177.0" cy="255.1" r="5.6"/><circle cx="707.3" cy="156.3" r="5.6"/><circle cx="514.8" cy="387.4" r="5.6"/><circle cx="281.9" cy="156.0" r="5.6"/><circle cx="410.8" cy="155.7" r="5.6"/><circle cx="551.3" cy="326.8" r="5.6"/><circle cx="695.7" cy="415.1" r="5.6"/><circle cx="577.6" cy="403.0" r="5.6"/><circle cx="693.9" cy="481.9" r="5.6"/><circle cx="529.2" cy="318.4" r="5.6"/><circle cx="679.3" cy="213.6" r="5.6"/><circle cx="463.1" cy="117.7" r="5.6"/><circle cx="566.0" cy="421.5" r="5.6"/><circle cx="506.1" cy="39.6" r="5.6"/><circle cx="546.8" cy="325.9" r="5.6"/><circle cx="215.2" cy="155.4" r="5.6"/><circle cx="591.2" cy="76.5" r="5.6"/><circle cx="417.4" cy="117.7" r="5.6"/><circle cx="324.7" cy="147.8" r="5.6"/><circle cx="420.4" cy="150.7" r="5.6"/><circle cx="571.1" cy="290.5" r="5.6"/><circle cx="672.3" cy="433.2" r="5.6"/><circle cx="710.3" cy="163.3" r="5.6"/><circle cx="208.6" cy="126.0" r="5.6"/><circle cx="372.3" cy="103.4" r="5.6"/><circle cx="719.5" cy="437.5" r="5.6"/><circle cx="582.5" cy="412.6" r="5.6"/><circle cx="592.3" cy="279.8" r="5.6"/><circle cx="525.0" cy="89.3" r="5.6"/><circle cx="608.8" cy="107.1" r="5.6"/><circle cx="616.5" cy="84.4" r="5.6"/><circle cx="626.7" cy="191.9" r="5.6"/><circle cx="753.9" cy="207.4" r="5.6"/><circle cx="678.4" cy="408.2" r="5.6"/><circle cx="155.4" cy="214.3" r="5.6"/><circle cx="630.4" cy="457.6" r="5.6"/><circle cx="289.4" cy="180.0" r="5.6"/><circle cx="386.0" cy="125.3" r="5.6"/><circle cx="620.5" cy="83.2" r="5.6"/><circle cx="716.4" cy="508.1" r="5.6"/><circle cx="726.4" cy="521.2" r="5.6"/><circle cx="336.6" cy="122.2" r="5.6"/><circle cx="563.6" cy="353.1" r="5.6"/><circle cx="710.4" cy="234.1" r="5.6"/><circle cx="508.8" cy="93.5" r="5.6"/><circle cx="702.1" cy="472.6" r="5.6"/><circle cx="624.8" cy="142.7" r="5.6"/><circle cx="457.9" cy="87.4" r="5.6"/><circle cx="729.2" cy="509.7" r="5.6"/><circle cx="539.0" cy="303.0" r="5.6"/><circle cx="265.3" cy="103.9" r="5.6"/><circle cx="497.3" cy="56.2" r="5.6"/><circle cx="303.1" cy="160.6" r="5.6"/><circle cx="554.2" cy="348.6" r="5.6"/><circle cx="661.9" cy="234.0" r="5.6"/><circle cx="261.6" cy="153.1" r="5.6"/><circle cx="596.7" cy="462.6" r="5.6"/><circle cx="585.4" cy="282.3" r="5.6"/><circle cx="712.0" cy="461.5" r="5.6"/><circle cx="677.7" cy="288.5" r="5.6"/><circle cx="400.5" cy="128.3" r="5.6"/><circle cx="318.7" cy="151.5" r="5.6"/><circle cx="182.1" cy="136.3" r="5.6"/><circle cx="618.0" cy="349.9" r="5.6"/><circle cx="637.0" cy="479.8" r="5.6"/><circle cx="626.3" cy="356.0" r="5.6"/><circle cx="621.4" cy="155.8" r="5.6"/><circle cx="508.7" cy="364.1" r="5.6"/><circle cx="587.8" cy="341.2" r="5.6"/><circle cx="529.0" cy="344.9" r="5.6"/><circle cx="707.7" cy="278.4" r="5.6"/><circle cx="402.1" cy="84.5" r="5.6"/><circle cx="201.6" cy="163.8" r="5.6"/><circle cx="551.1" cy="317.6" r="5.6"/><circle cx="307.4" cy="149.3" r="5.6"/><circle cx="539.7" cy="343.8" r="5.6"/><circle cx="744.0" cy="209.0" r="5.6"/><circle cx="695.0" cy="121.8" r="5.6"/><circle cx="643.5" cy="407.0" r="5.6"/><circle cx="703.9" cy="254.5" r="5.6"/><circle cx="159.4" cy="244.0" r="5.6"/><circle cx="423.6" cy="76.8" r="5.6"/><circle cx="551.5" cy="166.3" r="5.6"/><circle cx="532.2" cy="339.7" r="5.6"/><circle cx="256.5" cy="155.8" r="5.6"/><circle cx="694.7" cy="275.4" r="5.6"/><circle cx="698.8" cy="199.7" r="5.6"/><circle cx="646.4" cy="125.5" r="5.6"/><circle cx="568.1" cy="109.3" r="5.6"/><circle cx="692.7" cy="394.7" r="5.6"/><circle cx="758.9" cy="228.7" r="5.6"/><circle cx="648.1" cy="414.6" r="5.6"/><circle cx="408.0" cy="110.2" r="5.6"/><circle cx="550.1" cy="146.0" r="5.6"/><circle cx="599.5" cy="77.8" r="5.6"/><circle cx="287.4" cy="177.7" r="5.6"/><circle cx="172.4" cy="252.1" r="5.6"/><circle cx="188.6" cy="140.4" r="5.6"/><circle cx="608.0" cy="424.8" r="5.6"/><circle cx="277.0" cy="102.7" r="5.6"/><circle cx="720.5" cy="409.4" r="5.6"/><circle cx="689.0" cy="209.1" r="5.6"/><circle cx="561.8" cy="304.0" r="5.6"/><circle cx="370.1" cy="132.8" r="5.6"/><circle cx="703.0" cy="402.1" r="5.6"/><circle cx="410.6" cy="140.9" r="5.6"/><circle cx="480.7" cy="115.4" r="5.6"/><circle cx="753.4" cy="509.5" r="5.6"/><circle cx="343.3" cy="119.9" r="5.6"/><circle cx="376.0" cy="91.7" r="5.6"/><circle cx="508.2" cy="69.5" r="5.6"/><circle cx="216.3" cy="115.8" r="5.6"/><circle cx="697.9" cy="151.8" r="5.6"/><circle cx="225.7" cy="88.9" r="5.6"/><circle cx="663.8" cy="251.5" r="5.6"/><circle cx="722.3" cy="518.4" r="5.6"/><circle cx="284.6" cy="102.4" r="5.6"/><circle cx="613.0" cy="104.4" r="5.6"/><circle cx="749.8" cy="495.8" r="5.6"/><circle cx="389.6" cy="135.4" r="5.6"/><circle cx="662.7" cy="414.9" r="5.6"/><circle cx="194.3" cy="187.5" r="5.6"/><circle cx="440.0" cy="107.3" r="5.6"/><circle cx="540.2" cy="399.1" r="5.6"/><circle cx="640.8" cy="388.9" r="5.6"/><circle cx="503.9" cy="73.9" r="5.6"/><circle cx="171.7" cy="229.7" r="5.6"/><circle cx="697.9" cy="403.4" r="5.6"/><circle cx="348.8" cy="75.6" r="5.6"/><circle cx="241.9" cy="156.1" r="5.6"/><circle cx="198.8" cy="229.6" r="5.6"/><circle cx="421.8" cy="88.1" r="5.6"/><circle cx="720.4" cy="537.9" r="5.6"/><circle cx="510.4" cy="55.4" r="5.6"/><circle cx="172.4" cy="189.8" r="5.6"/><circle cx="583.4" cy="325.1" r="5.6"/><circle cx="159.7" cy="245.0" r="5.6"/><circle cx="604.7" cy="422.7" r="5.6"/><circle cx="625.1" cy="150.0" r="5.6"/><circle cx="162.9" cy="245.7" r="5.6"/><circle cx="735.3" cy="176.4" r="5.6"/><circle cx="594.8" cy="451.0" r="5.6"/><circle cx="569.2" cy="428.3" r="5.6"/><circle cx="402.7" cy="72.8" r="5.6"/><circle cx="718.6" cy="519.9" r="5.6"/><circle cx="229.8" cy="92.9" r="5.6"/><circle cx="524.0" cy="151.5" r="5.6"/><circle cx="591.2" cy="357.9" r="5.6"/><circle cx="635.5" cy="394.9" r="5.6"/><circle cx="568.9" cy="130.8" r="5.6"/><circle cx="683.4" cy="275.0" r="5.6"/><circle cx="330.1" cy="148.8" r="5.6"/><circle cx="432.3" cy="152.8" r="5.6"/><circle cx="640.5" cy="379.1" r="5.6"/><circle cx="744.0" cy="260.0" r="5.6"/><circle cx="719.0" cy="519.0" r="5.6"/><circle cx="568.8" cy="353.5" r="5.6"/><circle cx="702.1" cy="414.5" r="5.6"/><circle cx="500.2" cy="106.3" r="5.6"/><circle cx="519.8" cy="372.2" r="5.6"/><circle cx="619.8" cy="389.9" r="5.6"/><circle cx="709.1" cy="280.0" r="5.6"/><circle cx="567.0" cy="394.4" r="5.6"/><circle cx="672.6" cy="140.1" r="5.6"/><circle cx="229.5" cy="170.5" r="5.6"/><circle cx="311.5" cy="139.5" r="5.6"/><circle cx="546.1" cy="310.5" r="5.6"/><circle cx="608.8" cy="464.1" r="5.6"/><circle cx="546.1" cy="306.6" r="5.6"/><circle cx="738.1" cy="205.9" r="5.6"/><circle cx="494.5" cy="149.6" r="5.6"/><circle cx="167.4" cy="229.7" r="5.6"/><circle cx="734.7" cy="224.0" r="5.6"/><circle cx="345.9" cy="82.7" r="5.6"/><circle cx="696.4" cy="117.1" r="5.6"/><circle cx="665.8" cy="405.7" r="5.6"/><circle cx="259.8" cy="173.7" r="5.6"/><circle cx="586.6" cy="314.3" r="5.6"/><circle cx="188.0" cy="119.5" r="5.6"/><circle cx="636.6" cy="253.8" r="5.6"/><circle cx="746.6" cy="551.3" r="5.6"/><circle cx="448.5" cy="130.1" r="5.6"/><circle cx="588.0" cy="425.1" r="5.6"/><circle cx="732.7" cy="538.8" r="5.6"/><circle cx="639.1" cy="158.7" r="5.6"/><circle cx="600.1" cy="91.7" r="5.6"/><circle cx="620.4" cy="168.8" r="5.6"/><circle cx="275.5" cy="82.6" r="5.6"/><circle cx="193.3" cy="216.9" r="5.6"/><circle cx="664.5" cy="274.7" r="5.6"/><circle cx="203.0" cy="176.6" r="5.6"/><circle cx="713.9" cy="490.8" r="5.6"/><circle cx="689.5" cy="137.0" r="5.6"/><circle cx="682.0" cy="482.5" r="5.6"/><circle cx="767.1" cy="227.5" r="5.6"/><circle cx="582.9" cy="310.7" r="5.6"/><circle cx="319.2" cy="93.6" r="5.6"/><circle cx="420.3" cy="144.5" r="5.6"/><circle cx="717.6" cy="457.0" r="5.6"/><circle cx="704.4" cy="209.9" r="5.6"/><circle cx="494.9" cy="52.8" r="5.6"/><circle cx="739.2" cy="217.7" r="5.6"/><circle cx="733.2" cy="479.6" r="5.6"/><circle cx="521.4" cy="80.1" r="5.6"/><circle cx="618.8" cy="129.9" r="5.6"/><circle cx="544.8" cy="55.5" r="5.6"/><circle cx="423.6" cy="142.1" r="5.6"/><circle cx="688.0" cy="284.5" r="5.6"/><circle cx="139.3" cy="222.2" r="5.6"/><circle cx="612.5" cy="84.7" r="5.6"/><circle cx="515.7" cy="136.6" r="5.6"/><circle cx="686.2" cy="135.5" r="5.6"/><circle cx="689.7" cy="407.7" r="5.6"/><circle cx="599.2" cy="444.8" r="5.6"/><circle cx="645.2" cy="434.2" r="5.6"/><circle cx="631.6" cy="464.9" r="5.6"/><circle cx="284.4" cy="166.6" r="5.6"/><circle cx="669.8" cy="232.9" r="5.6"/><circle cx="562.2" cy="302.2" r="5.6"/><circle cx="622.0" cy="159.8" r="5.6"/><circle cx="592.9" cy="379.5" r="5.6"/><circle cx="641.1" cy="390.6" r="5.6"/><circle cx="652.8" cy="468.9" r="5.6"/><circle cx="337.2" cy="127.5" r="5.6"/><circle cx="411.7" cy="55.1" r="5.6"/><circle cx="714.9" cy="214.6" r="5.6"/><circle cx="329.8" cy="153.8" r="5.6"/><circle cx="215.9" cy="97.7" r="5.6"/><circle cx="520.8" cy="143.6" r="5.6"/><circle cx="652.3" cy="105.0" r="5.6"/><circle cx="565.7" cy="403.9" r="5.6"/><circle cx="664.3" cy="505.4" r="5.6"/><circle cx="679.5" cy="124.3" r="5.6"/><circle cx="620.3" cy="298.2" r="5.6"/><circle cx="716.9" cy="232.9" r="5.6"/><circle cx="218.5" cy="96.5" r="5.6"/><circle cx="284.1" cy="87.5" r="5.6"/><circle cx="731.3" cy="192.5" r="5.6"/><circle cx="390.4" cy="95.9" r="5.6"/><circle cx="634.8" cy="246.2" r="5.6"/><circle cx="619.7" cy="382.1" r="5.6"/><circle cx="730.5" cy="221.6" r="5.6"/><circle cx="681.0" cy="125.5" r="5.6"/><circle cx="728.6" cy="217.1" r="5.6"/><circle cx="320.3" cy="165.8" r="5.6"/><circle cx="609.9" cy="213.9" r="5.6"/><circle cx="572.5" cy="123.6" r="5.6"/><circle cx="601.2" cy="453.8" r="5.6"/><circle cx="312.8" cy="114.9" r="5.6"/><circle cx="693.3" cy="256.4" r="5.6"/><circle cx="662.4" cy="235.2" r="5.6"/><circle cx="695.6" cy="402.7" r="5.6"/><circle cx="361.5" cy="117.0" r="5.6"/><circle cx="530.5" cy="99.7" r="5.6"/><circle cx="579.7" cy="367.1" r="5.6"/><circle cx="740.1" cy="205.7" r="5.6"/><circle cx="248.4" cy="96.2" r="5.6"/><circle cx="554.6" cy="348.2" r="5.6"/><circle cx="388.4" cy="107.6" r="5.6"/><circle cx="676.0" cy="444.5" r="5.6"/><circle cx="309.1" cy="103.5" r="5.6"/><circle cx="698.8" cy="167.8" r="5.6"/><circle cx="173.3" cy="156.6" r="5.6"/><circle cx="605.9" cy="105.0" r="5.6"/><circle cx="641.7" cy="211.1" r="5.6"/><circle cx="520.6" cy="372.0" r="5.6"/><circle cx="547.0" cy="326.8" r="5.6"/><circle cx="726.8" cy="147.7" r="5.6"/><circle cx="484.0" cy="152.5" r="5.6"/><circle cx="592.6" cy="302.1" r="5.6"/><circle cx="565.8" cy="380.6" r="5.6"/><circle cx="606.1" cy="98.9" r="5.6"/><circle cx="507.8" cy="107.2" r="5.6"/><circle cx="564.2" cy="433.7" r="5.6"/><circle cx="678.9" cy="136.0" r="5.6"/><circle cx="647.4" cy="431.4" r="5.6"/><circle cx="191.0" cy="157.4" r="5.6"/><circle cx="609.4" cy="128.5" r="5.6"/><circle cx="427.9" cy="95.5" r="5.6"/><circle cx="746.1" cy="267.8" r="5.6"/><circle cx="534.7" cy="170.7" r="5.6"/><circle cx="495.1" cy="137.6" r="5.6"/><circle cx="674.4" cy="274.1" r="5.6"/><circle cx="554.4" cy="80.8" r="5.6"/><circle cx="590.7" cy="416.8" r="5.6"/><circle cx="605.9" cy="299.1" r="5.6"/><circle cx="659.1" cy="297.5" r="5.6"/><circle cx="640.8" cy="377.9" r="5.6"/><circle cx="612.4" cy="147.8" r="5.6"/><circle cx="588.0" cy="94.6" r="5.6"/><circle cx="179.2" cy="171.0" r="5.6"/><circle cx="546.3" cy="355.3" r="5.6"/><circle cx="710.0" cy="155.8" r="5.6"/><circle cx="530.9" cy="312.5" r="5.6"/><circle cx="466.1" cy="94.7" r="5.6"/><circle cx="160.5" cy="178.8" r="5.6"/><circle cx="631.4" cy="451.8" r="5.6"/><circle cx="616.7" cy="448.0" r="5.6"/><circle cx="543.7" cy="335.5" r="5.6"/><circle cx="252.1" cy="123.7" r="5.6"/><circle cx="751.0" cy="220.0" r="5.6"/><circle cx="704.8" cy="174.2" r="5.6"/><circle cx="525.4" cy="391.3" r="5.6"/><circle cx="595.7" cy="297.5" r="5.6"/><circle cx="461.9" cy="43.4" r="5.6"/><circle cx="625.2" cy="329.6" r="5.6"/><circle cx="776.6" cy="238.4" r="5.6"/><circle cx="604.5" cy="460.7" r="5.6"/><circle cx="740.9" cy="497.9" r="5.6"/><circle cx="671.8" cy="247.6" r="5.6"/><circle cx="257.9" cy="122.7" r="5.6"/><circle cx="379.0" cy="107.7" r="5.6"/><circle cx="535.1" cy="386.6" r="5.6"/><circle cx="333.2" cy="150.7" r="5.6"/><circle cx="681.4" cy="374.8" r="5.6"/><circle cx="729.1" cy="510.4" r="5.6"/><circle cx="593.7" cy="376.6" r="5.6"/><circle cx="691.4" cy="469.9" r="5.6"/><circle cx="426.3" cy="121.2" r="5.6"/><circle cx="270.4" cy="172.8" r="5.6"/><circle cx="607.0" cy="326.7" r="5.6"/><circle cx="747.5" cy="540.8" r="5.6"/><circle cx="496.3" cy="124.2" r="5.6"/><circle cx="436.5" cy="146.7" r="5.6"/><circle cx="692.8" cy="236.6" r="5.6"/><circle cx="637.0" cy="292.4" r="5.6"/><circle cx="544.6" cy="307.4" r="5.6"/><circle cx="569.0" cy="182.7" r="5.6"/><circle cx="701.6" cy="464.1" r="5.6"/><circle cx="741.8" cy="506.1" r="5.6"/><circle cx="206.6" cy="102.2" r="5.6"/><circle cx="647.7" cy="464.2" r="5.6"/><circle cx="306.7" cy="161.1" r="5.6"/><circle cx="439.5" cy="137.4" r="5.6"/><circle cx="270.6" cy="144.9" r="5.6"/><circle cx="714.5" cy="243.5" r="5.6"/><circle cx="535.2" cy="353.3" r="5.6"/><circle cx="723.9" cy="523.7" r="5.6"/><circle cx="203.3" cy="229.4" r="5.6"/><circle cx="585.2" cy="173.0" r="5.6"/><circle cx="584.6" cy="133.4" r="5.6"/><circle cx="616.1" cy="117.3" r="5.6"/><circle cx="516.6" cy="38.1" r="5.6"/><circle cx="651.8" cy="364.5" r="5.6"/><circle cx="591.5" cy="391.0" r="5.6"/><circle cx="743.9" cy="478.9" r="5.6"/><circle cx="213.2" cy="122.4" r="5.6"/><circle cx="209.7" cy="178.9" r="5.6"/><circle cx="430.5" cy="127.0" r="5.6"/><circle cx="426.4" cy="118.8" r="5.6"/><circle cx="734.1" cy="476.3" r="5.6"/><circle cx="484.0" cy="114.3" r="5.6"/><circle cx="565.9" cy="75.0" r="5.6"/><circle cx="292.8" cy="127.0" r="5.6"/><circle cx="733.4" cy="520.8" r="5.6"/><circle cx="686.4" cy="228.8" r="5.6"/><circle cx="163.9" cy="259.7" r="5.6"/><circle cx="684.7" cy="210.8" r="5.6"/><circle cx="320.2" cy="171.6" r="5.6"/><circle cx="407.4" cy="93.3" r="5.6"/><circle cx="211.4" cy="115.5" r="5.6"/><circle cx="599.0" cy="80.9" r="5.6"/><circle cx="436.7" cy="94.5" r="5.6"/><circle cx="490.1" cy="95.0" r="5.6"/><circle cx="538.8" cy="303.3" r="5.6"/><circle cx="623.3" cy="347.7" r="5.6"/><circle cx="624.2" cy="354.9" r="5.6"/><circle cx="566.2" cy="327.3" r="5.6"/><circle cx="338.8" cy="108.3" r="5.6"/><circle cx="460.8" cy="108.0" r="5.6"/><circle cx="586.1" cy="350.2" r="5.6"/><circle cx="612.5" cy="376.5" r="5.6"/><circle cx="168.2" cy="134.9" r="5.6"/><circle cx="575.8" cy="406.5" r="5.6"/><circle cx="409.0" cy="124.5" r="5.6"/><circle cx="456.4" cy="66.9" r="5.6"/><circle cx="656.6" cy="227.7" r="5.6"/><circle cx="682.8" cy="459.4" r="5.6"/><circle cx="598.3" cy="320.9" r="5.6"/><circle cx="577.1" cy="135.2" r="5.6"/><circle cx="587.1" cy="163.4" r="5.6"/><circle cx="497.5" cy="356.0" r="5.6"/><circle cx="344.3" cy="159.1" r="5.6"/><circle cx="170.2" cy="216.8" r="5.6"/><circle cx="453.3" cy="45.6" r="5.6"/><circle cx="691.9" cy="208.7" r="5.6"/><circle cx="693.7" cy="480.2" r="5.6"/><circle cx="474.8" cy="118.4" r="5.6"/><circle cx="651.7" cy="439.6" r="5.6"/><circle cx="231.8" cy="119.6" r="5.6"/><circle cx="559.5" cy="73.5" r="5.6"/><circle cx="573.3" cy="88.1" r="5.6"/><circle cx="450.9" cy="46.5" r="5.6"/><circle cx="525.4" cy="100.5" r="5.6"/><circle cx="394.1" cy="105.5" r="5.6"/><circle cx="389.7" cy="157.8" r="5.6"/><circle cx="573.9" cy="332.7" r="5.6"/><circle cx="179.7" cy="173.0" r="5.6"/><circle cx="662.5" cy="398.1" r="5.6"/><circle cx="565.9" cy="419.1" r="5.6"/><circle cx="518.3" cy="60.2" r="5.6"/><circle cx="265.3" cy="108.1" r="5.6"/><circle cx="523.3" cy="145.0" r="5.6"/><circle cx="281.3" cy="149.5" r="5.6"/><circle cx="254.7" cy="94.6" r="5.6"/><circle cx="579.7" cy="301.3" r="5.6"/><circle cx="534.8" cy="289.8" r="5.6"/><circle cx="580.8" cy="144.8" r="5.6"/><circle cx="305.4" cy="157.5" r="5.6"/><circle cx="185.0" cy="162.3" r="5.6"/><circle cx="690.4" cy="509.4" r="5.6"/><circle cx="251.8" cy="128.9" r="5.6"/><circle cx="486.2" cy="162.2" r="5.6"/><circle cx="159.3" cy="161.8" r="5.6"/><circle cx="705.4" cy="268.0" r="5.6"/><circle cx="363.6" cy="77.9" r="5.6"/><circle cx="604.5" cy="380.2" r="5.6"/><circle cx="654.2" cy="189.6" r="5.6"/><circle cx="431.6" cy="110.4" r="5.6"/><circle cx="715.0" cy="205.2" r="5.6"/><circle cx="600.5" cy="158.0" r="5.6"/><circle cx="646.8" cy="170.8" r="5.6"/><circle cx="179.7" cy="181.3" r="5.6"/><circle cx="146.4" cy="215.8" r="5.6"/><circle cx="580.4" cy="151.9" r="5.6"/><circle cx="156.0" cy="237.1" r="5.6"/><circle cx="675.3" cy="371.7" r="5.6"/><circle cx="526.5" cy="70.8" r="5.6"/><circle cx="504.2" cy="96.9" r="5.6"/><circle cx="333.7" cy="113.6" r="5.6"/><circle cx="502.4" cy="350.4" r="5.6"/><circle cx="683.0" cy="372.0" r="5.6"/><circle cx="643.7" cy="418.1" r="5.6"/><circle cx="194.8" cy="178.8" r="5.6"/><circle cx="177.1" cy="139.4" r="5.6"/><circle cx="464.8" cy="45.4" r="5.6"/><circle cx="599.8" cy="395.0" r="5.6"/><circle cx="731.1" cy="257.2" r="5.6"/><circle cx="668.2" cy="203.3" r="5.6"/><circle cx="698.7" cy="276.1" r="5.6"/><circle cx="496.5" cy="109.3" r="5.6"/><circle cx="607.4" cy="107.1" r="5.6"/><circle cx="553.6" cy="330.1" r="5.6"/><circle cx="298.0" cy="71.9" r="5.6"/><circle cx="561.8" cy="409.9" r="5.6"/><circle cx="592.2" cy="360.3" r="5.6"/><circle cx="670.4" cy="213.8" r="5.6"/><circle cx="686.8" cy="265.7" r="5.6"/><circle cx="662.5" cy="215.2" r="5.6"/><circle cx="632.7" cy="403.9" r="5.6"/><circle cx="370.6" cy="114.6" r="5.6"/><circle cx="741.3" cy="275.8" r="5.6"/><circle cx="561.0" cy="303.4" r="5.6"/><circle cx="180.1" cy="245.2" r="5.6"/><circle cx="655.6" cy="478.7" r="5.6"/><circle cx="328.9" cy="153.7" r="5.6"/><circle cx="550.7" cy="140.6" r="5.6"/><circle cx="492.6" cy="131.9" r="5.6"/><circle cx="310.5" cy="101.2" r="5.6"/><circle cx="626.0" cy="429.3" r="5.6"/><circle cx="509.4" cy="42.6" r="5.6"/><circle cx="311.6" cy="82.0" r="5.6"/><circle cx="552.6" cy="316.9" r="5.6"/><circle cx="210.7" cy="108.0" r="5.6"/><circle cx="201.4" cy="252.4" r="5.6"/><circle cx="570.1" cy="317.0" r="5.6"/><circle cx="508.5" cy="351.2" r="5.6"/><circle cx="718.2" cy="181.9" r="5.6"/><circle cx="624.0" cy="200.0" r="5.6"/><circle cx="546.4" cy="169.1" r="5.6"/><circle cx="341.0" cy="158.8" r="5.6"/><circle cx="150.7" cy="218.0" r="5.6"/><circle cx="413.2" cy="148.7" r="5.6"/><circle cx="707.7" cy="493.5" r="5.6"/><circle cx="149.0" cy="217.9" r="5.6"/><circle cx="377.6" cy="93.4" r="5.6"/><circle cx="665.5" cy="249.2" r="5.6"/><circle cx="178.0" cy="161.8" r="5.6"/><circle cx="728.8" cy="482.4" r="5.6"/><circle cx="539.6" cy="365.7" r="5.6"/><circle cx="656.0" cy="253.1" r="5.6"/><circle cx="362.7" cy="138.5" r="5.6"/><circle cx="558.1" cy="302.9" r="5.6"/><circle cx="651.6" cy="249.2" r="5.6"/><circle cx="715.8" cy="235.0" r="5.6"/><circle cx="562.7" cy="85.2" r="5.6"/><circle cx="473.3" cy="112.1" r="5.6"/><circle cx="721.6" cy="203.6" r="5.6"/><circle cx="554.1" cy="65.4" r="5.6"/><circle cx="529.0" cy="358.7" r="5.6"/><circle cx="733.1" cy="214.0" r="5.6"/><circle cx="722.7" cy="535.4" r="5.6"/><circle cx="602.6" cy="384.4" r="5.6"/><circle cx="211.1" cy="150.0" r="5.6"/><circle cx="531.9" cy="170.6" r="5.6"/><circle cx="703.4" cy="179.7" r="5.6"/><circle cx="379.8" cy="101.9" r="5.6"/><circle cx="260.3" cy="111.3" r="5.6"/><circle cx="769.6" cy="227.6" r="5.6"/><circle cx="618.5" cy="474.7" r="5.6"/><circle cx="478.8" cy="120.3" r="5.6"/><circle cx="624.8" cy="179.8" r="5.6"/><circle cx="277.5" cy="169.8" r="5.6"/><circle cx="245.4" cy="103.1" r="5.6"/><circle cx="645.8" cy="267.4" r="5.6"/><circle cx="269.4" cy="153.3" r="5.6"/><circle cx="568.6" cy="331.3" r="5.6"/><circle cx="241.2" cy="106.8" r="5.6"/><circle cx="723.6" cy="207.0" r="5.6"/><circle cx="722.9" cy="158.9" r="5.6"/><circle cx="736.7" cy="206.9" r="5.6"/><circle cx="255.0" cy="100.0" r="5.6"/><circle cx="419.6" cy="105.2" r="5.6"/><circle cx="670.6" cy="383.7" r="5.6"/><circle cx="740.8" cy="514.6" r="5.6"/><circle cx="567.8" cy="380.1" r="5.6"/><circle cx="688.3" cy="116.8" r="5.6"/><circle cx="436.0" cy="122.5" r="5.6"/><circle cx="694.5" cy="378.6" r="5.6"/><circle cx="699.8" cy="293.6" r="5.6"/><circle cx="647.5" cy="372.7" r="5.6"/><circle cx="233.2" cy="111.5" r="5.6"/><circle cx="310.1" cy="116.5" r="5.6"/><circle cx="599.3" cy="138.4" r="5.6"/><circle cx="431.3" cy="167.5" r="5.6"/><circle cx="472.7" cy="147.4" r="5.6"/><circle cx="643.3" cy="430.9" r="5.6"/><circle cx="555.4" cy="300.5" r="5.6"/><circle cx="676.8" cy="281.1" r="5.6"/><circle cx="686.9" cy="524.2" r="5.6"/><circle cx="159.7" cy="188.1" r="5.6"/><circle cx="510.4" cy="328.2" r="5.6"/><circle cx="175.8" cy="241.2" r="5.6"/><circle cx="642.8" cy="206.1" r="5.6"/><circle cx="618.4" cy="445.0" r="5.6"/><circle cx="184.1" cy="147.7" r="5.6"/><circle cx="374.0" cy="144.3" r="5.6"/><circle cx="466.7" cy="93.4" r="5.6"/><circle cx="591.2" cy="353.8" r="5.6"/><circle cx="540.0" cy="294.8" r="5.6"/><circle cx="169.4" cy="215.4" r="5.6"/><circle cx="534.8" cy="389.0" r="5.6"/><circle cx="525.7" cy="73.7" r="5.6"/><circle cx="729.4" cy="200.0" r="5.6"/><circle cx="257.6" cy="165.6" r="5.6"/><circle cx="629.6" cy="347.1" r="5.6"/><circle cx="590.2" cy="335.5" r="5.6"/><circle cx="654.2" cy="247.5" r="5.6"/><circle cx="256.1" cy="75.2" r="5.6"/><circle cx="459.0" cy="103.2" r="5.6"/><circle cx="316.7" cy="104.7" r="5.6"/><circle cx="691.2" cy="239.9" r="5.6"/><circle cx="314.0" cy="108.5" r="5.6"/><circle cx="515.1" cy="46.8" r="5.6"/><circle cx="486.1" cy="38.1" r="5.6"/><circle cx="727.2" cy="203.0" r="5.6"/><circle cx="641.8" cy="192.7" r="5.6"/><circle cx="639.9" cy="174.6" r="5.6"/><circle cx="543.5" cy="357.0" r="5.6"/><circle cx="629.3" cy="463.0" r="5.6"/><circle cx="593.7" cy="425.6" r="5.6"/><circle cx="711.5" cy="164.2" r="5.6"/><circle cx="675.7" cy="432.5" r="5.6"/><circle cx="195.6" cy="134.9" r="5.6"/><circle cx="174.2" cy="174.8" r="5.6"/><circle cx="629.9" cy="302.3" r="5.6"/><circle cx="668.7" cy="511.2" r="5.6"/><circle cx="595.3" cy="145.4" r="5.6"/><circle cx="649.4" cy="138.5" r="5.6"/><circle cx="682.4" cy="216.3" r="5.6"/><circle cx="584.7" cy="174.0" r="5.6"/><circle cx="606.3" cy="182.6" r="5.6"/><circle cx="685.8" cy="128.8" r="5.6"/><circle cx="615.9" cy="426.1" r="5.6"/><circle cx="697.7" cy="244.5" r="5.6"/><circle cx="705.7" cy="199.9" r="5.6"/><circle cx="681.2" cy="278.0" r="5.6"/><circle cx="557.3" cy="161.9" r="5.6"/><circle cx="751.8" cy="166.0" r="5.6"/><circle cx="164.6" cy="205.6" r="5.6"/><circle cx="305.9" cy="74.7" r="5.6"/><circle cx="698.3" cy="255.5" r="5.6"/><circle cx="685.1" cy="438.2" r="5.6"/><circle cx="354.2" cy="104.5" r="5.6"/><circle cx="673.6" cy="515.8" r="5.6"/><circle cx="524.9" cy="144.0" r="5.6"/><circle cx="486.8" cy="94.0" r="5.6"/><circle cx="672.7" cy="238.9" r="5.6"/><circle cx="597.2" cy="166.7" r="5.6"/><circle cx="348.1" cy="141.8" r="5.6"/><circle cx="612.4" cy="341.9" r="5.6"/><circle cx="718.8" cy="256.0" r="5.6"/><circle cx="245.3" cy="122.1" r="5.6"/><circle cx="669.0" cy="383.1" r="5.6"/><circle cx="752.7" cy="269.5" r="5.6"/><circle cx="556.4" cy="406.0" r="5.6"/><circle cx="548.1" cy="339.9" r="5.6"/><circle cx="682.3" cy="493.1" r="5.6"/><circle cx="739.8" cy="177.0" r="5.6"/><circle cx="200.5" cy="159.5" r="5.6"/><circle cx="743.8" cy="489.7" r="5.6"/><circle cx="407.6" cy="125.5" r="5.6"/><circle cx="689.7" cy="443.0" r="5.6"/><circle cx="272.8" cy="74.6" r="5.6"/><circle cx="645.4" cy="442.4" r="5.6"/><circle cx="238.7" cy="77.4" r="5.6"/><circle cx="436.3" cy="63.4" r="5.6"/><circle cx="736.1" cy="276.8" r="5.6"/><circle cx="638.7" cy="181.2" r="5.6"/><circle cx="237.3" cy="161.6" r="5.6"/><circle cx="264.6" cy="145.6" r="5.6"/><circle cx="642.7" cy="161.8" r="5.6"/><circle cx="253.7" cy="137.2" r="5.6"/><circle cx="316.9" cy="112.1" r="5.6"/><circle cx="714.4" cy="222.9" r="5.6"/><circle cx="551.5" cy="117.4" r="5.6"/><circle cx="302.7" cy="133.0" r="5.6"/><circle cx="184.2" cy="224.5" r="5.6"/><circle cx="503.4" cy="143.9" r="5.6"/><circle cx="536.2" cy="315.3" r="5.6"/><circle cx="496.1" cy="144.9" r="5.6"/><circle cx="324.8" cy="168.5" r="5.6"/><circle cx="543.5" cy="158.3" r="5.6"/><circle cx="195.8" cy="172.7" r="5.6"/><circle cx="561.2" cy="405.8" r="5.6"/><circle cx="710.1" cy="188.4" r="5.6"/><circle cx="267.5" cy="92.6" r="5.6"/><circle cx="191.2" cy="175.9" r="5.6"/><circle cx="708.6" cy="409.0" r="5.6"/><circle cx="612.0" cy="80.7" r="5.6"/><circle cx="286.4" cy="79.7" r="5.6"/><circle cx="604.3" cy="448.5" r="5.6"/><circle cx="618.5" cy="399.1" r="5.6"/><circle cx="509.5" cy="370.0" r="5.6"/><circle cx="565.8" cy="388.2" r="5.6"/><circle cx="674.2" cy="458.8" r="5.6"/><circle cx="538.4" cy="340.3" r="5.6"/><circle cx="517.0" cy="371.2" r="5.6"/><circle cx="761.7" cy="261.4" r="5.6"/><circle cx="667.4" cy="365.4" r="5.6"/><circle cx="682.7" cy="173.1" r="5.6"/><circle cx="590.4" cy="365.9" r="5.6"/><circle cx="465.3" cy="107.9" r="5.6"/><circle cx="238.5" cy="86.2" r="5.6"/><circle cx="435.8" cy="118.8" r="5.6"/><circle cx="770.5" cy="198.8" r="5.6"/><circle cx="643.6" cy="276.6" r="5.6"/><circle cx="728.6" cy="201.9" r="5.6"/><circle cx="450.5" cy="79.9" r="5.6"/><circle cx="678.0" cy="295.6" r="5.6"/><circle cx="695.2" cy="210.4" r="5.6"/><circle cx="474.1" cy="134.0" r="5.6"/><circle cx="463.1" cy="105.6" r="5.6"/><circle cx="682.9" cy="232.0" r="5.6"/><circle cx="734.2" cy="507.8" r="5.6"/><circle cx="692.8" cy="381.5" r="5.6"/><circle cx="655.5" cy="199.0" r="5.6"/><circle cx="198.1" cy="157.9" r="5.6"/><circle cx="752.7" cy="516.2" r="5.6"/><circle cx="528.7" cy="386.9" r="5.6"/><circle cx="160.5" cy="228.1" r="5.6"/><circle cx="683.8" cy="386.9" r="5.6"/><circle cx="416.6" cy="64.3" r="5.6"/><circle cx="656.0" cy="409.6" r="5.6"/><circle cx="706.4" cy="498.6" r="5.6"/><circle cx="720.6" cy="273.4" r="5.6"/><circle cx="605.6" cy="133.9" r="5.6"/><circle cx="365.9" cy="141.2" r="5.6"/><circle cx="510.5" cy="356.4" r="5.6"/><circle cx="397.8" cy="97.5" r="5.6"/><circle cx="514.5" cy="320.3" r="5.6"/><circle cx="149.7" cy="178.8" r="5.6"/><circle cx="670.7" cy="143.9" r="5.6"/><circle cx="735.8" cy="251.2" r="5.6"/><circle cx="483.3" cy="45.2" r="5.6"/><circle cx="732.9" cy="260.2" r="5.6"/><circle cx="222.4" cy="107.7" r="5.6"/><circle cx="234.9" cy="110.3" r="5.6"/><circle cx="605.4" cy="382.6" r="5.6"/><circle cx="137.7" cy="241.9" r="5.6"/><circle cx="564.9" cy="89.6" r="5.6"/><circle cx="472.6" cy="162.2" r="5.6"/><circle cx="581.4" cy="171.5" r="5.6"/><circle cx="395.2" cy="141.2" r="5.6"/><circle cx="622.6" cy="408.8" r="5.6"/><circle cx="602.9" cy="368.4" r="5.6"/><circle cx="644.1" cy="191.6" r="5.6"/><circle cx="600.5" cy="111.2" r="5.6"/><circle cx="679.8" cy="385.3" r="5.6"/><circle cx="208.4" cy="242.4" r="5.6"/><circle cx="576.8" cy="392.5" r="5.6"/><circle cx="646.6" cy="370.3" r="5.6"/><circle cx="590.9" cy="131.2" r="5.6"/><circle cx="425.3" cy="99.7" r="5.6"/><circle cx="243.4" cy="116.9" r="5.6"/><circle cx="704.9" cy="218.4" r="5.6"/><circle cx="275.7" cy="121.0" r="5.6"/><circle cx="471.6" cy="84.0" r="5.6"/><circle cx="171.5" cy="185.2" r="5.6"/><circle cx="235.0" cy="90.3" r="5.6"/><circle cx="491.0" cy="122.2" r="5.6"/><circle cx="629.3" cy="432.2" r="5.6"/><circle cx="622.2" cy="351.2" r="5.6"/><circle cx="595.9" cy="159.8" r="5.6"/><circle cx="639.6" cy="117.5" r="5.6"/><circle cx="561.1" cy="333.2" r="5.6"/><circle cx="523.6" cy="90.1" r="5.6"/><circle cx="726.1" cy="436.7" r="5.6"/><circle cx="180.3" cy="219.9" r="5.6"/><circle cx="665.1" cy="169.1" r="5.6"/><circle cx="224.8" cy="149.1" r="5.6"/><circle cx="676.9" cy="410.9" r="5.6"/><circle cx="386.2" cy="120.3" r="5.6"/><circle cx="649.6" cy="262.6" r="5.6"/><circle cx="773.4" cy="251.1" r="5.6"/><circle cx="739.1" cy="265.0" r="5.6"/><circle cx="524.4" cy="307.3" r="5.6"/><circle cx="515.4" cy="82.6" r="5.6"/><circle cx="296.1" cy="146.1" r="5.6"/><circle cx="184.7" cy="201.3" r="5.6"/><circle cx="540.1" cy="414.4" r="5.6"/><circle cx="540.7" cy="175.6" r="5.6"/><circle cx="160.0" cy="181.5" r="5.6"/><circle cx="374.5" cy="132.0" r="5.6"/><circle cx="730.3" cy="419.1" r="5.6"/><circle cx="581.3" cy="312.5" r="5.6"/><circle cx="472.7" cy="84.2" r="5.6"/><circle cx="173.8" cy="217.6" r="5.6"/><circle cx="291.1" cy="148.4" r="5.6"/><circle cx="726.3" cy="524.2" r="5.6"/><circle cx="540.0" cy="407.5" r="5.6"/><circle cx="698.6" cy="210.7" r="5.6"/><circle cx="209.0" cy="150.4" r="5.6"/><circle cx="742.9" cy="194.8" r="5.6"/><circle cx="495.6" cy="136.6" r="5.6"/><circle cx="673.6" cy="279.0" r="5.6"/><circle cx="423.1" cy="60.4" r="5.6"/><circle cx="669.6" cy="274.6" r="5.6"/><circle cx="677.7" cy="202.7" r="5.6"/><circle cx="718.7" cy="461.9" r="5.6"/><circle cx="711.0" cy="228.7" r="5.6"/><circle cx="598.3" cy="77.7" r="5.6"/><circle cx="711.2" cy="510.2" r="5.6"/><circle cx="749.7" cy="253.2" r="5.6"/><circle cx="431.4" cy="59.2" r="5.6"/><circle cx="719.1" cy="238.2" r="5.6"/><circle cx="157.9" cy="255.3" r="5.6"/><circle cx="333.2" cy="99.4" r="5.6"/><circle cx="554.6" cy="389.5" r="5.6"/><circle cx="570.0" cy="130.5" r="5.6"/><circle cx="535.5" cy="154.3" r="5.6"/><circle cx="662.1" cy="188.3" r="5.6"/><circle cx="709.0" cy="266.4" r="5.6"/><circle cx="617.0" cy="464.9" r="5.6"/><circle cx="623.1" cy="134.1" r="5.6"/><circle cx="175.0" cy="220.5" r="5.6"/><circle cx="588.2" cy="351.2" r="5.6"/><circle cx="658.5" cy="465.1" r="5.6"/><circle cx="639.5" cy="170.7" r="5.6"/><circle cx="731.0" cy="535.4" r="5.6"/><circle cx="725.0" cy="538.6" r="5.6"/><circle cx="411.6" cy="71.4" r="5.6"/><circle cx="144.5" cy="248.0" r="5.6"/><circle cx="654.2" cy="462.7" r="5.6"/><circle cx="686.5" cy="129.3" r="5.6"/><circle cx="562.2" cy="376.7" r="5.6"/><circle cx="158.1" cy="239.9" r="5.6"/><circle cx="743.3" cy="164.7" r="5.6"/><circle cx="501.8" cy="135.1" r="5.6"/><circle cx="541.7" cy="174.2" r="5.6"/><circle cx="189.3" cy="123.3" r="5.6"/><circle cx="557.5" cy="99.6" r="5.6"/><circle cx="403.4" cy="110.3" r="5.6"/><circle cx="698.5" cy="263.2" r="5.6"/><circle cx="309.9" cy="77.6" r="5.6"/><circle cx="717.0" cy="275.3" r="5.6"/><circle cx="297.7" cy="100.7" r="5.6"/><circle cx="604.4" cy="341.3" r="5.6"/><circle cx="706.5" cy="496.2" r="5.6"/><circle cx="741.4" cy="213.0" r="5.6"/><circle cx="704.6" cy="245.8" r="5.6"/><circle cx="558.3" cy="50.5" r="5.6"/><circle cx="542.6" cy="300.8" r="5.6"/><circle cx="730.3" cy="272.7" r="5.6"/><circle cx="478.8" cy="64.3" r="5.6"/><circle cx="706.1" cy="250.9" r="5.6"/><circle cx="711.6" cy="261.6" r="5.6"/><circle cx="546.5" cy="321.5" r="5.6"/><circle cx="540.8" cy="140.9" r="5.6"/><circle cx="340.1" cy="145.3" r="5.6"/><circle cx="144.2" cy="246.7" r="5.6"/><circle cx="268.2" cy="163.8" r="5.6"/><circle cx="280.4" cy="156.3" r="5.6"/><circle cx="259.8" cy="161.5" r="5.6"/><circle cx="707.4" cy="445.2" r="5.6"/><circle cx="611.2" cy="119.6" r="5.6"/><circle cx="629.2" cy="451.7" r="5.6"/><circle cx="221.9" cy="110.1" r="5.6"/><circle cx="735.3" cy="206.7" r="5.6"/><circle cx="683.7" cy="467.5" r="5.6"/><circle cx="442.7" cy="86.6" r="5.6"/><circle cx="655.9" cy="147.6" r="5.6"/><circle cx="610.7" cy="151.3" r="5.6"/><circle cx="672.3" cy="295.2" r="5.6"/><circle cx="526.3" cy="84.9" r="5.6"/><circle cx="568.5" cy="429.7" r="5.6"/><circle cx="186.9" cy="137.0" r="5.6"/><circle cx="355.5" cy="89.0" r="5.6"/><circle cx="676.7" cy="192.3" r="5.6"/><circle cx="586.3" cy="339.5" r="5.6"/><circle cx="564.1" cy="426.2" r="5.6"/><circle cx="646.1" cy="273.2" r="5.6"/><circle cx="540.9" cy="409.3" r="5.6"/><circle cx="632.4" cy="449.2" r="5.6"/><circle cx="499.4" cy="132.1" r="5.6"/><circle cx="491.0" cy="106.5" r="5.6"/><circle cx="522.3" cy="93.6" r="5.6"/><circle cx="401.9" cy="79.1" r="5.6"/><circle cx="696.6" cy="445.7" r="5.6"/><circle cx="235.3" cy="124.5" r="5.6"/><circle cx="553.9" cy="405.7" r="5.6"/><circle cx="652.0" cy="100.9" r="5.6"/><circle cx="490.6" cy="101.7" r="5.6"/><circle cx="597.7" cy="342.0" r="5.6"/><circle cx="567.4" cy="436.7" r="5.6"/><circle cx="543.9" cy="305.4" r="5.6"/><circle cx="575.3" cy="93.0" r="5.6"/><circle cx="612.8" cy="208.0" r="5.6"/><circle cx="490.9" cy="126.7" r="5.6"/><circle cx="763.9" cy="177.3" r="5.6"/><circle cx="520.6" cy="130.4" r="5.6"/><circle cx="362.7" cy="112.8" r="5.6"/><circle cx="679.0" cy="405.5" r="5.6"/><circle cx="184.7" cy="212.2" r="5.6"/><circle cx="372.4" cy="97.0" r="5.6"/><circle cx="184.7" cy="153.0" r="5.6"/><circle cx="523.4" cy="141.4" r="5.6"/><circle cx="671.7" cy="498.5" r="5.6"/><circle cx="185.8" cy="124.2" r="5.6"/><circle cx="734.2" cy="211.8" r="5.6"/><circle cx="665.9" cy="238.0" r="5.6"/><circle cx="688.4" cy="286.3" r="5.6"/><circle cx="652.7" cy="114.1" r="5.6"/><circle cx="533.2" cy="97.2" r="5.6"/><circle cx="539.0" cy="62.2" r="5.6"/><circle cx="707.3" cy="209.3" r="5.6"/><circle cx="328.7" cy="135.1" r="5.6"/><circle cx="615.4" cy="84.9" r="5.6"/><circle cx="146.0" cy="211.5" r="5.6"/><circle cx="744.1" cy="169.8" r="5.6"/><circle cx="596.4" cy="171.0" r="5.6"/><circle cx="143.4" cy="197.0" r="5.6"/><circle cx="712.7" cy="428.7" r="5.6"/><circle cx="712.2" cy="423.4" r="5.6"/><circle cx="373.7" cy="87.7" r="5.6"/><circle cx="475.7" cy="143.9" r="5.6"/><circle cx="575.4" cy="381.3" r="5.6"/><circle cx="372.3" cy="122.4" r="5.6"/><circle cx="659.2" cy="214.2" r="5.6"/><circle cx="289.5" cy="114.4" r="5.6"/><circle cx="623.1" cy="219.7" r="5.6"/><circle cx="540.4" cy="77.8" r="5.6"/><circle cx="643.4" cy="410.2" r="5.6"/><circle cx="707.1" cy="436.1" r="5.6"/><circle cx="520.2" cy="96.0" r="5.6"/><circle cx="749.5" cy="177.0" r="5.6"/><circle cx="645.8" cy="411.2" r="5.6"/><circle cx="604.6" cy="287.1" r="5.6"/><circle cx="611.1" cy="359.5" r="5.6"/><circle cx="603.0" cy="435.4" r="5.6"/><circle cx="607.0" cy="76.1" r="5.6"/><circle cx="679.7" cy="267.1" r="5.6"/><circle cx="599.2" cy="354.4" r="5.6"/><circle cx="298.5" cy="91.4" r="5.6"/><circle cx="633.4" cy="192.6" r="5.6"/><circle cx="666.7" cy="507.6" r="5.6"/><circle cx="567.6" cy="398.1" r="5.6"/><circle cx="329.2" cy="127.9" r="5.6"/><circle cx="160.1" cy="235.8" r="5.6"/><circle cx="618.2" cy="411.9" r="5.6"/><circle cx="574.4" cy="172.6" r="5.6"/><circle cx="597.5" cy="374.7" r="5.6"/><circle cx="217.4" cy="249.3" r="5.6"/><circle cx="705.7" cy="217.7" r="5.6"/><circle cx="604.8" cy="82.5" r="5.6"/><circle cx="638.8" cy="415.0" r="5.6"/><circle cx="651.1" cy="398.2" r="5.6"/><circle cx="175.1" cy="155.7" r="5.6"/><circle cx="681.7" cy="151.9" r="5.6"/><circle cx="705.7" cy="484.3" r="5.6"/><circle cx="249.3" cy="111.9" r="5.6"/><circle cx="523.6" cy="373.3" r="5.6"/><circle cx="525.1" cy="159.3" r="5.6"/><circle cx="628.5" cy="317.0" r="5.6"/><circle cx="606.4" cy="72.4" r="5.6"/><circle cx="487.0" cy="51.6" r="5.6"/><circle cx="687.5" cy="275.8" r="5.6"/><circle cx="710.0" cy="236.9" r="5.6"/><circle cx="673.9" cy="133.4" r="5.6"/><circle cx="659.5" cy="416.3" r="5.6"/><circle cx="644.5" cy="419.3" r="5.6"/><circle cx="569.3" cy="312.0" r="5.6"/><circle cx="605.8" cy="341.7" r="5.6"/><circle cx="603.8" cy="154.6" r="5.6"/><circle cx="235.7" cy="83.9" r="5.6"/><circle cx="307.1" cy="155.4" r="5.6"/><circle cx="653.3" cy="102.9" r="5.6"/><circle cx="234.0" cy="160.6" r="5.6"/><circle cx="604.5" cy="303.2" r="5.6"/><circle cx="497.6" cy="138.0" r="5.6"/><circle cx="679.6" cy="381.9" r="5.6"/><circle cx="672.9" cy="496.5" r="5.6"/><circle cx="714.7" cy="156.3" r="5.6"/><circle cx="652.2" cy="392.5" r="5.6"/><circle cx="167.9" cy="272.8" r="5.6"/><circle cx="590.2" cy="441.6" r="5.6"/><circle cx="730.6" cy="519.3" r="5.6"/><circle cx="550.9" cy="117.5" r="5.6"/><circle cx="565.1" cy="141.6" r="5.6"/><circle cx="637.2" cy="180.8" r="5.6"/><circle cx="715.3" cy="222.3" r="5.6"/><circle cx="545.2" cy="376.0" r="5.6"/><circle cx="575.5" cy="155.1" r="5.6"/><circle cx="186.4" cy="165.3" r="5.6"/><circle cx="584.4" cy="290.5" r="5.6"/><circle cx="605.1" cy="193.2" r="5.6"/><circle cx="180.9" cy="211.8" r="5.6"/><circle cx="468.4" cy="71.9" r="5.6"/><circle cx="663.2" cy="308.9" r="5.6"/><circle cx="653.8" cy="304.3" r="5.6"/><circle cx="691.9" cy="432.3" r="5.6"/><circle cx="552.0" cy="348.2" r="5.6"/><circle cx="524.9" cy="326.8" r="5.6"/><circle cx="708.8" cy="280.4" r="5.6"/><circle cx="696.1" cy="258.5" r="5.6"/><circle cx="518.1" cy="163.0" r="5.6"/><circle cx="183.5" cy="159.9" r="5.6"/><circle cx="315.4" cy="92.0" r="5.6"/><circle cx="684.0" cy="427.7" r="5.6"/><circle cx="541.5" cy="347.1" r="5.6"/><circle cx="323.8" cy="125.0" r="5.6"/><circle cx="528.9" cy="92.1" r="5.6"/><circle cx="318.6" cy="142.2" r="5.6"/><circle cx="618.9" cy="430.0" r="5.6"/><circle cx="691.6" cy="416.0" r="5.6"/><circle cx="727.6" cy="234.4" r="5.6"/><circle cx="725.5" cy="230.6" r="5.6"/><circle cx="426.4" cy="94.2" r="5.6"/><circle cx="332.3" cy="157.3" r="5.6"/><circle cx="663.5" cy="301.2" r="5.6"/><circle cx="642.3" cy="351.9" r="5.6"/><circle cx="518.2" cy="356.2" r="5.6"/><circle cx="635.3" cy="117.1" r="5.6"/><circle cx="565.9" cy="280.1" r="5.6"/><circle cx="521.2" cy="143.9" r="5.6"/><circle cx="667.4" cy="476.9" r="5.6"/><circle cx="749.1" cy="157.9" r="5.6"/><circle cx="746.7" cy="509.5" r="5.6"/><circle cx="671.9" cy="196.1" r="5.6"/><circle cx="541.5" cy="349.9" r="5.6"/><circle cx="656.6" cy="450.8" r="5.6"/><circle cx="185.5" cy="115.2" r="5.6"/><circle cx="724.2" cy="228.1" r="5.6"/><circle cx="755.9" cy="522.9" r="5.6"/><circle cx="697.6" cy="415.6" r="5.6"/><circle cx="724.4" cy="273.0" r="5.6"/><circle cx="659.7" cy="117.9" r="5.6"/><circle cx="651.2" cy="104.3" r="5.6"/><circle cx="581.8" cy="318.6" r="5.6"/><circle cx="757.3" cy="162.2" r="5.6"/><circle cx="154.1" cy="210.3" r="5.6"/><circle cx="610.8" cy="90.5" r="5.6"/><circle cx="659.9" cy="142.1" r="5.6"/><circle cx="235.0" cy="129.6" r="5.6"/><circle cx="739.3" cy="153.6" r="5.6"/><circle cx="172.8" cy="243.0" r="5.6"/><circle cx="772.8" cy="200.2" r="5.6"/><circle cx="544.5" cy="165.9" r="5.6"/><circle cx="678.5" cy="110.3" r="5.6"/><circle cx="682.5" cy="119.8" r="5.6"/><circle cx="480.9" cy="101.4" r="5.6"/><circle cx="140.3" cy="227.4" r="5.6"/><circle cx="694.7" cy="209.8" r="5.6"/><circle cx="215.8" cy="130.5" r="5.6"/><circle cx="628.6" cy="374.8" r="5.6"/><circle cx="695.0" cy="285.7" r="5.6"/><circle cx="196.2" cy="139.9" r="5.6"/><circle cx="562.7" cy="377.8" r="5.6"/><circle cx="610.4" cy="354.6" r="5.6"/><circle cx="310.8" cy="158.1" r="5.6"/><circle cx="558.3" cy="375.6" r="5.6"/><circle cx="385.3" cy="105.6" r="5.6"/><circle cx="464.3" cy="147.5" r="5.6"/><circle cx="491.8" cy="122.1" r="5.6"/><circle cx="698.7" cy="526.1" r="5.6"/><circle cx="451.4" cy="103.2" r="5.6"/><circle cx="679.6" cy="216.9" r="5.6"/><circle cx="449.1" cy="77.7" r="5.6"/><circle cx="255.7" cy="139.5" r="5.6"/><circle cx="163.5" cy="223.0" r="5.6"/><circle cx="334.2" cy="103.6" r="5.6"/><circle cx="601.9" cy="180.6" r="5.6"/><circle cx="147.1" cy="223.7" r="5.6"/><circle cx="322.0" cy="86.3" r="5.6"/><circle cx="446.1" cy="136.0" r="5.6"/><circle cx="562.6" cy="55.6" r="5.6"/><circle cx="676.7" cy="412.0" r="5.6"/><circle cx="550.3" cy="407.3" r="5.6"/><circle cx="556.9" cy="360.5" r="5.6"/><circle cx="625.2" cy="414.5" r="5.6"/><circle cx="583.9" cy="270.1" r="5.6"/><circle cx="549.0" cy="133.6" r="5.6"/><circle cx="649.8" cy="361.2" r="5.6"/><circle cx="668.2" cy="195.9" r="5.6"/><circle cx="469.4" cy="68.3" r="5.6"/><circle cx="579.1" cy="273.7" r="5.6"/><circle cx="579.8" cy="78.7" r="5.6"/><circle cx="668.4" cy="464.5" r="5.6"/><circle cx="512.5" cy="323.2" r="5.6"/><circle cx="233.9" cy="150.3" r="5.6"/><circle cx="187.5" cy="257.5" r="5.6"/><circle cx="662.5" cy="477.6" r="5.6"/><circle cx="696.6" cy="241.7" r="5.6"/><circle cx="607.6" cy="72.6" r="5.6"/><circle cx="620.4" cy="311.0" r="5.6"/><circle cx="154.2" cy="185.0" r="5.6"/><circle cx="621.2" cy="196.3" r="5.6"/><circle cx="210.7" cy="156.2" r="5.6"/><circle cx="602.2" cy="104.0" r="5.6"/><circle cx="633.8" cy="310.5" r="5.6"/><circle cx="614.0" cy="109.9" r="5.6"/><circle cx="675.9" cy="463.2" r="5.6"/><circle cx="580.1" cy="298.7" r="5.6"/><circle cx="684.4" cy="413.0" r="5.6"/><circle cx="306.4" cy="117.3" r="5.6"/><circle cx="148.9" cy="255.1" r="5.6"/><circle cx="401.3" cy="121.8" r="5.6"/><circle cx="585.9" cy="173.2" r="5.6"/><circle cx="589.9" cy="97.1" r="5.6"/><circle cx="528.5" cy="173.4" r="5.6"/><circle cx="535.7" cy="301.4" r="5.6"/><circle cx="687.1" cy="119.3" r="5.6"/><circle cx="334.0" cy="82.9" r="5.6"/><circle cx="590.4" cy="434.9" r="5.6"/><circle cx="579.9" cy="174.5" r="5.6"/><circle cx="336.5" cy="99.3" r="5.6"/><circle cx="183.3" cy="175.0" r="5.6"/><circle cx="565.5" cy="335.4" r="5.6"/><circle cx="575.6" cy="348.0" r="5.6"/><circle cx="624.6" cy="297.9" r="5.6"/><circle cx="604.7" cy="282.5" r="5.6"/><circle cx="643.4" cy="136.9" r="5.6"/><circle cx="552.7" cy="362.3" r="5.6"/><circle cx="546.8" cy="414.5" r="5.6"/><circle cx="601.0" cy="317.9" r="5.6"/><circle cx="261.0" cy="180.4" r="5.6"/><circle cx="749.1" cy="497.6" r="5.6"/><circle cx="282.1" cy="129.1" r="5.6"/><circle cx="629.2" cy="192.3" r="5.6"/><circle cx="619.6" cy="287.6" r="5.6"/><circle cx="739.8" cy="517.3" r="5.6"/><circle cx="381.0" cy="125.7" r="5.6"/><circle cx="709.9" cy="485.7" r="5.6"/><circle cx="725.6" cy="248.5" r="5.6"/><circle cx="534.3" cy="112.9" r="5.6"/><circle cx="718.7" cy="424.1" r="5.6"/><circle cx="174.7" cy="239.0" r="5.6"/><circle cx="670.1" cy="383.2" r="5.6"/><circle cx="400.9" cy="75.3" r="5.6"/><circle cx="692.5" cy="236.0" r="5.6"/><circle cx="667.0" cy="194.6" r="5.6"/><circle cx="606.4" cy="327.9" r="5.6"/><circle cx="139.7" cy="221.1" r="5.6"/><circle cx="729.4" cy="512.4" r="5.6"/><circle cx="654.6" cy="266.8" r="5.6"/><circle cx="652.2" cy="101.6" r="5.6"/><circle cx="651.8" cy="409.3" r="5.6"/><circle cx="602.8" cy="381.6" r="5.6"/><circle cx="190.3" cy="147.2" r="5.6"/><circle cx="744.8" cy="244.6" r="5.6"/><circle cx="426.1" cy="100.5" r="5.6"/><circle cx="528.3" cy="131.5" r="5.6"/><circle cx="296.0" cy="140.9" r="5.6"/><circle cx="461.9" cy="73.6" r="5.6"/><circle cx="182.3" cy="229.1" r="5.6"/><circle cx="242.2" cy="97.4" r="5.6"/><circle cx="611.4" cy="161.5" r="5.6"/><circle cx="711.8" cy="456.2" r="5.6"/><circle cx="201.4" cy="111.5" r="5.6"/><circle cx="762.3" cy="222.4" r="5.6"/><circle cx="187.5" cy="136.2" r="5.6"/><circle cx="655.9" cy="300.8" r="5.6"/><circle cx="686.5" cy="127.1" r="5.6"/><circle cx="641.2" cy="426.6" r="5.6"/><circle cx="652.4" cy="193.9" r="5.6"/><circle cx="632.1" cy="435.4" r="5.6"/><circle cx="523.9" cy="125.9" r="5.6"/><circle cx="721.8" cy="449.3" r="5.6"/><circle cx="660.6" cy="444.9" r="5.6"/><circle cx="701.4" cy="153.0" r="5.6"/><circle cx="769.1" cy="195.4" r="5.6"/><circle cx="430.6" cy="151.1" r="5.6"/><circle cx="687.4" cy="434.7" r="5.6"/><circle cx="528.7" cy="161.5" r="5.6"/><circle cx="263.5" cy="116.3" r="5.6"/><circle cx="699.0" cy="424.2" r="5.6"/><circle cx="623.2" cy="426.1" r="5.6"/><circle cx="752.7" cy="261.5" r="5.6"/><circle cx="489.6" cy="160.1" r="5.6"/><circle cx="576.6" cy="375.7" r="5.6"/><circle cx="691.7" cy="426.3" r="5.6"/><circle cx="621.0" cy="98.4" r="5.6"/><circle cx="695.3" cy="288.8" r="5.6"/><circle cx="706.3" cy="448.5" r="5.6"/><circle cx="286.5" cy="92.3" r="5.6"/><circle cx="599.0" cy="63.2" r="5.6"/><circle cx="678.6" cy="512.3" r="5.6"/><circle cx="633.3" cy="219.0" r="5.6"/><circle cx="584.7" cy="127.5" r="5.6"/><circle cx="743.9" cy="211.3" r="5.6"/><circle cx="662.1" cy="181.4" r="5.6"/><circle cx="467.9" cy="62.7" r="5.6"/><circle cx="781.6" cy="245.4" r="5.6"/><circle cx="487.0" cy="73.9" r="5.6"/><circle cx="572.1" cy="167.7" r="5.6"/><circle cx="525.8" cy="95.6" r="5.6"/><circle cx="603.2" cy="394.1" r="5.6"/><circle cx="515.4" cy="111.7" r="5.6"/><circle cx="712.4" cy="162.5" r="5.6"/><circle cx="438.7" cy="49.1" r="5.6"/><circle cx="692.0" cy="481.7" r="5.6"/><circle cx="693.5" cy="196.9" r="5.6"/><circle cx="273.9" cy="100.9" r="5.6"/><circle cx="393.5" cy="123.4" r="5.6"/><circle cx="603.0" cy="291.5" r="5.6"/><circle cx="706.6" cy="254.3" r="5.6"/><circle cx="569.6" cy="93.0" r="5.6"/><circle cx="744.0" cy="540.4" r="5.6"/><circle cx="625.5" cy="348.0" r="5.6"/><circle cx="741.9" cy="512.1" r="5.6"/><circle cx="536.9" cy="91.6" r="5.6"/><circle cx="337.3" cy="100.1" r="5.6"/><circle cx="649.1" cy="219.1" r="5.6"/><circle cx="331.0" cy="106.0" r="5.6"/><circle cx="577.2" cy="314.6" r="5.6"/><circle cx="616.3" cy="113.6" r="5.6"/><circle cx="731.7" cy="269.3" r="5.6"/><circle cx="693.6" cy="281.6" r="5.6"/><circle cx="737.6" cy="193.9" r="5.6"/><circle cx="232.0" cy="79.9" r="5.6"/><circle cx="615.9" cy="149.4" r="5.6"/><circle cx="718.4" cy="263.9" r="5.6"/><circle cx="596.9" cy="406.2" r="5.6"/><circle cx="777.5" cy="235.3" r="5.6"/><circle cx="601.0" cy="124.7" r="5.6"/><circle cx="472.7" cy="120.1" r="5.6"/><circle cx="551.6" cy="373.2" r="5.6"/><circle cx="442.8" cy="37.2" r="5.6"/><circle cx="165.3" cy="240.7" r="5.6"/><circle cx="699.0" cy="160.3" r="5.6"/><circle cx="648.2" cy="378.0" r="5.6"/><circle cx="642.9" cy="294.1" r="5.6"/><circle cx="631.3" cy="204.2" r="5.6"/><circle cx="574.9" cy="119.9" r="5.6"/><circle cx="434.6" cy="120.9" r="5.6"/><circle cx="644.6" cy="290.8" r="5.6"/><circle cx="679.7" cy="145.0" r="5.6"/><circle cx="525.4" cy="325.7" r="5.6"/><circle cx="153.4" cy="239.8" r="5.6"/><circle cx="447.4" cy="142.2" r="5.6"/><circle cx="721.1" cy="511.2" r="5.6"/><circle cx="717.4" cy="476.2" r="5.6"/><circle cx="571.1" cy="401.1" r="5.6"/><circle cx="401.3" cy="72.5" r="5.6"/><circle cx="737.0" cy="474.2" r="5.6"/><circle cx="618.5" cy="346.7" r="5.6"/><circle cx="698.1" cy="141.0" r="5.6"/><circle cx="219.1" cy="242.1" r="5.6"/><circle cx="603.8" cy="77.0" r="5.6"/><circle cx="597.3" cy="396.0" r="5.6"/><circle cx="511.0" cy="150.5" r="5.6"/><circle cx="715.3" cy="505.5" r="5.6"/><circle cx="652.7" cy="474.1" r="5.6"/><circle cx="450.6" cy="156.8" r="5.6"/><circle cx="416.5" cy="74.7" r="5.6"/><circle cx="230.5" cy="152.4" r="5.6"/><circle cx="362.4" cy="103.5" r="5.6"/><circle cx="763.7" cy="201.6" r="5.6"/><circle cx="266.8" cy="102.1" r="5.6"/><circle cx="571.5" cy="348.4" r="5.6"/><circle cx="183.1" cy="158.9" r="5.6"/><circle cx="539.1" cy="320.9" r="5.6"/><circle cx="662.4" cy="235.4" r="5.6"/><circle cx="416.3" cy="126.3" r="5.6"/><circle cx="767.0" cy="235.6" r="5.6"/><circle cx="446.3" cy="159.1" r="5.6"/><circle cx="528.1" cy="324.3" r="5.6"/><circle cx="538.2" cy="318.6" r="5.6"/><circle cx="626.1" cy="194.6" r="5.6"/><circle cx="228.4" cy="155.7" r="5.6"/><circle cx="437.8" cy="107.0" r="5.6"/><circle cx="719.9" cy="176.8" r="5.6"/><circle cx="585.1" cy="360.3" r="5.6"/><circle cx="623.7" cy="124.6" r="5.6"/><circle cx="661.0" cy="506.9" r="5.6"/><circle cx="427.6" cy="118.0" r="5.6"/><circle cx="444.5" cy="116.8" r="5.6"/><circle cx="686.1" cy="385.1" r="5.6"/><circle cx="222.6" cy="101.9" r="5.6"/><circle cx="590.5" cy="317.4" r="5.6"/><circle cx="540.3" cy="397.8" r="5.6"/><circle cx="666.8" cy="210.3" r="5.6"/><circle cx="623.2" cy="156.0" r="5.6"/><circle cx="602.2" cy="305.4" r="5.6"/><circle cx="418.3" cy="118.9" r="5.6"/><circle cx="286.3" cy="124.4" r="5.6"/><circle cx="714.2" cy="248.9" r="5.6"/><circle cx="163.8" cy="220.5" r="5.6"/><circle cx="639.7" cy="291.9" r="5.6"/><circle cx="617.7" cy="102.2" r="5.6"/><circle cx="543.3" cy="176.5" r="5.6"/><circle cx="703.7" cy="155.8" r="5.6"/><circle cx="597.8" cy="430.7" r="5.6"/><circle cx="701.7" cy="431.7" r="5.6"/><circle cx="578.5" cy="157.0" r="5.6"/><circle cx="560.6" cy="404.0" r="5.6"/><circle cx="560.1" cy="314.8" r="5.6"/><circle cx="743.4" cy="510.1" r="5.6"/><circle cx="257.7" cy="117.1" r="5.6"/><circle cx="709.3" cy="249.3" r="5.6"/><circle cx="575.9" cy="329.8" r="5.6"/><circle cx="260.8" cy="141.2" r="5.6"/><circle cx="721.2" cy="270.3" r="5.6"/><circle cx="589.7" cy="429.6" r="5.6"/><circle cx="688.2" cy="175.8" r="5.6"/><circle cx="564.9" cy="362.5" r="5.6"/><circle cx="682.5" cy="145.0" r="5.6"/><circle cx="625.4" cy="163.0" r="5.6"/><circle cx="409.0" cy="81.5" r="5.6"/><circle cx="654.1" cy="285.5" r="5.6"/><circle cx="621.5" cy="180.8" r="5.6"/><circle cx="704.7" cy="248.0" r="5.6"/><circle cx="576.2" cy="170.7" r="5.6"/><circle cx="709.3" cy="527.8" r="5.6"/><circle cx="528.0" cy="52.9" r="5.6"/><circle cx="601.3" cy="301.0" r="5.6"/><circle cx="738.9" cy="205.7" r="5.6"/><circle cx="736.1" cy="235.7" r="5.6"/><circle cx="650.6" cy="425.0" r="5.6"/><circle cx="204.5" cy="236.5" r="5.6"/><circle cx="215.4" cy="132.1" r="5.6"/><circle cx="595.0" cy="201.5" r="5.6"/><circle cx="555.9" cy="359.6" r="5.6"/><circle cx="512.0" cy="353.3" r="5.6"/><circle cx="727.9" cy="437.3" r="5.6"/><circle cx="207.7" cy="251.5" r="5.6"/><circle cx="484.4" cy="117.1" r="5.6"/><circle cx="572.0" cy="63.7" r="5.6"/><circle cx="518.7" cy="132.7" r="5.6"/><circle cx="219.8" cy="100.0" r="5.6"/><circle cx="704.5" cy="220.0" r="5.6"/><circle cx="612.5" cy="428.0" r="5.6"/><circle cx="605.1" cy="293.3" r="5.6"/><circle cx="589.1" cy="417.2" r="5.6"/><circle cx="727.9" cy="526.2" r="5.6"/><circle cx="647.8" cy="147.2" r="5.6"/><circle cx="676.9" cy="296.8" r="5.6"/><circle cx="606.6" cy="339.3" r="5.6"/><circle cx="166.1" cy="233.0" r="5.6"/><circle cx="457.7" cy="85.3" r="5.6"/><circle cx="278.4" cy="166.5" r="5.6"/><circle cx="154.6" cy="237.2" r="5.6"/><circle cx="535.6" cy="321.0" r="5.6"/><circle cx="718.5" cy="237.9" r="5.6"/><circle cx="634.1" cy="290.9" r="5.6"/><circle cx="647.8" cy="166.4" r="5.6"/><circle cx="530.6" cy="114.5" r="5.6"/><circle cx="470.9" cy="146.3" r="5.6"/><circle cx="662.0" cy="243.4" r="5.6"/><circle cx="542.6" cy="382.0" r="5.6"/><circle cx="559.5" cy="383.4" r="5.6"/><circle cx="428.3" cy="67.9" r="5.6"/><circle cx="659.3" cy="300.0" r="5.6"/><circle cx="737.6" cy="229.9" r="5.6"/><circle cx="464.7" cy="152.7" r="5.6"/><circle cx="733.4" cy="524.6" r="5.6"/><circle cx="226.7" cy="146.1" r="5.6"/><circle cx="659.3" cy="198.6" r="5.6"/><circle cx="734.7" cy="522.1" r="5.6"/><circle cx="731.9" cy="497.7" r="5.6"/><circle cx="559.5" cy="406.5" r="5.6"/><circle cx="710.1" cy="496.4" r="5.6"/><circle cx="526.1" cy="83.2" r="5.6"/><circle cx="668.7" cy="450.5" r="5.6"/><circle cx="324.8" cy="137.4" r="5.6"/><circle cx="665.1" cy="444.8" r="5.6"/><circle cx="304.8" cy="71.6" r="5.6"/><circle cx="610.7" cy="106.4" r="5.6"/><circle cx="716.4" cy="459.8" r="5.6"/><circle cx="621.1" cy="299.4" r="5.6"/><circle cx="313.1" cy="98.9" r="5.6"/><circle cx="561.8" cy="311.6" r="5.6"/><circle cx="703.9" cy="201.6" r="5.6"/><circle cx="709.1" cy="456.5" r="5.6"/><circle cx="752.7" cy="524.9" r="5.6"/><circle cx="530.4" cy="98.4" r="5.6"/><circle cx="279.5" cy="117.2" r="5.6"/><circle cx="515.2" cy="90.3" r="5.6"/><circle cx="258.1" cy="89.4" r="5.6"/><circle cx="330.5" cy="145.7" r="5.6"/><circle cx="743.2" cy="523.5" r="5.6"/><circle cx="526.6" cy="181.8" r="5.6"/><circle cx="643.4" cy="385.3" r="5.6"/><circle cx="571.0" cy="63.2" r="5.6"/><circle cx="610.3" cy="445.9" r="5.6"/><circle cx="334.6" cy="94.1" r="5.6"/><circle cx="757.4" cy="272.4" r="5.6"/><circle cx="529.5" cy="72.7" r="5.6"/><circle cx="636.4" cy="299.1" r="5.6"/><circle cx="278.5" cy="169.0" r="5.6"/><circle cx="542.6" cy="99.6" r="5.6"/><circle cx="585.1" cy="413.7" r="5.6"/><circle cx="368.6" cy="151.8" r="5.6"/><circle cx="364.6" cy="87.3" r="5.6"/><circle cx="756.3" cy="220.0" r="5.6"/><circle cx="749.2" cy="252.9" r="5.6"/><circle cx="353.1" cy="90.8" r="5.6"/><circle cx="394.0" cy="126.8" r="5.6"/><circle cx="686.5" cy="465.6" r="5.6"/><circle cx="300.2" cy="138.0" r="5.6"/><circle cx="734.0" cy="477.8" r="5.6"/><circle cx="677.7" cy="280.9" r="5.6"/><circle cx="272.9" cy="85.8" r="5.6"/><circle cx="697.2" cy="218.8" r="5.6"/><circle cx="222.7" cy="113.5" r="5.6"/><circle cx="339.6" cy="153.4" r="5.6"/><circle cx="443.9" cy="120.5" r="5.6"/><circle cx="756.2" cy="496.6" r="5.6"/><circle cx="403.9" cy="98.6" r="5.6"/><circle cx="701.3" cy="211.9" r="5.6"/><circle cx="570.4" cy="188.5" r="5.6"/><circle cx="180.8" cy="180.4" r="5.6"/><circle cx="609.2" cy="289.6" r="5.6"/><circle cx="751.5" cy="498.5" r="5.6"/><circle cx="262.7" cy="127.8" r="5.6"/><circle cx="708.5" cy="486.1" r="5.6"/><circle cx="392.2" cy="109.9" r="5.6"/><circle cx="417.0" cy="102.6" r="5.6"/><circle cx="729.5" cy="509.3" r="5.6"/><circle cx="284.8" cy="72.0" r="5.6"/><circle cx="173.3" cy="202.2" r="5.6"/><circle cx="394.1" cy="94.4" r="5.6"/><circle cx="635.9" cy="204.6" r="5.6"/><circle cx="266.7" cy="142.1" r="5.6"/><circle cx="735.5" cy="516.3" r="5.6"/><circle cx="613.8" cy="419.2" r="5.6"/><circle cx="597.4" cy="387.9" r="5.6"/><circle cx="733.0" cy="478.4" r="5.6"/><circle cx="598.8" cy="172.1" r="5.6"/><circle cx="674.4" cy="284.8" r="5.6"/><circle cx="213.6" cy="118.6" r="5.6"/><circle cx="587.9" cy="287.4" r="5.6"/><circle cx="231.0" cy="149.5" r="5.6"/><circle cx="266.2" cy="136.8" r="5.6"/><circle cx="682.2" cy="500.6" r="5.6"/><circle cx="292.6" cy="167.6" r="5.6"/><circle cx="551.7" cy="423.7" r="5.6"/><circle cx="550.8" cy="415.8" r="5.6"/><circle cx="650.9" cy="124.0" r="5.6"/><circle cx="591.8" cy="88.5" r="5.6"/><circle cx="706.0" cy="259.1" r="5.6"/><circle cx="578.9" cy="142.7" r="5.6"/><circle cx="556.6" cy="348.8" r="5.6"/><circle cx="574.7" cy="289.4" r="5.6"/><circle cx="380.0" cy="99.4" r="5.6"/><circle cx="727.7" cy="487.2" r="5.6"/><circle cx="585.4" cy="120.5" r="5.6"/><circle cx="336.1" cy="167.9" r="5.6"/><circle cx="563.6" cy="173.1" r="5.6"/><circle cx="623.1" cy="264.5" r="5.6"/><circle cx="649.9" cy="102.1" r="5.6"/><circle cx="614.0" cy="419.4" r="5.6"/><circle cx="599.3" cy="187.1" r="5.6"/><circle cx="714.2" cy="502.0" r="5.6"/><circle cx="557.9" cy="331.6" r="5.6"/><circle cx="322.2" cy="103.3" r="5.6"/><circle cx="596.3" cy="341.0" r="5.6"/><circle cx="625.4" cy="280.0" r="5.6"/><circle cx="655.9" cy="268.0" r="5.6"/><circle cx="604.8" cy="296.6" r="5.6"/><circle cx="609.5" cy="101.0" r="5.6"/><circle cx="716.1" cy="453.6" r="5.6"/><circle cx="693.4" cy="466.9" r="5.6"/><circle cx="305.4" cy="154.0" r="5.6"/><circle cx="735.2" cy="251.2" r="5.6"/><circle cx="651.2" cy="283.9" r="5.6"/><circle cx="537.4" cy="296.2" r="5.6"/><circle cx="692.2" cy="264.6" r="5.6"/><circle cx="334.7" cy="75.4" r="5.6"/><circle cx="738.5" cy="203.8" r="5.6"/><circle cx="653.4" cy="287.3" r="5.6"/><circle cx="750.5" cy="243.5" r="5.6"/><circle cx="371.0" cy="131.2" r="5.6"/><circle cx="590.1" cy="136.6" r="5.6"/><circle cx="550.4" cy="396.7" r="5.6"/><circle cx="583.3" cy="144.7" r="5.6"/><circle cx="704.8" cy="250.8" r="5.6"/><circle cx="686.6" cy="401.9" r="5.6"/><circle cx="748.3" cy="207.2" r="5.6"/><circle cx="510.8" cy="37.5" r="5.6"/><circle cx="746.6" cy="208.0" r="5.6"/><circle cx="403.0" cy="119.6" r="5.6"/><circle cx="433.5" cy="163.3" r="5.6"/><circle cx="283.2" cy="129.6" r="5.6"/><circle cx="526.4" cy="51.0" r="5.6"/><circle cx="580.7" cy="342.1" r="5.6"/><circle cx="446.5" cy="101.3" r="5.6"/><circle cx="626.6" cy="421.6" r="5.6"/><circle cx="652.0" cy="120.9" r="5.6"/><circle cx="726.7" cy="228.5" r="5.6"/><circle cx="690.2" cy="160.6" r="5.6"/><circle cx="666.6" cy="287.5" r="5.6"/><circle cx="728.6" cy="500.0" r="5.6"/><circle cx="658.2" cy="211.8" r="5.6"/><circle cx="663.1" cy="148.8" r="5.6"/><circle cx="737.6" cy="522.5" r="5.6"/><circle cx="247.9" cy="109.9" r="5.6"/><circle cx="317.6" cy="79.8" r="5.6"/><circle cx="590.2" cy="120.0" r="5.6"/><circle cx="708.4" cy="226.4" r="5.6"/><circle cx="644.7" cy="456.3" r="5.6"/><circle cx="627.7" cy="434.5" r="5.6"/><circle cx="328.7" cy="130.8" r="5.6"/><circle cx="631.8" cy="208.6" r="5.6"/><circle cx="657.9" cy="289.3" r="5.6"/><circle cx="496.9" cy="53.3" r="5.6"/><circle cx="684.9" cy="405.2" r="5.6"/><circle cx="640.1" cy="248.5" r="5.6"/><circle cx="769.9" cy="185.7" r="5.6"/><circle cx="156.5" cy="257.2" r="5.6"/><circle cx="203.5" cy="98.8" r="5.6"/><circle cx="684.9" cy="131.2" r="5.6"/><circle cx="253.4" cy="86.6" r="5.6"/><circle cx="244.6" cy="75.5" r="5.6"/><circle cx="457.3" cy="86.5" r="5.6"/><circle cx="756.1" cy="219.1" r="5.6"/><circle cx="571.9" cy="441.4" r="5.6"/><circle cx="145.3" cy="172.0" r="5.6"/><circle cx="424.6" cy="102.1" r="5.6"/><circle cx="708.2" cy="506.9" r="5.6"/><circle cx="622.9" cy="371.3" r="5.6"/><circle cx="672.9" cy="510.9" r="5.6"/><circle cx="714.8" cy="443.1" r="5.6"/><circle cx="577.3" cy="360.5" r="5.6"/><circle cx="683.4" cy="406.3" r="5.6"/><circle cx="595.1" cy="307.3" r="5.6"/><circle cx="713.1" cy="152.2" r="5.6"/><circle cx="727.3" cy="226.6" r="5.6"/><circle cx="597.3" cy="456.3" r="5.6"/><circle cx="724.5" cy="436.7" r="5.6"/><circle cx="242.9" cy="135.4" r="5.6"/><circle cx="154.6" cy="259.9" r="5.6"/><circle cx="721.3" cy="244.8" r="5.6"/><circle cx="549.8" cy="96.3" r="5.6"/><circle cx="227.8" cy="132.6" r="5.6"/><circle cx="685.8" cy="133.1" r="5.6"/><circle cx="625.7" cy="435.1" r="5.6"/><circle cx="337.5" cy="78.2" r="5.6"/><circle cx="609.6" cy="297.7" r="5.6"/><circle cx="429.5" cy="110.7" r="5.6"/><circle cx="152.6" cy="249.6" r="5.6"/><circle cx="759.8" cy="198.4" r="5.6"/><circle cx="197.8" cy="238.9" r="5.6"/><circle cx="731.6" cy="171.8" r="5.6"/><circle cx="718.3" cy="277.9" r="5.6"/><circle cx="657.3" cy="114.6" r="5.6"/><circle cx="730.8" cy="541.9" r="5.6"/><circle cx="632.0" cy="351.7" r="5.6"/><circle cx="415.9" cy="113.9" r="5.6"/><circle cx="605.7" cy="327.9" r="5.6"/><circle cx="702.9" cy="274.8" r="5.6"/><circle cx="644.8" cy="186.5" r="5.6"/><circle cx="697.5" cy="188.2" r="5.6"/><circle cx="382.8" cy="111.5" r="5.6"/><circle cx="341.2" cy="116.1" r="5.6"/><circle cx="571.7" cy="172.6" r="5.6"/><circle cx="720.8" cy="522.2" r="5.6"/><circle cx="576.7" cy="107.2" r="5.6"/><circle cx="384.5" cy="95.7" r="5.6"/><circle cx="686.4" cy="482.9" r="5.6"/><circle cx="294.2" cy="76.2" r="5.6"/><circle cx="146.3" cy="257.0" r="5.6"/><circle cx="454.4" cy="40.4" r="5.6"/><circle cx="724.0" cy="146.2" r="5.6"/><circle cx="646.2" cy="213.1" r="5.6"/><circle cx="703.5" cy="427.9" r="5.6"/><circle cx="720.6" cy="217.6" r="5.6"/><circle cx="223.8" cy="136.9" r="5.6"/><circle cx="475.6" cy="140.4" r="5.6"/><circle cx="723.1" cy="240.3" r="5.6"/><circle cx="394.7" cy="104.3" r="5.6"/><circle cx="614.3" cy="357.5" r="5.6"/><circle cx="379.4" cy="94.5" r="5.6"/><circle cx="706.3" cy="375.1" r="5.6"/><circle cx="703.9" cy="448.2" r="5.6"/><circle cx="688.9" cy="238.2" r="5.6"/><circle cx="384.6" cy="121.8" r="5.6"/><circle cx="547.1" cy="367.7" r="5.6"/><circle cx="710.9" cy="214.2" r="5.6"/><circle cx="750.8" cy="549.0" r="5.6"/><circle cx="554.0" cy="414.0" r="5.6"/><circle cx="159.7" cy="164.6" r="5.6"/><circle cx="234.2" cy="143.3" r="5.6"/><circle cx="172.4" cy="197.7" r="5.6"/><circle cx="725.2" cy="445.0" r="5.6"/><circle cx="594.0" cy="182.0" r="5.6"/><circle cx="645.7" cy="307.1" r="5.6"/><circle cx="563.6" cy="188.2" r="5.6"/><circle cx="679.6" cy="502.0" r="5.6"/><circle cx="697.3" cy="138.8" r="5.6"/><circle cx="751.0" cy="249.2" r="5.6"/><circle cx="665.4" cy="395.2" r="5.6"/><circle cx="729.1" cy="509.5" r="5.6"/><circle cx="727.1" cy="215.0" r="5.6"/><circle cx="618.6" cy="357.0" r="5.6"/><circle cx="199.7" cy="120.2" r="5.6"/><circle cx="141.0" cy="207.1" r="5.6"/><circle cx="266.9" cy="173.8" r="5.6"/><circle cx="577.8" cy="311.5" r="5.6"/><circle cx="301.0" cy="80.0" r="5.6"/><circle cx="305.4" cy="149.8" r="5.6"/><circle cx="607.4" cy="448.9" r="5.6"/><circle cx="744.6" cy="203.6" r="5.6"/><circle cx="646.9" cy="287.9" r="5.6"/><circle cx="714.6" cy="290.8" r="5.6"/><circle cx="683.7" cy="289.0" r="5.6"/><circle cx="571.2" cy="339.3" r="5.6"/><circle cx="164.7" cy="224.6" r="5.6"/><circle cx="701.1" cy="204.2" r="5.6"/><circle cx="192.2" cy="126.6" r="5.6"/><circle cx="469.8" cy="52.1" r="5.6"/><circle cx="464.6" cy="122.7" r="5.6"/><circle cx="619.3" cy="120.2" r="5.6"/><circle cx="367.4" cy="89.0" r="5.6"/><circle cx="625.6" cy="304.0" r="5.6"/><circle cx="184.9" cy="206.2" r="5.6"/><circle cx="267.0" cy="99.1" r="5.6"/><circle cx="681.8" cy="136.8" r="5.6"/><circle cx="661.4" cy="130.0" r="5.6"/><circle cx="244.6" cy="89.4" r="5.6"/><circle cx="732.3" cy="497.9" r="5.6"/><circle cx="673.9" cy="128.3" r="5.6"/><circle cx="713.9" cy="491.6" r="5.6"/><circle cx="269.0" cy="110.6" r="5.6"/><circle cx="512.7" cy="164.6" r="5.6"/><circle cx="629.9" cy="405.1" r="5.6"/><circle cx="263.9" cy="159.5" r="5.6"/><circle cx="246.4" cy="170.1" r="5.6"/><circle cx="578.6" cy="105.2" r="5.6"/><circle cx="384.4" cy="77.9" r="5.6"/><circle cx="731.2" cy="193.5" r="5.6"/><circle cx="717.6" cy="241.3" r="5.6"/><circle cx="716.4" cy="535.5" r="5.6"/><circle cx="603.3" cy="136.0" r="5.6"/><circle cx="316.6" cy="168.0" r="5.6"/><circle cx="547.3" cy="369.3" r="5.6"/><circle cx="306.3" cy="92.4" r="5.6"/><circle cx="738.6" cy="179.2" r="5.6"/><circle cx="550.8" cy="286.1" r="5.6"/><circle cx="585.6" cy="322.7" r="5.6"/><circle cx="343.8" cy="107.5" r="5.6"/><circle cx="582.8" cy="277.2" r="5.6"/><circle cx="655.5" cy="485.9" r="5.6"/><circle cx="704.3" cy="276.3" r="5.6"/><circle cx="613.0" cy="201.0" r="5.6"/><circle cx="607.1" cy="278.9" r="5.6"/><circle cx="647.1" cy="188.4" r="5.6"/><circle cx="299.3" cy="69.4" r="5.6"/><circle cx="676.1" cy="503.6" r="5.6"/><circle cx="600.2" cy="81.5" r="5.6"/><circle cx="725.5" cy="159.5" r="5.6"/><circle cx="699.1" cy="417.4" r="5.6"/><circle cx="548.1" cy="159.2" r="5.6"/><circle cx="744.5" cy="209.8" r="5.6"/><circle cx="674.7" cy="228.2" r="5.6"/><circle cx="579.6" cy="287.2" r="5.6"/><circle cx="685.3" cy="502.8" r="5.6"/><circle cx="575.4" cy="444.4" r="5.6"/><circle cx="689.1" cy="431.9" r="5.6"/><circle cx="658.0" cy="235.6" r="5.6"/><circle cx="572.7" cy="342.1" r="5.6"/><circle cx="180.1" cy="164.4" r="5.6"/><circle cx="734.6" cy="463.7" r="5.6"/><circle cx="694.0" cy="132.4" r="5.6"/><circle cx="328.9" cy="81.7" r="5.6"/><circle cx="514.2" cy="28.0" r="5.6"/><circle cx="752.0" cy="507.3" r="5.6"/><circle cx="679.2" cy="517.5" r="5.6"/><circle cx="777.4" cy="224.5" r="5.6"/><circle cx="720.2" cy="524.9" r="5.6"/><circle cx="151.8" cy="210.2" r="5.6"/><circle cx="583.9" cy="72.2" r="5.6"/><circle cx="183.4" cy="236.0" r="5.6"/><circle cx="346.5" cy="124.4" r="5.6"/><circle cx="468.6" cy="112.4" r="5.6"/><circle cx="622.5" cy="123.4" r="5.6"/><circle cx="638.4" cy="297.6" r="5.6"/><circle cx="544.9" cy="295.8" r="5.6"/><circle cx="672.9" cy="497.8" r="5.6"/><circle cx="167.5" cy="267.0" r="5.6"/><circle cx="625.8" cy="93.4" r="5.6"/><circle cx="514.6" cy="151.6" r="5.6"/><circle cx="662.1" cy="468.2" r="5.6"/><circle cx="178.7" cy="140.5" r="5.6"/><circle cx="656.5" cy="431.7" r="5.6"/><circle cx="223.3" cy="123.5" r="5.6"/><circle cx="231.4" cy="165.8" r="5.6"/><circle cx="656.2" cy="399.7" r="5.6"/><circle cx="584.2" cy="437.9" r="5.6"/><circle cx="666.0" cy="224.4" r="5.6"/><circle cx="210.1" cy="248.4" r="5.6"/><circle cx="625.0" cy="201.9" r="5.6"/><circle cx="719.0" cy="479.3" r="5.6"/><circle cx="534.2" cy="153.4" r="5.6"/><circle cx="173.1" cy="226.2" r="5.6"/><circle cx="694.3" cy="260.0" r="5.6"/><circle cx="574.2" cy="278.2" r="5.6"/><circle cx="592.6" cy="74.1" r="5.6"/><circle cx="466.3" cy="131.0" r="5.6"/><circle cx="721.5" cy="247.6" r="5.6"/><circle cx="620.7" cy="167.8" r="5.6"/><circle cx="514.5" cy="360.8" r="5.6"/><circle cx="238.3" cy="116.4" r="5.6"/><circle cx="472.8" cy="57.3" r="5.6"/><circle cx="605.9" cy="404.5" r="5.6"/><circle cx="636.2" cy="101.4" r="5.6"/><circle cx="350.1" cy="106.9" r="5.6"/><circle cx="553.1" cy="96.3" r="5.6"/><circle cx="519.7" cy="140.4" r="5.6"/><circle cx="266.9" cy="102.7" r="5.6"/><circle cx="577.7" cy="319.0" r="5.6"/><circle cx="415.5" cy="127.4" r="5.6"/><circle cx="589.7" cy="113.7" r="5.6"/><circle cx="590.1" cy="165.4" r="5.6"/><circle cx="707.6" cy="169.3" r="5.6"/><circle cx="712.0" cy="491.3" r="5.6"/><circle cx="508.7" cy="89.4" r="5.6"/><circle cx="173.5" cy="163.7" r="5.6"/><circle cx="683.3" cy="245.5" r="5.6"/><circle cx="583.6" cy="408.1" r="5.6"/><circle cx="360.2" cy="121.2" r="5.6"/><circle cx="243.7" cy="89.6" r="5.6"/><circle cx="753.0" cy="189.6" r="5.6"/><circle cx="728.7" cy="215.2" r="5.6"/><circle cx="687.0" cy="133.7" r="5.6"/><circle cx="508.5" cy="370.2" r="5.6"/><circle cx="520.3" cy="44.6" r="5.6"/><circle cx="608.8" cy="118.8" r="5.6"/><circle cx="354.1" cy="106.7" r="5.6"/><circle cx="555.6" cy="303.6" r="5.6"/><circle cx="697.3" cy="123.3" r="5.6"/><circle cx="739.8" cy="260.3" r="5.6"/><circle cx="570.5" cy="148.3" r="5.6"/><circle cx="407.1" cy="133.8" r="5.6"/><circle cx="552.7" cy="72.1" r="5.6"/><circle cx="719.7" cy="515.5" r="5.6"/><circle cx="567.0" cy="410.1" r="5.6"/><circle cx="275.1" cy="88.0" r="5.6"/><circle cx="401.4" cy="126.9" r="5.6"/><circle cx="695.8" cy="294.8" r="5.6"/><circle cx="667.7" cy="508.8" r="5.6"/><circle cx="672.9" cy="230.1" r="5.6"/><circle cx="167.4" cy="217.7" r="5.6"/><circle cx="695.2" cy="235.7" r="5.6"/><circle cx="458.9" cy="112.1" r="5.6"/><circle cx="655.7" cy="220.9" r="5.6"/><circle cx="744.5" cy="527.1" r="5.6"/><circle cx="757.1" cy="196.9" r="5.6"/><circle cx="635.5" cy="449.9" r="5.6"/><circle cx="474.6" cy="147.9" r="5.6"/><circle cx="360.1" cy="138.1" r="5.6"/><circle cx="598.8" cy="409.9" r="5.6"/><circle cx="179.0" cy="252.3" r="5.6"/><circle cx="715.8" cy="226.2" r="5.6"/><circle cx="467.1" cy="150.7" r="5.6"/><circle cx="660.9" cy="244.0" r="5.6"/><circle cx="621.2" cy="425.2" r="5.6"/><circle cx="522.6" cy="347.0" r="5.6"/><circle cx="766.0" cy="203.7" r="5.6"/><circle cx="592.5" cy="284.8" r="5.6"/><circle cx="456.8" cy="121.3" r="5.6"/><circle cx="186.8" cy="142.6" r="5.6"/><circle cx="660.6" cy="504.5" r="5.6"/><circle cx="564.6" cy="98.1" r="5.6"/><circle cx="499.5" cy="139.7" r="5.6"/><circle cx="670.3" cy="182.1" r="5.6"/><circle cx="721.2" cy="259.4" r="5.6"/><circle cx="366.7" cy="126.8" r="5.6"/><circle cx="531.9" cy="57.3" r="5.6"/><circle cx="654.9" cy="191.8" r="5.6"/><circle cx="611.9" cy="122.6" r="5.6"/><circle cx="583.7" cy="428.0" r="5.6"/><circle cx="578.1" cy="273.5" r="5.6"/><circle cx="529.6" cy="72.0" r="5.6"/><circle cx="540.6" cy="379.2" r="5.6"/><circle cx="698.6" cy="505.5" r="5.6"/><circle cx="677.9" cy="233.6" r="5.6"/><circle cx="539.3" cy="75.3" r="5.6"/><circle cx="316.2" cy="93.4" r="5.6"/><circle cx="674.1" cy="414.4" r="5.6"/><circle cx="590.1" cy="343.0" r="5.6"/><circle cx="700.1" cy="380.1" r="5.6"/><circle cx="675.5" cy="237.8" r="5.6"/><circle cx="772.4" cy="182.9" r="5.6"/><circle cx="652.1" cy="429.1" r="5.6"/><circle cx="712.5" cy="164.8" r="5.6"/><circle cx="681.9" cy="291.8" r="5.6"/><circle cx="656.1" cy="472.8" r="5.6"/><circle cx="567.9" cy="279.9" r="5.6"/><circle cx="491.4" cy="125.7" r="5.6"/><circle cx="755.4" cy="505.5" r="5.6"/><circle cx="534.2" cy="95.8" r="5.6"/><circle cx="571.7" cy="261.2" r="5.6"/><circle cx="216.8" cy="157.9" r="5.6"/><circle cx="434.7" cy="124.4" r="5.6"/><circle cx="683.7" cy="515.0" r="5.6"/><circle cx="729.2" cy="500.0" r="5.6"/><circle cx="556.0" cy="366.6" r="5.6"/><circle cx="182.5" cy="206.6" r="5.6"/><circle cx="217.8" cy="251.5" r="5.6"/><circle cx="612.6" cy="431.7" r="5.6"/><circle cx="158.4" cy="179.3" r="5.6"/><circle cx="250.7" cy="162.1" r="5.6"/><circle cx="249.4" cy="134.3" r="5.6"/><circle cx="576.4" cy="317.3" r="5.6"/><circle cx="663.5" cy="508.0" r="5.6"/><circle cx="720.7" cy="452.6" r="5.6"/><circle cx="760.1" cy="164.8" r="5.6"/><circle cx="652.2" cy="242.1" r="5.6"/><circle cx="701.8" cy="249.9" r="5.6"/><circle cx="567.4" cy="332.1" r="5.6"/><circle cx="587.7" cy="147.8" r="5.6"/><circle cx="439.6" cy="159.2" r="5.6"/><circle cx="673.4" cy="415.0" r="5.6"/><circle cx="531.9" cy="109.8" r="5.6"/><circle cx="571.9" cy="295.4" r="5.6"/><circle cx="190.7" cy="148.2" r="5.6"/><circle cx="646.9" cy="485.8" r="5.6"/><circle cx="664.9" cy="442.3" r="5.6"/><circle cx="587.5" cy="178.0" r="5.6"/><circle cx="746.6" cy="534.0" r="5.6"/><circle cx="520.8" cy="113.8" r="5.6"/><circle cx="614.6" cy="352.7" r="5.6"/><circle cx="684.3" cy="461.8" r="5.6"/><circle cx="672.6" cy="486.1" r="5.6"/><circle cx="217.2" cy="115.2" r="5.6"/><circle cx="487.1" cy="108.7" r="5.6"/><circle cx="724.6" cy="418.9" r="5.6"/><circle cx="481.1" cy="156.9" r="5.6"/><circle cx="620.1" cy="276.7" r="5.6"/><circle cx="321.7" cy="311.0" r="5.6"/><circle cx="327.1" cy="361.0" r="5.6"/><circle cx="275.2" cy="386.0" r="5.6"/><circle cx="218.2" cy="396.0" r="5.6"/><circle cx="232.6" cy="393.6" r="5.6"/><circle cx="232.2" cy="393.1" r="5.6"/><circle cx="208.8" cy="396.7" r="5.6"/><circle cx="259.2" cy="389.1" r="5.6"/><circle cx="212.3" cy="395.8" r="5.6"/><circle cx="323.5" cy="359.4" r="5.6"/><circle cx="308.0" cy="375.6" r="5.6"/><circle cx="229.9" cy="394.1" r="5.6"/><circle cx="217.9" cy="395.9" r="5.6"/><circle cx="290.2" cy="382.8" r="5.6"/><circle cx="240.0" cy="392.3" r="5.6"/><circle cx="281.9" cy="384.4" r="5.6"/><circle cx="236.9" cy="393.9" r="5.6"/><circle cx="219.3" cy="395.2" r="5.6"/><circle cx="330.1" cy="318.3" r="5.6"/><circle cx="297.6" cy="376.0" r="5.6"/><circle cx="227.1" cy="394.9" r="5.6"/><circle cx="209.5" cy="396.4" r="5.6"/><circle cx="301.5" cy="378.4" r="5.6"/><circle cx="244.7" cy="392.9" r="5.6"/><circle cx="317.6" cy="369.7" r="5.6"/><circle cx="227.9" cy="394.2" r="5.6"/><circle cx="249.3" cy="392.3" r="5.6"/><circle cx="207.2" cy="396.6" r="5.6"/><circle cx="279.1" cy="383.3" r="5.6"/><circle cx="328.9" cy="313.5" r="5.6"/><circle cx="249.9" cy="391.3" r="5.6"/><circle cx="225.4" cy="394.7" r="5.6"/><circle cx="280.8" cy="382.7" r="5.6"/><circle cx="207.7" cy="396.4" r="5.6"/><circle cx="269.5" cy="387.5" r="5.6"/><circle cx="330.1" cy="331.5" r="5.6"/><circle cx="235.8" cy="393.6" r="5.6"/><circle cx="213.2" cy="396.4" r="5.6"/><circle cx="214.5" cy="395.7" r="5.6"/><circle cx="237.0" cy="393.7" r="5.6"/><circle cx="216.0" cy="396.1" r="5.6"/><circle cx="224.2" cy="283.6" r="5.6"/><circle cx="263.3" cy="389.2" r="5.6"/><circle cx="326.7" cy="316.2" r="5.6"/><circle cx="324.7" cy="357.3" r="5.6"/><circle cx="225.7" cy="394.4" r="5.6"/><circle cx="287.0" cy="300.1" r="5.6"/><circle cx="221.1" cy="395.2" r="5.6"/><circle cx="253.9" cy="391.9" r="5.6"/><circle cx="211.0" cy="396.7" r="5.6"/><circle cx="295.3" cy="298.3" r="5.6"/><circle cx="220.6" cy="395.4" r="5.6"/><circle cx="252.7" cy="291.5" r="5.6"/><circle cx="278.2" cy="384.1" r="5.6"/><circle cx="225.7" cy="394.1" r="5.6"/><circle cx="258.3" cy="390.3" r="5.6"/><circle cx="240.7" cy="392.2" r="5.6"/><circle cx="245.8" cy="392.2" r="5.6"/><circle cx="322.8" cy="363.9" r="5.6"/><circle cx="224.4" cy="394.5" r="5.6"/><circle cx="322.8" cy="307.5" r="5.6"/><circle cx="331.0" cy="355.5" r="5.6"/><circle cx="273.4" cy="386.2" r="5.6"/><circle cx="321.2" cy="312.8" r="5.6"/><circle cx="322.2" cy="310.9" r="5.6"/><circle cx="235.3" cy="392.7" r="5.6"/><circle cx="228.3" cy="394.3" r="5.6"/><circle cx="241.3" cy="392.9" r="5.6"/><circle cx="241.5" cy="392.2" r="5.6"/><circle cx="253.7" cy="290.4" r="5.6"/><circle cx="328.8" cy="361.5" r="5.6"/><circle cx="326.7" cy="363.5" r="5.6"/><circle cx="221.1" cy="395.6" r="5.6"/><circle cx="316.1" cy="300.9" r="5.6"/><circle cx="324.2" cy="317.7" r="5.6"/><circle cx="304.1" cy="377.6" r="5.6"/><circle cx="257.1" cy="390.3" r="5.6"/><circle cx="321.7" cy="361.2" r="5.6"/><circle cx="235.0" cy="393.6" r="5.6"/><circle cx="244.5" cy="391.3" r="5.6"/><circle cx="322.8" cy="368.7" r="5.6"/><circle cx="236.0" cy="393.0" r="5.6"/><circle cx="269.7" cy="297.2" r="5.6"/><circle cx="326.3" cy="316.8" r="5.6"/><circle cx="259.9" cy="388.7" r="5.6"/><circle cx="240.5" cy="392.9" r="5.6"/><circle cx="301.4" cy="377.8" r="5.6"/><circle cx="208.6" cy="397.2" r="5.6"/><circle cx="332.5" cy="354.6" r="5.6"/><circle cx="272.2" cy="296.8" r="5.6"/><circle cx="236.4" cy="393.8" r="5.6"/><circle cx="207.6" cy="397.0" r="5.6"/><circle cx="319.5" cy="303.4" r="5.6"/><circle cx="291.4" cy="299.3" r="5.6"/><circle cx="285.9" cy="297.9" r="5.6"/><circle cx="332.8" cy="330.5" r="5.6"/><circle cx="226.1" cy="394.8" r="5.6"/><circle cx="238.1" cy="392.3" r="5.6"/><circle cx="254.7" cy="390.0" r="5.6"/><circle cx="330.1" cy="352.8" r="5.6"/><circle cx="322.7" cy="366.3" r="5.6"/><circle cx="229.2" cy="394.4" r="5.6"/><circle cx="267.3" cy="387.9" r="5.6"/><circle cx="262.0" cy="390.3" r="5.6"/><circle cx="247.8" cy="391.0" r="5.6"/><circle cx="278.4" cy="386.9" r="5.6"/><circle cx="273.9" cy="388.1" r="5.6"/><circle cx="328.9" cy="312.7" r="5.6"/><circle cx="290.7" cy="381.5" r="5.6"/><circle cx="323.5" cy="307.9" r="5.6"/><circle cx="320.2" cy="304.9" r="5.6"/><circle cx="254.9" cy="391.8" r="5.6"/><circle cx="226.4" cy="394.7" r="5.6"/><circle cx="322.2" cy="303.4" r="5.6"/><circle cx="302.5" cy="374.3" r="5.6"/><circle cx="218.8" cy="395.3" r="5.6"/><circle cx="240.6" cy="392.4" r="5.6"/><circle cx="327.8" cy="341.9" r="5.6"/><circle cx="217.5" cy="395.7" r="5.6"/><circle cx="213.2" cy="395.8" r="5.6"/><circle cx="220.1" cy="395.7" r="5.6"/><circle cx="261.7" cy="391.1" r="5.6"/><circle cx="207.2" cy="397.0" r="5.6"/><circle cx="319.5" cy="306.7" r="5.6"/><circle cx="328.1" cy="315.6" r="5.6"/><circle cx="261.9" cy="390.7" r="5.6"/><circle cx="315.6" cy="365.8" r="5.6"/><circle cx="240.9" cy="392.9" r="5.6"/><circle cx="272.9" cy="294.0" r="5.6"/><circle cx="217.8" cy="395.7" r="5.6"/><circle cx="229.5" cy="394.6" r="5.6"/><circle cx="239.2" cy="393.2" r="5.6"/><circle cx="273.5" cy="386.3" r="5.6"/><circle cx="249.8" cy="391.7" r="5.6"/><circle cx="238.1" cy="392.2" r="5.6"/><circle cx="266.8" cy="388.1" r="5.6"/><circle cx="208.2" cy="397.1" r="5.6"/><circle cx="258.4" cy="389.4" r="5.6"/><circle cx="263.0" cy="389.4" r="5.6"/><circle cx="329.6" cy="354.3" r="5.6"/><circle cx="244.8" cy="392.1" r="5.6"/><circle cx="221.6" cy="395.1" r="5.6"/><circle cx="249.6" cy="391.9" r="5.6"/><circle cx="246.9" cy="390.9" r="5.6"/><circle cx="275.3" cy="293.8" r="5.6"/><circle cx="290.5" cy="299.0" r="5.6"/><circle cx="325.6" cy="325.4" r="5.6"/><circle cx="213.5" cy="395.8" r="5.6"/><circle cx="235.3" cy="393.9" r="5.6"/><circle cx="238.2" cy="392.9" r="5.6"/><circle cx="230.0" cy="394.1" r="5.6"/><circle cx="248.6" cy="390.7" r="5.6"/><circle cx="299.8" cy="296.7" r="5.6"/><circle cx="265.6" cy="390.2" r="5.6"/><circle cx="249.2" cy="294.5" r="5.6"/><circle cx="246.6" cy="391.6" r="5.6"/><circle cx="327.0" cy="309.9" r="5.6"/><circle cx="237.4" cy="285.0" r="5.6"/><circle cx="213.2" cy="396.4" r="5.6"/><circle cx="295.4" cy="302.0" r="5.6"/><circle cx="325.3" cy="316.1" r="5.6"/><circle cx="264.0" cy="388.1" r="5.6"/><circle cx="226.6" cy="394.9" r="5.6"/><circle cx="293.7" cy="379.2" r="5.6"/><circle cx="207.5" cy="396.7" r="5.6"/><circle cx="248.7" cy="392.1" r="5.6"/><circle cx="265.1" cy="389.2" r="5.6"/><circle cx="241.8" cy="392.3" r="5.6"/><circle cx="220.5" cy="395.5" r="5.6"/><circle cx="237.8" cy="393.2" r="5.6"/><circle cx="259.3" cy="390.9" r="5.6"/><circle cx="237.1" cy="393.2" r="5.6"/><circle cx="324.5" cy="346.8" r="5.6"/><circle cx="219.6" cy="395.3" r="5.6"/><circle cx="319.5" cy="308.1" r="5.6"/><circle cx="226.1" cy="394.0" r="5.6"/><circle cx="324.1" cy="314.8" r="5.6"/><circle cx="265.4" cy="390.5" r="5.6"/><circle cx="262.1" cy="389.5" r="5.6"/><circle cx="306.8" cy="301.0" r="5.6"/><circle cx="256.7" cy="389.7" r="5.6"/><circle cx="209.3" cy="397.1" r="5.6"/><circle cx="245.2" cy="392.8" r="5.6"/><circle cx="257.5" cy="391.3" r="5.6"/><circle cx="229.0" cy="393.9" r="5.6"/><circle cx="238.1" cy="392.9" r="5.6"/><circle cx="318.4" cy="367.8" r="5.6"/><circle cx="318.8" cy="305.2" r="5.6"/><circle cx="256.2" cy="391.4" r="5.6"/><circle cx="263.1" cy="388.4" r="5.6"/><circle cx="208.1" cy="397.2" r="5.6"/><circle cx="325.0" cy="310.3" r="5.6"/><circle cx="308.9" cy="300.1" r="5.6"/><circle cx="259.8" cy="293.6" r="5.6"/><circle cx="258.5" cy="389.2" r="5.6"/><circle cx="246.8" cy="391.2" r="5.6"/><circle cx="225.9" cy="394.7" r="5.6"/><circle cx="247.5" cy="391.5" r="5.6"/><circle cx="260.7" cy="293.9" r="5.6"/><circle cx="330.7" cy="323.1" r="5.6"/><circle cx="229.0" cy="393.8" r="5.6"/><circle cx="265.8" cy="389.1" r="5.6"/><circle cx="263.0" cy="388.3" r="5.6"/><circle cx="324.6" cy="313.5" r="5.6"/><circle cx="237.3" cy="393.6" r="5.6"/><circle cx="223.8" cy="395.1" r="5.6"/><circle cx="314.8" cy="366.5" r="5.6"/><circle cx="252.5" cy="389.9" r="5.6"/><circle cx="231.8" cy="394.3" r="5.6"/><circle cx="217.3" cy="396.0" r="5.6"/><circle cx="256.6" cy="267.0" r="5.6"/><circle cx="226.7" cy="243.2" r="5.6"/><circle cx="272.3" cy="271.2" r="5.6"/><circle cx="238.2" cy="255.5" r="5.6"/><circle cx="227.4" cy="247.7" r="5.6"/><circle cx="252.6" cy="260.7" r="5.6"/><circle cx="230.7" cy="248.2" r="5.6"/><circle cx="247.8" cy="263.2" r="5.6"/><circle cx="221.8" cy="243.7" r="5.6"/><circle cx="255.1" cy="264.1" r="5.6"/><circle cx="226.2" cy="243.6" r="5.6"/><circle cx="231.0" cy="192.0" r="5.6"/><circle cx="196.0" cy="200.0" r="5.6"/><circle cx="559.5" cy="221.0" r="5.6"/><circle cx="566.0" cy="224.0" r="5.6"/><circle cx="584.6" cy="220.0" r="5.6"/><circle cx="592.0" cy="214.0" r="5.6"/><circle cx="597.0" cy="218.0" r="5.6"/><circle cx="606.0" cy="222.0" r="5.6"/><circle cx="612.5" cy="215.0" r="5.6"/><circle cx="629.0" cy="230.0" r="5.6"/><circle cx="572.0" cy="259.0" r="5.6"/><circle cx="573.0" cy="262.0" r="5.6"/><circle cx="248.0" cy="264.0" r="5.6"/><circle cx="250.0" cy="265.0" r="5.6"/><circle cx="252.0" cy="266.0" r="5.6"/><circle cx="246.0" cy="263.0" r="5.6"/><circle cx="249.0" cy="263.0" r="5.6"/><circle cx="730.8" cy="297.0" r="5.6"/><circle cx="731.7" cy="305.8" r="5.6"/><circle cx="740.4" cy="305.8" r="5.6"/><circle cx="658.0" cy="321.7" r="5.6"/><circle cx="746.2" cy="543.8" r="5.6"/><circle cx="751.5" cy="534.4" r="5.6"/><circle cx="744.7" cy="534.4" r="5.6"/><circle cx="748.6" cy="536.7" r="5.6"/><circle cx="749.4" cy="527.8" r="5.6"/><circle cx="753.0" cy="536.5" r="5.6"/><circle cx="749.1" cy="536.3" r="5.6"/><circle cx="744.3" cy="539.3" r="5.6"/><circle cx="749.7" cy="536.0" r="5.6"/><circle cx="745.3" cy="540.4" r="5.6"/><circle cx="742.1" cy="529.4" r="5.6"/><circle cx="747.8" cy="533.6" r="5.6"/><circle cx="737.4" cy="532.9" r="5.6"/><circle cx="743.9" cy="531.0" r="5.6"/><circle cx="739.3" cy="537.2" r="5.6"/><circle cx="750.0" cy="535.8" r="5.6"/><circle cx="731.4" cy="488.3" r="5.6"/><circle cx="735.8" cy="517.4" r="5.6"/><circle cx="730.1" cy="480.3" r="5.6"/><circle cx="743.9" cy="517.7" r="5.6"/><circle cx="739.7" cy="530.1" r="5.6"/><circle cx="729.2" cy="489.2" r="5.6"/><circle cx="733.2" cy="464.6" r="5.6"/><circle cx="733.4" cy="471.0" r="5.6"/><circle cx="739.8" cy="511.0" r="5.6"/><circle cx="747.5" cy="527.0" r="5.6"/><circle cx="732.5" cy="469.1" r="5.6"/><circle cx="732.9" cy="504.1" r="5.6"/><circle cx="735.0" cy="484.9" r="5.6"/><circle cx="741.6" cy="537.2" r="5.6"/><circle cx="729.7" cy="487.0" r="5.6"/><circle cx="732.0" cy="473.7" r="5.6"/><circle cx="738.1" cy="526.5" r="5.6"/><circle cx="746.8" cy="515.5" r="5.6"/><circle cx="746.8" cy="534.4" r="5.6"/><circle cx="729.9" cy="476.1" r="5.6"/><circle cx="744.9" cy="531.3" r="5.6"/><circle cx="734.4" cy="494.9" r="5.6"/><circle cx="727.4" cy="478.9" r="5.6"/><circle cx="738.4" cy="468.8" r="5.6"/><circle cx="727.6" cy="480.1" r="5.6"/><circle cx="737.5" cy="508.5" r="5.6"/><circle cx="729.1" cy="471.9" r="5.6"/><circle cx="736.2" cy="492.0" r="5.6"/><circle cx="735.4" cy="472.7" r="5.6"/><circle cx="738.0" cy="529.0" r="5.6"/></g>
<rect x="99.5" y="5.8" width="722.2" height="567.1" fill="none" stroke="#000" stroke-width="1.4"/>
<g stroke="#000" stroke-width="1.4"><line x1="204.8" y1="572.9" x2="204.8" y2="579.1999999999999"/><line x1="353.3" y1="572.9" x2="353.3" y2="579.1999999999999"/><line x1="501.8" y1="572.9" x2="501.8" y2="579.1999999999999"/><line x1="650.3" y1="572.9" x2="650.3" y2="579.1999999999999"/><line x1="798.8" y1="572.9" x2="798.8" y2="579.1999999999999"/><line x1="99.5" y1="42.2" x2="93.2" y2="42.2"/><line x1="99.5" y1="146.0" x2="93.2" y2="146.0"/><line x1="99.5" y1="249.8" x2="93.2" y2="249.8"/><line x1="99.5" y1="353.6" x2="93.2" y2="353.6"/><line x1="99.5" y1="457.4" x2="93.2" y2="457.4"/><line x1="99.5" y1="561.2" x2="93.2" y2="561.2"/></g>
<g text-anchor="middle"><text transform="translate(204.8,618.9) scale(1,1.03)">−10</text><text transform="translate(353.3,618.9) scale(1,1.03)">−5</text><text transform="translate(501.8,618.9) scale(1,1.03)">0</text><text transform="translate(650.3,618.9) scale(1,1.03)">5</text><text transform="translate(798.8,618.9) scale(1,1.03)">10</text></g>
<g text-anchor="end"><text transform="translate(87.2,59.9) scale(1,1.03)">10</text><text transform="translate(87.2,163.7) scale(1,1.03)">5</text><text transform="translate(87.2,267.5) scale(1,1.03)">0</text><text transform="translate(87.2,371.3) scale(1,1.03)">−5</text><text transform="translate(87.2,475.1) scale(1,1.03)">−10</text><text transform="translate(87.2,578.9) scale(1,1.03)">−15</text></g>
<rect x="121.2" y="411.2" width="412.8" height="139.8" rx="6.5" fill="#fff" fill-opacity=".8" stroke="#ccc" stroke-opacity=".8" stroke-width="1.6"/>
<circle cx="181.8" cy="450.4" r="5.6" fill="#f00" fill-opacity=".2" stroke="#f00" stroke-opacity=".2" stroke-width="1.5"/><circle cx="181.8" cy="513.8" r="5.6" fill="#00f" fill-opacity=".2" stroke="#00f" stroke-opacity=".2" stroke-width="1.5"/>
<text transform="translate(260,462.2) scale(.991,1.02)">Original</text><text transform="translate(260,525.4) scale(.991,1.02)">Diffusion-TS</text>
</svg></body></html>
